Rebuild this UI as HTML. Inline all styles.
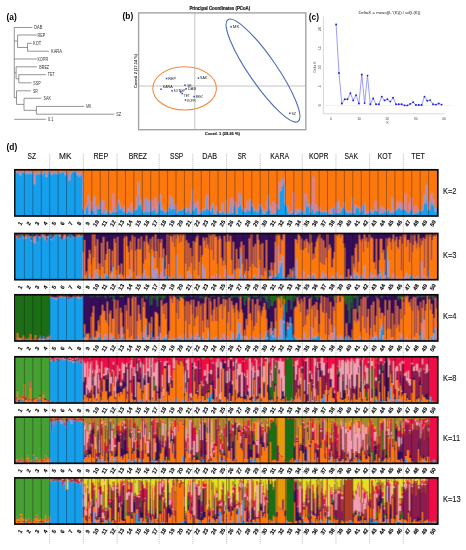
<!DOCTYPE html>
<html><head><meta charset="utf-8"><style>
html,body{margin:0;padding:0;background:#fff;}
body{width:466px;height:550px;overflow:hidden;}
svg{display:block;font-family:"Liberation Sans", sans-serif;will-change:transform;}
</style></head><body>
<svg width="466" height="550" viewBox="0 0 466 550">
<path d="M14.3 27.5V97.6M14.3 27.5H32.3M17.6 35V47.5M14.3 41H17.6M17.6 35H36.8M17.6 47.5H27.5M27.5 43.3V51.2M27.5 43.3H31.8M27.5 51.2H48.8M14.3 59H36.8M16.1 66.8V78.8M14.3 72.8H16.1M16.1 66.8H36.8M16.1 78.8H18.8M18.8 74.7V82.8M18.8 74.7H45.8M18.8 82.8H31.5M16.5 90.8V104.4M14.3 97.6H16.5M16.5 90.8H30.8M16.5 104.4H24M24 98.3V110.3M24 98.3H41.3M24 110.3H36.4M36.4 106.4V114.2M36.4 106.4H84.4M36.4 114.2H114.3M14.3 119.3H45.8" stroke="#7a7a7a" stroke-width="0.8" fill="none"/>
<text transform="translate(34.20 29.20) scale(0.831 1)" font-size="4.8" fill="#333" font-weight="normal" text-anchor="start" >DAB</text>
<text transform="translate(37.60 36.70) scale(0.770 1)" font-size="4.8" fill="#333" font-weight="normal" text-anchor="start" >REP</text>
<text transform="translate(33.00 45.00) scale(0.831 1)" font-size="4.8" fill="#333" font-weight="normal" text-anchor="start" >KOT</text>
<text transform="translate(51.00 52.90) scale(0.842 1)" font-size="4.8" fill="#333" font-weight="normal" text-anchor="start" >KARA</text>
<text transform="translate(37.60 60.70) scale(0.772 1)" font-size="4.8" fill="#333" font-weight="normal" text-anchor="start" >KOPR</text>
<text transform="translate(39.30 68.50) scale(0.766 1)" font-size="4.8" fill="#333" font-weight="normal" text-anchor="start" >BREZ</text>
<text transform="translate(47.80 76.40) scale(0.750 1)" font-size="4.8" fill="#333" font-weight="normal" text-anchor="start" >TET</text>
<text transform="translate(33.30 84.50) scale(0.760 1)" font-size="4.8" fill="#333" font-weight="normal" text-anchor="start" >SSP</text>
<text transform="translate(33.00 92.50) scale(0.720 1)" font-size="4.8" fill="#333" font-weight="normal" text-anchor="start" >SR</text>
<text transform="translate(43.60 100.00) scale(0.781 1)" font-size="4.8" fill="#333" font-weight="normal" text-anchor="start" >SAK</text>
<text transform="translate(86.30 108.10) scale(0.694 1)" font-size="4.8" fill="#333" font-weight="normal" text-anchor="start" >MK</text>
<text transform="translate(116.30 115.90) scale(0.799 1)" font-size="4.8" fill="#333" font-weight="normal" text-anchor="start" >SZ</text>
<text transform="translate(48.00 121.00) scale(0.794 1)" font-size="4.8" fill="#333" font-weight="normal" text-anchor="start" >0.1</text>
<text x="6.5" y="19.6" font-size="8.4" fill="#000" font-weight="bold" text-anchor="start" >(a)</text>
<text x="122.5" y="19.4" font-size="8.4" fill="#000" font-weight="bold" text-anchor="start" >(b)</text>
<text transform="translate(219.80 9.60) scale(0.871 1)" font-size="5.0" fill="#111" font-weight="bold" text-anchor="middle" stroke="#111" stroke-width="0.18" >Principal Coordinates (PCoA)</text>
<path d="M194.8 13V129.6M138.6 86H305.6" stroke="#b4b4b4" stroke-width="0.8"/>
<rect x="138.6" y="12.9" width="167.2" height="116.8" fill="none" stroke="#a4a4a4" stroke-width="1.4"/>
<ellipse cx="184.6" cy="88.4" rx="31.8" ry="21.6" fill="none" stroke="#f08a40" stroke-width="1.1"/>
<ellipse cx="263" cy="70.6" rx="61.8" ry="13.8" transform="rotate(55.4 263 70.6)" fill="none" stroke="#4a70b4" stroke-width="1.1"/>
<rect x="230.35" y="26.05" width="1.5" height="1.5" fill="#2a40d0"/>
<rect x="289.05" y="112.55" width="1.5" height="1.5" fill="#2a40d0"/>
<rect x="165.85" y="77.75" width="1.5" height="1.5" fill="#2a40d0"/>
<rect x="197.65" y="77.25" width="1.5" height="1.5" fill="#2a40d0"/>
<rect x="184.25" y="84.45" width="1.5" height="1.5" fill="#2a40d0"/>
<rect x="185.25" y="88.05" width="1.5" height="1.5" fill="#2a40d0"/>
<rect x="160.25" y="88.45" width="1.5" height="1.5" fill="#2a40d0"/>
<rect x="171.35" y="90.15" width="1.5" height="1.5" fill="#2a40d0"/>
<rect x="180.05" y="91.25" width="1.5" height="1.5" fill="#2a40d0"/>
<rect x="181.55" y="92.85" width="1.5" height="1.5" fill="#2a40d0"/>
<rect x="193.35" y="95.85" width="1.5" height="1.5" fill="#2a40d0"/>
<rect x="184.75" y="99.25" width="1.5" height="1.5" fill="#2a40d0"/>
<text transform="translate(232.80 28.30) scale(1.083 1)" font-size="4.0" fill="#222" font-weight="normal" text-anchor="start" >MK</text>
<text transform="translate(291.40 114.80) scale(0.900 1)" font-size="4.0" fill="#222" font-weight="normal" text-anchor="start" >SZ</text>
<text transform="translate(168.30 79.80) scale(0.936 1)" font-size="4.0" fill="#222" font-weight="normal" text-anchor="start" >REP</text>
<text transform="translate(200.00 79.30) scale(0.924 1)" font-size="4.0" fill="#222" font-weight="normal" text-anchor="start" >SAK</text>
<text transform="translate(187.20 86.50) scale(0.792 1)" font-size="4.0" fill="#222" font-weight="normal" text-anchor="start" >SR</text>
<text transform="translate(188.00 90.10) scale(0.973 1)" font-size="4.0" fill="#222" font-weight="normal" text-anchor="start" >DAB</text>
<text transform="translate(162.70 88.40) scale(0.918 1)" font-size="4.0" fill="#222" font-weight="normal" text-anchor="start" >KARA</text>
<text transform="translate(173.80 92.30) scale(0.754 1)" font-size="4.0" fill="#222" font-weight="normal" text-anchor="start" >KOT</text>
<text transform="translate(179.20 92.30) scale(0.775 1)" font-size="4.0" fill="#222" font-weight="normal" text-anchor="start" >SSP</text>
<text transform="translate(183.80 96.50) scale(0.794 1)" font-size="4.0" fill="#222" font-weight="normal" text-anchor="start" >TET</text>
<text transform="translate(195.80 97.90) scale(0.656 1)" font-size="4.0" fill="#222" font-weight="normal" text-anchor="start" >BREZ</text>
<text transform="translate(187.20 101.60) scale(0.759 1)" font-size="4.0" fill="#222" font-weight="normal" text-anchor="start" >KOPR</text>
<text x="136.6" y="71" font-size="3.9" fill="#222" font-weight="bold" text-anchor="middle" textLength="34" lengthAdjust="spacingAndGlyphs" transform="rotate(-90 136.6 71)">Coord. 2 (17.14 %)</text>
<text transform="translate(222.40 134.60) scale(1.009 1)" font-size="4.0" fill="#111" font-weight="bold" text-anchor="middle" stroke="#111" stroke-width="0.12" >Coord. 1 (29.26 %)</text>
<text x="308.8" y="19.5" font-size="8.4" fill="#000" font-weight="bold" text-anchor="start" >(c)</text>
<text x="389.5" y="13.9" font-size="4.2" fill="#222" font-weight="normal" text-anchor="middle" textLength="62" lengthAdjust="spacingAndGlyphs" >DeltaK = mean(|L''(K)|) / sd(L(K))</text>
<path d="M323.4 16.5V113.8H444.5" stroke="#b0b0b0" stroke-width="0.5" fill="none"/>
<path d="M325 105.4H451" stroke="#ece6c8" stroke-width="0.6"/>
<text x="321.3" y="29.1" font-size="3.3" fill="#444" font-weight="normal" text-anchor="middle" transform="rotate(-90 321.3 29.1)">20</text>
<text x="321.3" y="48.18" font-size="3.3" fill="#444" font-weight="normal" text-anchor="middle" transform="rotate(-90 321.3 48.2)">15</text>
<text x="321.3" y="67.25999999999999" font-size="3.3" fill="#444" font-weight="normal" text-anchor="middle" transform="rotate(-90 321.3 67.3)">10</text>
<text x="321.3" y="86.34" font-size="3.3" fill="#444" font-weight="normal" text-anchor="middle" transform="rotate(-90 321.3 86.3)">5</text>
<text x="321.3" y="105.41999999999999" font-size="3.3" fill="#444" font-weight="normal" text-anchor="middle" transform="rotate(-90 321.3 105.4)">0</text>
<text x="316.4" y="67" font-size="3.3" fill="#444" font-weight="normal" text-anchor="middle" transform="rotate(-90 316.4 67)">Delta K</text>
<text x="330.8" y="120" font-size="3.3" fill="#444" font-weight="normal" text-anchor="middle" >0</text>
<text x="359.08000000000004" y="120" font-size="3.3" fill="#444" font-weight="normal" text-anchor="middle" >10</text>
<text x="387.36" y="120" font-size="3.3" fill="#444" font-weight="normal" text-anchor="middle" >20</text>
<text x="415.64" y="120" font-size="3.3" fill="#444" font-weight="normal" text-anchor="middle" >30</text>
<text x="443.92" y="120" font-size="3.3" fill="#444" font-weight="normal" text-anchor="middle" >40</text>
<text x="387.7" y="123.6" font-size="3.3" fill="#444" font-weight="normal" text-anchor="middle" >K</text>
<path d="M336.1 24.5 L339.0 73.0 L341.8 103.5 L344.7 99.3 L347.5 99.3 L350.4 93.2 L353.2 100.4 L356.1 95.1 L358.9 103.5 L361.8 74.5 L364.6 103.1 L367.5 75.6 L370.3 104.3 L373.2 98.5 L376.0 104.3 L378.9 104.3 L381.7 96.6 L384.6 100.4 L387.4 99.3 L390.3 101.6 L393.1 97.8 L396.0 104.3 L398.8 104.3 L401.7 104.3 L404.5 105.4 L407.4 105.4 L410.2 103.9 L413.1 102.3 L415.9 105.0 L418.8 105.0 L421.6 105.0 L424.5 96.6 L427.3 100.8 L430.2 100.1 L433.0 104.3 L435.9 104.6 L438.7 103.5 L441.6 104.6" stroke="#7a7aff" stroke-width="0.75" fill="none"/>
<g fill="#1e1ee6"><circle cx="336.1" cy="24.5" r="0.95"/><circle cx="339.0" cy="73.0" r="0.95"/><circle cx="341.8" cy="103.5" r="0.95"/><circle cx="344.7" cy="99.3" r="0.95"/><circle cx="347.5" cy="99.3" r="0.95"/><circle cx="350.4" cy="93.2" r="0.95"/><circle cx="353.2" cy="100.4" r="0.95"/><circle cx="356.1" cy="95.1" r="0.95"/><circle cx="358.9" cy="103.5" r="0.95"/><circle cx="361.8" cy="74.5" r="0.95"/><circle cx="364.6" cy="103.1" r="0.95"/><circle cx="367.5" cy="75.6" r="0.95"/><circle cx="370.3" cy="104.3" r="0.95"/><circle cx="373.2" cy="98.5" r="0.95"/><circle cx="376.0" cy="104.3" r="0.95"/><circle cx="378.9" cy="104.3" r="0.95"/><circle cx="381.7" cy="96.6" r="0.95"/><circle cx="384.6" cy="100.4" r="0.95"/><circle cx="387.4" cy="99.3" r="0.95"/><circle cx="390.3" cy="101.6" r="0.95"/><circle cx="393.1" cy="97.8" r="0.95"/><circle cx="396.0" cy="104.3" r="0.95"/><circle cx="398.8" cy="104.3" r="0.95"/><circle cx="401.7" cy="104.3" r="0.95"/><circle cx="404.5" cy="105.4" r="0.95"/><circle cx="407.4" cy="105.4" r="0.95"/><circle cx="410.2" cy="103.9" r="0.95"/><circle cx="413.1" cy="102.3" r="0.95"/><circle cx="415.9" cy="105.0" r="0.95"/><circle cx="418.8" cy="105.0" r="0.95"/><circle cx="421.6" cy="105.0" r="0.95"/><circle cx="424.5" cy="96.6" r="0.95"/><circle cx="427.3" cy="100.8" r="0.95"/><circle cx="430.2" cy="100.1" r="0.95"/><circle cx="433.0" cy="104.3" r="0.95"/><circle cx="435.9" cy="104.6" r="0.95"/><circle cx="438.7" cy="103.5" r="0.95"/><circle cx="441.6" cy="104.6" r="0.95"/></g>
<text x="6.5" y="149.8" font-size="8.4" fill="#000" font-weight="bold" text-anchor="start" >(d)</text>
<text transform="translate(31.75 159.00) scale(0.792 1)" font-size="8.4" fill="#111" font-weight="normal" text-anchor="middle" stroke="#111" stroke-width="0.12" >SZ</text>
<text transform="translate(65.20 159.00) scale(0.984 1)" font-size="8.4" fill="#111" font-weight="normal" text-anchor="middle" stroke="#111" stroke-width="0.12" >MK</text>
<text transform="translate(100.80 159.00) scale(0.857 1)" font-size="8.4" fill="#111" font-weight="normal" text-anchor="middle" stroke="#111" stroke-width="0.12" >REP</text>
<text transform="translate(137.90 159.00) scale(0.812 1)" font-size="8.4" fill="#111" font-weight="normal" text-anchor="middle" stroke="#111" stroke-width="0.12" >BREZ</text>
<text transform="translate(176.60 159.00) scale(0.791 1)" font-size="8.4" fill="#111" font-weight="normal" text-anchor="middle" stroke="#111" stroke-width="0.12" >SSP</text>
<text transform="translate(209.60 159.00) scale(0.857 1)" font-size="8.4" fill="#111" font-weight="normal" text-anchor="middle" stroke="#111" stroke-width="0.12" >DAB</text>
<text transform="translate(241.90 159.00) scale(0.728 1)" font-size="8.4" fill="#111" font-weight="normal" text-anchor="middle" stroke="#111" stroke-width="0.12" >SR</text>
<text transform="translate(279.60 159.00) scale(0.822 1)" font-size="8.4" fill="#111" font-weight="normal" text-anchor="middle" stroke="#111" stroke-width="0.12" >KARA</text>
<text transform="translate(318.70 159.00) scale(0.823 1)" font-size="8.4" fill="#111" font-weight="normal" text-anchor="middle" stroke="#111" stroke-width="0.12" >KOPR</text>
<text transform="translate(351.20 159.00) scale(0.803 1)" font-size="8.4" fill="#111" font-weight="normal" text-anchor="middle" stroke="#111" stroke-width="0.12" >SAK</text>
<text transform="translate(384.80 159.00) scale(0.822 1)" font-size="8.4" fill="#111" font-weight="normal" text-anchor="middle" stroke="#111" stroke-width="0.12" >KOT</text>
<text transform="translate(418.00 159.00) scale(0.851 1)" font-size="8.4" fill="#111" font-weight="normal" text-anchor="middle" stroke="#111" stroke-width="0.12" >TET</text>
<path d="M49.68 154V544M83.36 154V544M117.04 154V544M159.14 154V544M192.82 154V544M226.50 154V544M260.18 154V544M302.28 154V544M335.96 154V544M369.64 154V544M403.32 154V544" stroke="#8c8c8c" stroke-width="0.6" stroke-dasharray="0.9 0.9"/>
<filter id="bl0" filterUnits="userSpaceOnUse" x="16.0" y="170.6" width="421.0" height="44.60000000000002"><feConvolveMatrix order="3" edgeMode="duplicate" kernelMatrix="0.02 0.04 0.02 0.18 0.48 0.18 0.02 0.04 0.02"/></filter>
<g filter="url(#bl0)">
<rect x="16.0" y="170.6" width="421.0" height="44.60000000000002" fill="#fc780a"/>
<g transform="translate(16.0,0) scale(1,0.1)">
<path d="M0 2152V1720h1v13h1v-17h1v12h1v29h1v-37h1v-4h1v5h1v11h1v9h1v-20h1v-2h1v22h1v-23h1v-4h1v25h1v-21h1v7h1v119h1v-117h1v17h1v-20h1v20h1v-23h1v-1h1v13h1v15h1v-22h1v-8h1v1h1v50h1v-35h1v-21h1v-5h1v15h1v28h1v-20h1v6h1v-17h1v-5h1v27h1v-2h1v-17h1h1v8h1v-10h1v2h1v-1h1v-3h1v35h1v-24h1v5h1v-2h1v74h1v-61h1v-30h1v2h1v1h1v5h1v-8h1v-5h1v40h1v-29h1v46h1v-18h1v-29h1v16h1v354h1v48h1v-55h1v-16h1v-26h1v-95h1v194h1v-40h1v-91h1v77h1v29h1v-154h1v184h1v-84h1h1v28h1h1v-83h1v8h1v119h1v-135h1v93h1v49h1v-16h1v-33h1v14h1v30h1v2h1v-28h1v16h1v-194h1v150h1v44h1v-2h1v-69h1v-58h1v35h1v64h1v-23h1v5h1v39h1v-59h1v73h1v1h1v-17h1v-40h1v48h1v-16h1v-77h1v104h1v-30h1v-18h1v17h1v-12h1v-124h1v-152h1v240h1v-62h1v60h1v41h1v30h1v-1h1v-138h1v-7h1v148h1v-116h1v111h1v-115h1v-6h1v116h1v-47h1v26h1v-122h1v161h1v-12h1v-82h1v-29h1v-72h1v163h1v-38h1v47h1v-6h1v22h1v-13h1v10h1v-43h1v-25h1v-95h1v136h1v-114h1v70h1v36h1v-52h1v99h1v-32h1v-11h1v14h1v-3h1v1h1v-16h1v-2h1v-5h1v-6h1v49h1v-42h1v-7h1v35h1v23h1v-123h1v-119h1v215h1v-71h1v46h1v-11h1v-66h1v140h1v-48h1v15h1v18h1v-31h1v-15h1v24h1v-19h1v-116h1v-30h1v148h1v10h1v20h1v-61h1v-28h1v54h1v52h1v6h1v-82h1v55h1v7h1v5h1v-20h1v23h1v-105h1v97h1v-11h1v26h1v-144h1v143h1v-12h1v11h1v-78h1v-82h1v154h1v-136h1v70h1v-45h1v124h1v-89h1v16h1v-149h1v25h1v107h1v42h1v13h1v-32h1v44h1v-16h1v-103h1v87h1v21h1v-123h1v39h1v42h1v-8h1v53h1v-5h1v-12h1v28h1v-22h1v-62h1v-6h1v35h1v22h1v48h1v4h1v-49h1v22h1v-118h1v-54h1v155h1v-50h1v90h1v-1h1v-121h1v126h1v-12h1v-94h1v51h1v5h1v-278h1v97h1v-36h1v-98h1v6h1v63h1v199h1v17h1v-8h1v68h1v19h1v-11h1v-28h1v33h1v-213h1v182h1v44h1v-57h1v38h1v-43h1v41h1v-33h1v8h1v19h1v3h1v13h1v-211h1v63h1v77h1v-2h1v-24h1v86h1v-86h1v57h1v-332h1v367h1v-96h1v72h1v-18h1v23h1v-50h1v46h1v15h1v-9h1v8h1v-16h1v11h1v-19h1v42h1v-15h1v-35h1v42h1v10h1v-64h1v-4h1v9h1v44h1v-108h1v110h1v-120h1v121h1v-15h1v-26h1v-23h1v8h1v-58h1v80h1v22h1v-18h1v30h1v-21h1v4h1v17h1v-150h1v74h1v76h1v-86h1v35h1v2h1v-1h1v-14h1v57h1v-9h1v-64h1v-7h1v-10h1v111h1v-13h1v-26h1v30h1v-14h1v-39h1v36h1v15h1v-26h1v-12h1v-91h1v105h1v-38h1v47h1v20h1v-43h1v-34h1v67h1v-51h1v18h1v25h1v5h1v-36h1v6h1v9h1v27h1v-8h1v-152h1v158h1v-18h1v-22h1v11h1v-89h1v70h1v1h1v-67h1v84h1v-7h1v-65h1v72h1v-165h1v168h1v17h1v10h1v-90h1v66h1v-134h1v117h1v51h1v-5h1v-84h1v73h1v9h1v-39h1v20h1v-12h1v10h1v-13h1v-60h1v-97h1v93h1v-191h1v158h1v98h1v-7h1v-83h1v-84h1v118h1v-59h1v79h1v56h1v-40h1V2152Z" fill="#16a0ec"/>
</g></g>
<path d="M24.42 170.6V215.20000000000002M32.84 170.6V215.20000000000002M41.26 170.6V215.20000000000002M49.68 170.6V215.20000000000002M58.10 170.6V215.20000000000002M66.52 170.6V215.20000000000002M74.94 170.6V215.20000000000002M83.36 170.6V215.20000000000002M91.78 170.6V215.20000000000002M100.20 170.6V215.20000000000002M108.62 170.6V215.20000000000002M117.04 170.6V215.20000000000002M125.46 170.6V215.20000000000002M133.88 170.6V215.20000000000002M142.30 170.6V215.20000000000002M150.72 170.6V215.20000000000002M159.14 170.6V215.20000000000002M167.56 170.6V215.20000000000002M175.98 170.6V215.20000000000002M184.40 170.6V215.20000000000002M192.82 170.6V215.20000000000002M201.24 170.6V215.20000000000002M209.66 170.6V215.20000000000002M218.08 170.6V215.20000000000002M226.50 170.6V215.20000000000002M234.92 170.6V215.20000000000002M243.34 170.6V215.20000000000002M251.76 170.6V215.20000000000002M260.18 170.6V215.20000000000002M268.60 170.6V215.20000000000002M277.02 170.6V215.20000000000002M285.44 170.6V215.20000000000002M293.86 170.6V215.20000000000002M302.28 170.6V215.20000000000002M310.70 170.6V215.20000000000002M319.12 170.6V215.20000000000002M327.54 170.6V215.20000000000002M335.96 170.6V215.20000000000002M344.38 170.6V215.20000000000002M352.80 170.6V215.20000000000002M361.22 170.6V215.20000000000002M369.64 170.6V215.20000000000002M378.06 170.6V215.20000000000002M386.48 170.6V215.20000000000002M394.90 170.6V215.20000000000002M403.32 170.6V215.20000000000002M411.74 170.6V215.20000000000002M420.16 170.6V215.20000000000002M428.58 170.6V215.20000000000002" stroke="#101018" stroke-width="0.6" opacity="0.6"/>
<rect x="14.9" y="169.8" width="422.90000000000003" height="46.199999999999996" fill="none" stroke="#0a0a0a" stroke-width="1.7"/>
<text x="20.21" y="225.3" font-size="5.5" fill="#000" font-weight="bold" text-anchor="middle" stroke="#000" stroke-width="0.12" transform="rotate(-60 20.21 223.40)">1</text>
<text x="28.63" y="225.3" font-size="5.5" fill="#000" font-weight="bold" text-anchor="middle" stroke="#000" stroke-width="0.12" transform="rotate(-60 28.63 223.40)">2</text>
<text x="37.05" y="225.3" font-size="5.5" fill="#000" font-weight="bold" text-anchor="middle" stroke="#000" stroke-width="0.12" transform="rotate(-60 37.05 223.40)">3</text>
<text x="45.47" y="225.3" font-size="5.5" fill="#000" font-weight="bold" text-anchor="middle" stroke="#000" stroke-width="0.12" transform="rotate(-60 45.47 223.40)">4</text>
<text x="53.89" y="225.3" font-size="5.5" fill="#000" font-weight="bold" text-anchor="middle" stroke="#000" stroke-width="0.12" transform="rotate(-60 53.89 223.40)">5</text>
<text x="62.31" y="225.3" font-size="5.5" fill="#000" font-weight="bold" text-anchor="middle" stroke="#000" stroke-width="0.12" transform="rotate(-60 62.31 223.40)">6</text>
<text x="70.72999999999999" y="225.3" font-size="5.5" fill="#000" font-weight="bold" text-anchor="middle" stroke="#000" stroke-width="0.12" transform="rotate(-60 70.73 223.40)">7</text>
<text x="79.15" y="225.3" font-size="5.5" fill="#000" font-weight="bold" text-anchor="middle" stroke="#000" stroke-width="0.12" transform="rotate(-60 79.15 223.40)">8</text>
<text x="87.57" y="225.3" font-size="5.5" fill="#000" font-weight="bold" text-anchor="middle" stroke="#000" stroke-width="0.12" transform="rotate(-60 87.57 223.40)">9</text>
<text x="95.99" y="225.3" font-size="5.5" fill="#000" font-weight="bold" text-anchor="middle" stroke="#000" stroke-width="0.12" transform="rotate(-60 95.99 223.40)">10</text>
<text x="104.41" y="225.3" font-size="5.5" fill="#000" font-weight="bold" text-anchor="middle" stroke="#000" stroke-width="0.12" transform="rotate(-60 104.41 223.40)">11</text>
<text x="112.83" y="225.3" font-size="5.5" fill="#000" font-weight="bold" text-anchor="middle" stroke="#000" stroke-width="0.12" transform="rotate(-60 112.83 223.40)">12</text>
<text x="121.25" y="225.3" font-size="5.5" fill="#000" font-weight="bold" text-anchor="middle" stroke="#000" stroke-width="0.12" transform="rotate(-60 121.25 223.40)">13</text>
<text x="129.67000000000002" y="225.3" font-size="5.5" fill="#000" font-weight="bold" text-anchor="middle" stroke="#000" stroke-width="0.12" transform="rotate(-60 129.67 223.40)">14</text>
<text x="138.09" y="225.3" font-size="5.5" fill="#000" font-weight="bold" text-anchor="middle" stroke="#000" stroke-width="0.12" transform="rotate(-60 138.09 223.40)">15</text>
<text x="146.51" y="225.3" font-size="5.5" fill="#000" font-weight="bold" text-anchor="middle" stroke="#000" stroke-width="0.12" transform="rotate(-60 146.51 223.40)">16</text>
<text x="154.93" y="225.3" font-size="5.5" fill="#000" font-weight="bold" text-anchor="middle" stroke="#000" stroke-width="0.12" transform="rotate(-60 154.93 223.40)">17</text>
<text x="163.35" y="225.3" font-size="5.5" fill="#000" font-weight="bold" text-anchor="middle" stroke="#000" stroke-width="0.12" transform="rotate(-60 163.35 223.40)">18</text>
<text x="171.77" y="225.3" font-size="5.5" fill="#000" font-weight="bold" text-anchor="middle" stroke="#000" stroke-width="0.12" transform="rotate(-60 171.77 223.40)">19</text>
<text x="180.19" y="225.3" font-size="5.5" fill="#000" font-weight="bold" text-anchor="middle" stroke="#000" stroke-width="0.12" transform="rotate(-60 180.19 223.40)">20</text>
<text x="188.60999999999999" y="225.3" font-size="5.5" fill="#000" font-weight="bold" text-anchor="middle" stroke="#000" stroke-width="0.12" transform="rotate(-60 188.61 223.40)">21</text>
<text x="197.03" y="225.3" font-size="5.5" fill="#000" font-weight="bold" text-anchor="middle" stroke="#000" stroke-width="0.12" transform="rotate(-60 197.03 223.40)">22</text>
<text x="205.45" y="225.3" font-size="5.5" fill="#000" font-weight="bold" text-anchor="middle" stroke="#000" stroke-width="0.12" transform="rotate(-60 205.45 223.40)">23</text>
<text x="213.87" y="225.3" font-size="5.5" fill="#000" font-weight="bold" text-anchor="middle" stroke="#000" stroke-width="0.12" transform="rotate(-60 213.87 223.40)">24</text>
<text x="222.29" y="225.3" font-size="5.5" fill="#000" font-weight="bold" text-anchor="middle" stroke="#000" stroke-width="0.12" transform="rotate(-60 222.29 223.40)">25</text>
<text x="230.71" y="225.3" font-size="5.5" fill="#000" font-weight="bold" text-anchor="middle" stroke="#000" stroke-width="0.12" transform="rotate(-60 230.71 223.40)">26</text>
<text x="239.13" y="225.3" font-size="5.5" fill="#000" font-weight="bold" text-anchor="middle" stroke="#000" stroke-width="0.12" transform="rotate(-60 239.13 223.40)">27</text>
<text x="247.55" y="225.3" font-size="5.5" fill="#000" font-weight="bold" text-anchor="middle" stroke="#000" stroke-width="0.12" transform="rotate(-60 247.55 223.40)">28</text>
<text x="255.97" y="225.3" font-size="5.5" fill="#000" font-weight="bold" text-anchor="middle" stroke="#000" stroke-width="0.12" transform="rotate(-60 255.97 223.40)">29</text>
<text x="264.39" y="225.3" font-size="5.5" fill="#000" font-weight="bold" text-anchor="middle" stroke="#000" stroke-width="0.12" transform="rotate(-60 264.39 223.40)">30</text>
<text x="272.81" y="225.3" font-size="5.5" fill="#000" font-weight="bold" text-anchor="middle" stroke="#000" stroke-width="0.12" transform="rotate(-60 272.81 223.40)">31</text>
<text x="281.23" y="225.3" font-size="5.5" fill="#000" font-weight="bold" text-anchor="middle" stroke="#000" stroke-width="0.12" transform="rotate(-60 281.23 223.40)">32</text>
<text x="289.65" y="225.3" font-size="5.5" fill="#000" font-weight="bold" text-anchor="middle" stroke="#000" stroke-width="0.12" transform="rotate(-60 289.65 223.40)">33</text>
<text x="298.07" y="225.3" font-size="5.5" fill="#000" font-weight="bold" text-anchor="middle" stroke="#000" stroke-width="0.12" transform="rotate(-60 298.07 223.40)">34</text>
<text x="306.49" y="225.3" font-size="5.5" fill="#000" font-weight="bold" text-anchor="middle" stroke="#000" stroke-width="0.12" transform="rotate(-60 306.49 223.40)">35</text>
<text x="314.91" y="225.3" font-size="5.5" fill="#000" font-weight="bold" text-anchor="middle" stroke="#000" stroke-width="0.12" transform="rotate(-60 314.91 223.40)">36</text>
<text x="323.33" y="225.3" font-size="5.5" fill="#000" font-weight="bold" text-anchor="middle" stroke="#000" stroke-width="0.12" transform="rotate(-60 323.33 223.40)">37</text>
<text x="331.75" y="225.3" font-size="5.5" fill="#000" font-weight="bold" text-anchor="middle" stroke="#000" stroke-width="0.12" transform="rotate(-60 331.75 223.40)">38</text>
<text x="340.17" y="225.3" font-size="5.5" fill="#000" font-weight="bold" text-anchor="middle" stroke="#000" stroke-width="0.12" transform="rotate(-60 340.17 223.40)">39</text>
<text x="348.59" y="225.3" font-size="5.5" fill="#000" font-weight="bold" text-anchor="middle" stroke="#000" stroke-width="0.12" transform="rotate(-60 348.59 223.40)">40</text>
<text x="357.01" y="225.3" font-size="5.5" fill="#000" font-weight="bold" text-anchor="middle" stroke="#000" stroke-width="0.12" transform="rotate(-60 357.01 223.40)">41</text>
<text x="365.43" y="225.3" font-size="5.5" fill="#000" font-weight="bold" text-anchor="middle" stroke="#000" stroke-width="0.12" transform="rotate(-60 365.43 223.40)">42</text>
<text x="373.85" y="225.3" font-size="5.5" fill="#000" font-weight="bold" text-anchor="middle" stroke="#000" stroke-width="0.12" transform="rotate(-60 373.85 223.40)">43</text>
<text x="382.27" y="225.3" font-size="5.5" fill="#000" font-weight="bold" text-anchor="middle" stroke="#000" stroke-width="0.12" transform="rotate(-60 382.27 223.40)">44</text>
<text x="390.69" y="225.3" font-size="5.5" fill="#000" font-weight="bold" text-anchor="middle" stroke="#000" stroke-width="0.12" transform="rotate(-60 390.69 223.40)">45</text>
<text x="399.11" y="225.3" font-size="5.5" fill="#000" font-weight="bold" text-anchor="middle" stroke="#000" stroke-width="0.12" transform="rotate(-60 399.11 223.40)">46</text>
<text x="407.53" y="225.3" font-size="5.5" fill="#000" font-weight="bold" text-anchor="middle" stroke="#000" stroke-width="0.12" transform="rotate(-60 407.53 223.40)">47</text>
<text x="415.95" y="225.3" font-size="5.5" fill="#000" font-weight="bold" text-anchor="middle" stroke="#000" stroke-width="0.12" transform="rotate(-60 415.95 223.40)">48</text>
<text x="424.37" y="225.3" font-size="5.5" fill="#000" font-weight="bold" text-anchor="middle" stroke="#000" stroke-width="0.12" transform="rotate(-60 424.37 223.40)">49</text>
<text x="432.79" y="225.3" font-size="5.5" fill="#000" font-weight="bold" text-anchor="middle" stroke="#000" stroke-width="0.12" transform="rotate(-60 432.79 223.40)">50</text>
<text transform="translate(442.90 193.80) scale(0.920 1)" font-size="8.2" fill="#111" font-weight="normal" text-anchor="start" stroke="#111" stroke-width="0.1" >K=2</text>
<filter id="bl1" filterUnits="userSpaceOnUse" x="16.0" y="234.29999999999998" width="421.0" height="44.599999999999994"><feConvolveMatrix order="3" edgeMode="duplicate" kernelMatrix="0.02 0.04 0.02 0.18 0.48 0.18 0.02 0.04 0.02"/></filter>
<g filter="url(#bl1)">
<rect x="16.0" y="234.29999999999998" width="421.0" height="44.599999999999994" fill="#34085a"/>
<g transform="translate(16.0,0) scale(1,0.1)">
<path d="M0 2789V2362h1v-9h1v33h1v-34h1v25h1v-23h1v-5h1v15h1v7h1v-18h1v-4h1v20h1v-21h1v17h1v-4h1v39h1v-47h1v16h1v-8h1v1h1v-13h1v68h1v-59h1h1v11h1v-22h1v1h1v2h1v5h1h1v50h1v-48h1v2h1v-9h1v-2h1v41h1v-34h1v21h1v-30h1v6h1v-3h1v7h1v-10h1v4h1v1h1v42h1h1v-39h1v-4h1v-2h1v25h1v-18h1v13h1v-20h1v32h1v-33h1v16h1v-6h1v15h1v1h1v-23h1v13h1v-13h1v-1h1v9h1v-4h1v-9h1v172h1v-117h1v349h1v-37h1v71h1v-199h1v-85h1v37h1v107h1v-295h1v228h1v-226h1v106h1v235h1v-298h1v239h1v61h1v-58h1v-206h1v240h1v-299h1v370h1v-141h1v-59h1v-126h1v79h1v-4h1v247h1v-24h1v-208h1v167h1v-285h1v42h1v272h1v-332h1v285h1v97h1v-18h1v-96h1v112h1v17h1v-385h1v-22h1v8h1v97h1v58h1v168h1v-277h1v86h1v-142h1v359h1v-348h1v139h1v253h1v-270h1v-103h1v113h1v-8h1v-127h1v363h1v-91h1v-223h1v179h1v-236h1v67h1v24h1v77h1v-133h1v97h1v-120h1v140h1v67h1v-227h1v161h1v171h1v-290h1v182h1v-145h1v-37h1v188h1v-93h1v278h1v-74h1v-137h1v-204h1v291h1v131h1v-415h1v11h1v50h1v-63h1v116h1v-123h1v37h1v-39h1v10h1v77h1v-86h1v71h1v-60h1v-12h1v9h1v281h1v-231h1v303h1v-277h1v241h1v-190h1v151h1v-74h1v-148h1v287h1v-277h1v-44h1v-19h1v395h1v-133h1v-163h1v112h1v-16h1v-176h1v30h1v73h1v-104h1v69h1v41h1v-138h1v13h1v140h1v-151h1v247h1v-248h1v22h1v-4h1v272h1v-240h1v-37h1v26h1v189h1v80h1v-50h1v-244h1v288h1v-232h1v-68h1v64h1v2h1v-58h1v240h1v141h1v-321h1v270h1v12h1v-211h1v193h1v-92h1v97h1v-213h1v-57h1v219h1v-184h1v287h1v-34h1v-114h1v191h1v-71h1v-327h1v287h1v-322h1v287h1v-171h1v203h1v-226h1v238h1v-333h1v48h1v198h1v-149h1v308h1v-319h1v334h1v-87h1v30h1v-308h1v380h1v-11h1v-70h1v58h1v-132h1v77h1v76h1v-155h1v-207h1v-61h1v-6h1v4h1v-1h1v182h1v-143h1v14h1v-60h1v2h1v430h1v-2h1v-2h1v-29h1v41h1v-98h1v96h1v-77h1v-33h1v104h1v-388h1v11h1v31h1v-83h1v12h1v135h1v-112h1v114h1v1h1v-94h1v74h1v-91h1v33h1v110h1v-94h1v-92h1v78h1v173h1v-60h1v46h1v-115h1v-53h1v-26h1v-24h1v-15h1v274h1v-241h1v253h1v-233h1v248h1v-174h1v99h1v-230h1v150h1v-49h1v29h1v198h1v-1h1v-88h1v-65h1v-168h1v1h1v5h1v-7h1v-5h1v29h1v-28h1v6h1v80h1v43h1v308h1v-12h1v15h1v-97h1v96h1v-31h1v1h1v-199h1v79h1v38h1v-196h1v-38h1v282h1v-104h1v-265h1v42h1v22h1v-25h1v127h1v-168h1v57h1v-33h1v104h1v-59h1v-71h1v39h1v-14h1v11h1v242h1v-6h1v71h1v-304h1v368h1v-18h1v-138h1v-212h1v1h1v138h1v-26h1v95h1v156h1v-369h1v79h1v-73h1v-13h1v46h1v76h1v-109h1v-38h1v71h1v-20h1v-34h1v103h1v15h1v-91h1v-31h1v339h1v-266h1v-91h1v26h1v-26h1v121h1v-67h1v-2h1v219h1v-185h1v-79h1v167h1v-68h1v-99h1v57h1v74h1v-49h1v-84h1v123h1v-91h1v65h1v-42h1v-27h1v300h1v-291h1v-35h1v411h1v-416h1v19h1v-22h1v251h1v-197h1v-44h1v2h1v10h1v-15h1V2789Z" fill="#fc780a"/>
<path d="M0 2789V2371h1v3h1v14h1v-30h1v25h1v-28h1v-1h1v13h1v20h1v-1h1v-17h1v6h1v-23h1v15h1v10h1v30h1v-53h1v31h1v48h1v-60h1v-22h1v71h1v-54h1v-3h1v13h1v-9h1v-17h1v13h1v-7h1v41h1v11h1v-27h1v-23h1v-8h1v-1h1v50h1v-36h1v21h1v-31h1v2h1v-7h1v12h1v-13h1v12h1v1h1v34h1v-1h1v-4h1v-14h1v-24h1v27h1v-20h1v13h1v-24h1v35h1v-35h1v16h1v-2h1v12h1h1v-15h1v12h1v-5h1v-2h1h1h1v-13h1v432h1v3h1v-11h1v9h1v-1h1v-46h1v43h1v-13h1v19h1v-1h1v-16h1v14h1v-88h1v31h1v55h1v-16h1v-1h1v-10h1v32h1h1v-10h1v1h1v-38h1v-1h1v15h1v5h1v5h1v21h1v-8h1v-118h1v120h1v8h1v-6h1v-22h1v22h1v-47h1v37h1v6h1v10h1v1h1v1h1v-13h1v7h1v-4h1v-28h1v32h1v3h1v-90h1v80h1v11h1v-3h1v-3h1v4h1v3h1v-46h1v47h1v-2h1v-30h1v26h1v-15h1v18h1v-87h1v61h1v26h1v-8h1v-7h1v14h1v-1h1v-9h1v-215h1v225h1v-94h1v97h1v-95h1v63h1v32h1v-44h1v38h1v-63h1v70h1v-217h1v216h1v-38h1v8h1v-4h1v22h1v8h1h1h1v-19h1v8h1v3h1v13h1v-243h1v240h1v-12h1v8h1v-30h1v16h1v12h1v8h1v-5h1v-6h1v2h1v8h1v-81h1v65h1v11h1v-45h1v42h1v5h1v-4h1v5h1v4h1v-3h1v-18h1v10h1v9h1v-9h1v-136h1v146h1v-105h1v98h1v8h1v-8h1v-7h1v14h1h1v-20h1v17h1v-27h1v25h1v4h1v-1h1v-52h1v48h1v-19h1v25h1v-1h1v-5h1v4h1v-5h1v-94h1v101h1v-1h1v-33h1v3h1v27h1v-23h1v19h1v3h1v-72h1v70h1v6h1v-10h1v4h1v-8h1v-235h1v209h1v38h1v3h1v-44h1v24h1v16h1v-1h1v2h1v-2h1v1h1v-3h1v2h1v-7h1v-29h1v18h1v10h1v9h1v2h1v-111h1v94h1v12h1v6h1v-1h1v-2h1v-2h1v-2h1v2h1v5h1v-67h1v67h1v-30h1v14h1v12h1v-14h1v-37h1v27h1v-305h1v279h1v-62h1v-67h1v28h1v-78h1v221h1v-12h1v19h1v-6h1v10h1v-20h1v22h1v-16h1v13h1v-16h1v-83h1v100h1v-20h1v-181h1v197h1v5h1h1v-4h1v-19h1v22h1v-82h1v76h1v3h1v-1h1v-8h1v-23h1v29h1v8h1v-11h1v-24h1v-25h1v32h1v19h1v8h1v-1h1v-11h1v13h1v-12h1v12h1v-65h1v61h1v-11h1v-37h1v25h1v27h1h1v-6h1v7h1v-20h1v-15h1v33h1v-5h1v-10h1v-51h1v66h1h1v1h1v-36h1v36h1v-2h1v-4h1v-39h1v43h1v1h1v2h1v-8h1v8h1v-30h1v26h1v-14h1v-67h1v83h1v-53h1v15h1v2h1v35h1v-2h1v-29h1v-11h1v30h1v8h1v-128h1v131h1v-1h1v-5h1v-8h1v13h1v-62h1v65h1h1v-41h1v23h1v-20h1v28h1v-18h1v20h1v-80h1v27h1v42h1v12h1h1v-70h1v72h1v-288h1v276h1v-174h1v179h1v2h1v7h1v-7h1v-46h1v54h1v-9h1v9h1v-14h1v8h1v8h1v-2h1v2h1v-18h1v19h1v-17h1v17h1v-64h1v54h1v5h1v-34h1v13h1v-5h1h1v29h1v-11h1v9h1v-14h1v-12h1v29h1v-3h1v4h1v-170h1v160h1v-31h1v39h1h1v-1h1v-3h1v-88h1v85h1v6h1v-13h1v8h1v9h1v-3h1v-8h1h1V2789Z" fill="#16a0ec"/>
</g></g>
<path d="M24.42 234.29999999999998V278.9M32.84 234.29999999999998V278.9M41.26 234.29999999999998V278.9M49.68 234.29999999999998V278.9M58.10 234.29999999999998V278.9M66.52 234.29999999999998V278.9M74.94 234.29999999999998V278.9M83.36 234.29999999999998V278.9M91.78 234.29999999999998V278.9M100.20 234.29999999999998V278.9M108.62 234.29999999999998V278.9M117.04 234.29999999999998V278.9M125.46 234.29999999999998V278.9M133.88 234.29999999999998V278.9M142.30 234.29999999999998V278.9M150.72 234.29999999999998V278.9M159.14 234.29999999999998V278.9M167.56 234.29999999999998V278.9M175.98 234.29999999999998V278.9M184.40 234.29999999999998V278.9M192.82 234.29999999999998V278.9M201.24 234.29999999999998V278.9M209.66 234.29999999999998V278.9M218.08 234.29999999999998V278.9M226.50 234.29999999999998V278.9M234.92 234.29999999999998V278.9M243.34 234.29999999999998V278.9M251.76 234.29999999999998V278.9M260.18 234.29999999999998V278.9M268.60 234.29999999999998V278.9M277.02 234.29999999999998V278.9M285.44 234.29999999999998V278.9M293.86 234.29999999999998V278.9M302.28 234.29999999999998V278.9M310.70 234.29999999999998V278.9M319.12 234.29999999999998V278.9M327.54 234.29999999999998V278.9M335.96 234.29999999999998V278.9M344.38 234.29999999999998V278.9M352.80 234.29999999999998V278.9M361.22 234.29999999999998V278.9M369.64 234.29999999999998V278.9M378.06 234.29999999999998V278.9M386.48 234.29999999999998V278.9M394.90 234.29999999999998V278.9M403.32 234.29999999999998V278.9M411.74 234.29999999999998V278.9M420.16 234.29999999999998V278.9M428.58 234.29999999999998V278.9" stroke="#101018" stroke-width="0.6" opacity="0.6"/>
<rect x="14.9" y="233.5" width="422.90000000000003" height="46.199999999999996" fill="none" stroke="#0a0a0a" stroke-width="1.7"/>
<text x="20.21" y="289.0" font-size="5.5" fill="#000" font-weight="bold" text-anchor="middle" stroke="#000" stroke-width="0.12" transform="rotate(-60 20.21 287.10)">1</text>
<text x="28.63" y="289.0" font-size="5.5" fill="#000" font-weight="bold" text-anchor="middle" stroke="#000" stroke-width="0.12" transform="rotate(-60 28.63 287.10)">2</text>
<text x="37.05" y="289.0" font-size="5.5" fill="#000" font-weight="bold" text-anchor="middle" stroke="#000" stroke-width="0.12" transform="rotate(-60 37.05 287.10)">3</text>
<text x="45.47" y="289.0" font-size="5.5" fill="#000" font-weight="bold" text-anchor="middle" stroke="#000" stroke-width="0.12" transform="rotate(-60 45.47 287.10)">4</text>
<text x="53.89" y="289.0" font-size="5.5" fill="#000" font-weight="bold" text-anchor="middle" stroke="#000" stroke-width="0.12" transform="rotate(-60 53.89 287.10)">5</text>
<text x="62.31" y="289.0" font-size="5.5" fill="#000" font-weight="bold" text-anchor="middle" stroke="#000" stroke-width="0.12" transform="rotate(-60 62.31 287.10)">6</text>
<text x="70.72999999999999" y="289.0" font-size="5.5" fill="#000" font-weight="bold" text-anchor="middle" stroke="#000" stroke-width="0.12" transform="rotate(-60 70.73 287.10)">7</text>
<text x="79.15" y="289.0" font-size="5.5" fill="#000" font-weight="bold" text-anchor="middle" stroke="#000" stroke-width="0.12" transform="rotate(-60 79.15 287.10)">8</text>
<text x="87.57" y="289.0" font-size="5.5" fill="#000" font-weight="bold" text-anchor="middle" stroke="#000" stroke-width="0.12" transform="rotate(-60 87.57 287.10)">9</text>
<text x="95.99" y="289.0" font-size="5.5" fill="#000" font-weight="bold" text-anchor="middle" stroke="#000" stroke-width="0.12" transform="rotate(-60 95.99 287.10)">10</text>
<text x="104.41" y="289.0" font-size="5.5" fill="#000" font-weight="bold" text-anchor="middle" stroke="#000" stroke-width="0.12" transform="rotate(-60 104.41 287.10)">11</text>
<text x="112.83" y="289.0" font-size="5.5" fill="#000" font-weight="bold" text-anchor="middle" stroke="#000" stroke-width="0.12" transform="rotate(-60 112.83 287.10)">12</text>
<text x="121.25" y="289.0" font-size="5.5" fill="#000" font-weight="bold" text-anchor="middle" stroke="#000" stroke-width="0.12" transform="rotate(-60 121.25 287.10)">13</text>
<text x="129.67000000000002" y="289.0" font-size="5.5" fill="#000" font-weight="bold" text-anchor="middle" stroke="#000" stroke-width="0.12" transform="rotate(-60 129.67 287.10)">14</text>
<text x="138.09" y="289.0" font-size="5.5" fill="#000" font-weight="bold" text-anchor="middle" stroke="#000" stroke-width="0.12" transform="rotate(-60 138.09 287.10)">15</text>
<text x="146.51" y="289.0" font-size="5.5" fill="#000" font-weight="bold" text-anchor="middle" stroke="#000" stroke-width="0.12" transform="rotate(-60 146.51 287.10)">16</text>
<text x="154.93" y="289.0" font-size="5.5" fill="#000" font-weight="bold" text-anchor="middle" stroke="#000" stroke-width="0.12" transform="rotate(-60 154.93 287.10)">17</text>
<text x="163.35" y="289.0" font-size="5.5" fill="#000" font-weight="bold" text-anchor="middle" stroke="#000" stroke-width="0.12" transform="rotate(-60 163.35 287.10)">18</text>
<text x="171.77" y="289.0" font-size="5.5" fill="#000" font-weight="bold" text-anchor="middle" stroke="#000" stroke-width="0.12" transform="rotate(-60 171.77 287.10)">19</text>
<text x="180.19" y="289.0" font-size="5.5" fill="#000" font-weight="bold" text-anchor="middle" stroke="#000" stroke-width="0.12" transform="rotate(-60 180.19 287.10)">20</text>
<text x="188.60999999999999" y="289.0" font-size="5.5" fill="#000" font-weight="bold" text-anchor="middle" stroke="#000" stroke-width="0.12" transform="rotate(-60 188.61 287.10)">21</text>
<text x="197.03" y="289.0" font-size="5.5" fill="#000" font-weight="bold" text-anchor="middle" stroke="#000" stroke-width="0.12" transform="rotate(-60 197.03 287.10)">22</text>
<text x="205.45" y="289.0" font-size="5.5" fill="#000" font-weight="bold" text-anchor="middle" stroke="#000" stroke-width="0.12" transform="rotate(-60 205.45 287.10)">23</text>
<text x="213.87" y="289.0" font-size="5.5" fill="#000" font-weight="bold" text-anchor="middle" stroke="#000" stroke-width="0.12" transform="rotate(-60 213.87 287.10)">24</text>
<text x="222.29" y="289.0" font-size="5.5" fill="#000" font-weight="bold" text-anchor="middle" stroke="#000" stroke-width="0.12" transform="rotate(-60 222.29 287.10)">25</text>
<text x="230.71" y="289.0" font-size="5.5" fill="#000" font-weight="bold" text-anchor="middle" stroke="#000" stroke-width="0.12" transform="rotate(-60 230.71 287.10)">26</text>
<text x="239.13" y="289.0" font-size="5.5" fill="#000" font-weight="bold" text-anchor="middle" stroke="#000" stroke-width="0.12" transform="rotate(-60 239.13 287.10)">27</text>
<text x="247.55" y="289.0" font-size="5.5" fill="#000" font-weight="bold" text-anchor="middle" stroke="#000" stroke-width="0.12" transform="rotate(-60 247.55 287.10)">28</text>
<text x="255.97" y="289.0" font-size="5.5" fill="#000" font-weight="bold" text-anchor="middle" stroke="#000" stroke-width="0.12" transform="rotate(-60 255.97 287.10)">29</text>
<text x="264.39" y="289.0" font-size="5.5" fill="#000" font-weight="bold" text-anchor="middle" stroke="#000" stroke-width="0.12" transform="rotate(-60 264.39 287.10)">30</text>
<text x="272.81" y="289.0" font-size="5.5" fill="#000" font-weight="bold" text-anchor="middle" stroke="#000" stroke-width="0.12" transform="rotate(-60 272.81 287.10)">31</text>
<text x="281.23" y="289.0" font-size="5.5" fill="#000" font-weight="bold" text-anchor="middle" stroke="#000" stroke-width="0.12" transform="rotate(-60 281.23 287.10)">32</text>
<text x="289.65" y="289.0" font-size="5.5" fill="#000" font-weight="bold" text-anchor="middle" stroke="#000" stroke-width="0.12" transform="rotate(-60 289.65 287.10)">33</text>
<text x="298.07" y="289.0" font-size="5.5" fill="#000" font-weight="bold" text-anchor="middle" stroke="#000" stroke-width="0.12" transform="rotate(-60 298.07 287.10)">34</text>
<text x="306.49" y="289.0" font-size="5.5" fill="#000" font-weight="bold" text-anchor="middle" stroke="#000" stroke-width="0.12" transform="rotate(-60 306.49 287.10)">35</text>
<text x="314.91" y="289.0" font-size="5.5" fill="#000" font-weight="bold" text-anchor="middle" stroke="#000" stroke-width="0.12" transform="rotate(-60 314.91 287.10)">36</text>
<text x="323.33" y="289.0" font-size="5.5" fill="#000" font-weight="bold" text-anchor="middle" stroke="#000" stroke-width="0.12" transform="rotate(-60 323.33 287.10)">37</text>
<text x="331.75" y="289.0" font-size="5.5" fill="#000" font-weight="bold" text-anchor="middle" stroke="#000" stroke-width="0.12" transform="rotate(-60 331.75 287.10)">38</text>
<text x="340.17" y="289.0" font-size="5.5" fill="#000" font-weight="bold" text-anchor="middle" stroke="#000" stroke-width="0.12" transform="rotate(-60 340.17 287.10)">39</text>
<text x="348.59" y="289.0" font-size="5.5" fill="#000" font-weight="bold" text-anchor="middle" stroke="#000" stroke-width="0.12" transform="rotate(-60 348.59 287.10)">40</text>
<text x="357.01" y="289.0" font-size="5.5" fill="#000" font-weight="bold" text-anchor="middle" stroke="#000" stroke-width="0.12" transform="rotate(-60 357.01 287.10)">41</text>
<text x="365.43" y="289.0" font-size="5.5" fill="#000" font-weight="bold" text-anchor="middle" stroke="#000" stroke-width="0.12" transform="rotate(-60 365.43 287.10)">42</text>
<text x="373.85" y="289.0" font-size="5.5" fill="#000" font-weight="bold" text-anchor="middle" stroke="#000" stroke-width="0.12" transform="rotate(-60 373.85 287.10)">43</text>
<text x="382.27" y="289.0" font-size="5.5" fill="#000" font-weight="bold" text-anchor="middle" stroke="#000" stroke-width="0.12" transform="rotate(-60 382.27 287.10)">44</text>
<text x="390.69" y="289.0" font-size="5.5" fill="#000" font-weight="bold" text-anchor="middle" stroke="#000" stroke-width="0.12" transform="rotate(-60 390.69 287.10)">45</text>
<text x="399.11" y="289.0" font-size="5.5" fill="#000" font-weight="bold" text-anchor="middle" stroke="#000" stroke-width="0.12" transform="rotate(-60 399.11 287.10)">46</text>
<text x="407.53" y="289.0" font-size="5.5" fill="#000" font-weight="bold" text-anchor="middle" stroke="#000" stroke-width="0.12" transform="rotate(-60 407.53 287.10)">47</text>
<text x="415.95" y="289.0" font-size="5.5" fill="#000" font-weight="bold" text-anchor="middle" stroke="#000" stroke-width="0.12" transform="rotate(-60 415.95 287.10)">48</text>
<text x="424.37" y="289.0" font-size="5.5" fill="#000" font-weight="bold" text-anchor="middle" stroke="#000" stroke-width="0.12" transform="rotate(-60 424.37 287.10)">49</text>
<text x="432.79" y="289.0" font-size="5.5" fill="#000" font-weight="bold" text-anchor="middle" stroke="#000" stroke-width="0.12" transform="rotate(-60 432.79 287.10)">50</text>
<text transform="translate(442.90 257.50) scale(0.920 1)" font-size="8.2" fill="#111" font-weight="normal" text-anchor="start" stroke="#111" stroke-width="0.1" >K=3</text>
<filter id="bl2" filterUnits="userSpaceOnUse" x="16.0" y="295.6" width="421.0" height="44.599999999999966"><feConvolveMatrix order="3" edgeMode="duplicate" kernelMatrix="0.02 0.04 0.02 0.18 0.48 0.18 0.02 0.04 0.02"/></filter>
<g filter="url(#bl2)">
<rect x="16.0" y="295.6" width="421.0" height="44.599999999999966" fill="#1f6e18"/>
<g transform="translate(16.0,0) scale(1,0.1)">
<path d="M0 3402V3389h1v-60h1v37h1v12h1v-3h1v-4h1v26h1v-44h1v21h1v16h1v-1h1v-1h1v-13h1v13h1v-50h1v46h1v10h1v-1h1v-5h1v-44h1v39h1v16h1v-12h1v-12h1v-23h1v32h1v-5h1v-21h1v23h1v11h1v-15h1v-15h1v6h1v-15h1v-395h1v1h1h1v-2h1v3h1h1v-1h1v-1h1v1h1v-1h1h1h1v1h1v-2h1v1h1v-1h1h1v4h1v-3h1v3h1v-3h1h1v3h1h1v-3h1v1h1h1v1h1v-1h1v-2h1v1h1v-1h1v1h1v8h1v-5h1v-3h1h1h1v5h1v-6h1v1h1v19h1v-11h1v-6h1v6h1v-7h1v2h1v10h1v-9h1v1h1v5h1v-3h1v-7h1h1v2h1v20h1v-20h1v-2h1v1h1v15h1v-16h1v1h1v13h1v38h1v-50h1v1h1v1h1v-5h1v-1h1v3h1v13h1v-1h1v2h1v-9h1v-7h1v4h1v1h1v1h1v-3h1v-2h1v5h1h1v-6h1h1v1h1h1v3h1v7h1v-4h1v-7h1v4h1v-5h1v1h1v13h1v-5h1v-7h1v35h1v-37h1v3h1v5h1v91h1v-8h1v-87h1v24h1v-22h1v3h1v32h1v69h1v-100h1v12h1v-11h1v-1h1v40h1v-27h1v3h1v-17h1v-6h1v-2h1v7h1v-6h1v-1h1v1h1v1h1v-2h1h1v2h1v7h1v-5h1v11h1v1h1v-13h1v1h1v14h1v-8h1v2h1v-6h1h1v-6h1v6h1v-2h1v-2h1v11h1v-9h1v-4h1v6h1v4h1v-10h1v9h1v-5h1v-2h1v28h1v-27h1v22h1v-25h1v3h1v-2h1v32h1v-32h1v3h1v-1h1v2h1v9h1v-13h1v1h1v9h1v-9h1v4h1v-2h1v-3h1v1h1h1v4h1v9h1v3h1v-16h1h1v11h1v-4h1v-9h1v1h1v2h1v26h1v-15h1v-7h1v5h1h1v-11h1v1h1v21h1v-23h1h1v15h1v-5h1v2h1v87h1v-48h1v-38h1v10h1v-13h1v43h1v-51h1v4h1v-3h1v7h1v4h1v-15h1v20h1v-18h1v4h1v-6h1v58h1v-54h1h1v12h1v-12h1v30h1v30h1v-53h1v121h1v-131h1v37h1v66h1h1v-48h1v-3h1v-17h1v14h1v-32h1v-8h1v9h1v70h1v-82h1v72h1v75h1v-122h1v45h1v93h1v-128h1v-24h1v26h1v1h1v95h1v-125h1v45h1v-26h1v-15h1v-18h1h1v1h1v18h1v-15h1h1v-4h1v9h1v-7h1v-1h1v1h1v10h1v-8h1v-2h1v-2h1v33h1v-32h1v2h1v-2h1v15h1v-8h1v38h1v-28h1v1h1v-19h1h1v4h1v1h1v-6h1v1h1h1h1v6h1v3h1v-9h1v7h1v-2h1h1v46h1v-50h1v10h1v-11h1h1v8h1v12h1v-17h1v13h1v-12h1v66h1v-11h1v28h1v-70h1v132h1v125h1v-259h1v55h1v56h1v-110h1v8h1v1h1v-22h1v164h1v-168h1v1h1v11h1v-9h1h1v3h1v-4h1h1h1v23h1v-25h1v10h1v-7h1v-1h1v2h1v-1h1v2h1v-3h1v20h1v-21h1v2h1v-2h1v4h1v21h1v-16h1v-2h1v-7h1v2h1v1h1v8h1v-9h1h1v3h1v-2h1v3h1v-4h1v-2h1h1v3h1v-3h1v41h1v-33h1v27h1v-2h1v-32h1v43h1v-40h1v-5h1v2h1v-2h1h1v4h1v6h1v-9h1v1h1v1h1v2h1v-4h1v7h1v15h1v-20h1v1h1v18h1v-5h1v-17h1v14h1v-4h1v-1h1v-8h1v-1h1v3h1v16h1v-11h1v-2h1v10h1v27h1v-40h1v1h1v5h1V3402Z" fill="#34085a"/>
<path d="M0 3402V3393h1v-63h1v39h1v11h1v-1h1h1v20h1v-46h1v24h1v18h1v-4h1v2h1v-18h1v19h1v-54h1v47h1v9h1v-1h1v-4h1v-42h1v46h1v5h1v-11h1v-8h1v-25h1v32h1v-5h1v-22h1v23h1v11h1v-16h1v-15h1v6h1v-15h1v-392h1v11h1v-7h1v5h1v2h1v-2h1v8h1v-14h1v-2h1v2h1v-4h1v-1h1v9h1v-6h1v-2h1v11h1v-7h1v-3h1v31h1v-26h1v23h1v-20h1v1h1v-9h1v2h1h1v3h1v-4h1v-3h1v9h1v1h1v-6h1v-5h1v421h1v-139h1v127h1v-33h1v4h1v-7h1v66h1v-18h1v-216h1v-39h1v-67h1v317h1v-10h1v-61h1v16h1v-119h1v50h1v-97h1v-11h1v-97h1v60h1v2h1v92h1v22h1v-208h1v240h1v-120h1v-29h1v219h1v-139h1v5h1v-195h1v395h1v-307h1v-82h1v337h1v51h1v-312h1v46h1v142h1v68h1v54h1v-338h1v55h1v183h1v-307h1v398h1v-218h1v200h1v-381h1v-17h1v421h1v-414h1v423h1v-184h1v-159h1v87h1v57h1v120h1v-334h1v90h1v-49h1v160h1v6h1v180h1v-16h1v-127h1v13h1v-67h1v223h1v-24h1v25h1v-274h1v5h1v15h1v223h1v-100h1v65h1v-325h1v53h1v82h1v-100h1v153h1v-160h1v310h1v42h1v-75h1v-346h1v25h1v44h1v-72h1v8h1v3h1v161h1v-141h1v199h1v-178h1v-42h1v7h1v1h1v11h1v66h1v153h1v-194h1v371h1v-369h1v228h1v-197h1v-47h1v138h1v-142h1v265h1v-85h1v-111h1v91h1v-142h1v355h1v-314h1v-18h1v169h1v113h1v-286h1v-60h1v302h1v-80h1v86h1v-303h1v35h1v136h1v65h1v-117h1v-106h1v220h1v-142h1v141h1v-242h1v101h1v-24h1v-3h1v151h1v-205h1v75h1v-70h1v3h1v236h1v-114h1v-139h1v328h1v-298h1v43h1v35h1v39h1v-77h1v-19h1v74h1v88h1v-69h1v-158h1v130h1v31h1v227h1v-57h1v59h1v-164h1v61h1v-276h1v164h1v-9h1v72h1v-212h1v315h1v-44h1v-218h1v184h1v-240h1v124h1v-55h1v68h1v39h1v-60h1v-39h1v-34h1v68h1v88h1v183h1v-72h1v101h1v-121h1v-62h1v93h1v43h1v-68h1v-202h1v128h1v-228h1v-12h1v19h1v87h1v-112h1v79h1v164h1v-216h1v367h1v22h1v-160h1v45h1v-33h1v-58h1v63h1v141h1v-33h1v-260h1v-18h1v3h1v-96h1v31h1v30h1v87h1v-136h1v30h1v256h1v-301h1v275h1v-88h1v-64h1v50h1v-155h1v-10h1v110h1v-31h1v218h1v-231h1v126h1v-150h1v79h1v224h1v-84h1v-206h1v-75h1v158h1v13h1v-161h1v374h1v-213h1v-154h1v376h1v-165h1v-166h1v225h1v76h1v-257h1v47h1v-148h1v66h1v-70h1v-1h1v59h1v-3h1v-54h1v14h1v-12h1v424h1v-21h1v-133h1v161h1v-37h1v15h1v27h1v-15h1v-88h1v-204h1v115h1v-115h1v137h1v-36h1v16h1v-150h1v260h1v-328h1v170h1v-193h1v309h1v-304h1v358h1v-162h1v-79h1v261h1v-73h1v-227h1v319h1v-355h1v234h1v67h1v-158h1v-177h1v16h1v78h1v110h1v-55h1v2h1v219h1v-193h1v-157h1v294h1v-194h1v183h1v-280h1v284h1v80h1v-235h1v235h1v-121h1v-247h1v275h1v-213h1v185h1v69h1v-226h1v99h1v-218h1v51h1v129h1v-187h1v9h1v-16h1v72h1v-13h1v51h1v-77h1v122h1v-144h1v396h1v-390h1v354h1v-272h1v48h1v250h1v-336h1v212h1v-149h1v-80h1v195h1v-90h1v-65h1v-83h1v39h1v-10h1v115h1v-63h1v103h1v190h1v-150h1v-205h1v108h1V3402Z" fill="#fc780a"/>
<path d="M0 3402V3396h1v-3h1v3h1v-9h1v11h1v-9h1v11h1v-2h1v-3h1v2h1v-2h1v3h1v-14h1v17h1v-3h1h1v2h1v-3h1h1h1v4h1v-1h1v-8h1v8h1v-39h1v39h1v-10h1v-27h1v38h1v-5h1v-12h1v-4h1v4h1v6h1v-412h1h1v1h1v-4h1v13h1v-13h1v22h1v-26h1v1h1v3h1v-3h1v-3h1v7h1v-7h1v-4h1v15h1v-7h1v-6h1v36h1v-25h1v18h1v-23h1v1h1v-2h1v-5h1v3h1v3h1v-4h1v16h1v-10h1v2h1v-6h1v-8h1v427h1v-49h1v58h1v1h1v-10h1v6h1v5h1v-4h1v-35h1v14h1v18h1v-7h1v4h1v2h1v-20h1v-1h1v-46h1v57h1v2h1v14h1h1v-36h1v-23h1v50h1h1h1v-53h1v60h1h1v-38h1v19h1v8h1v14h1v-4h1v5h1v-16h1v14h1v-2h1v-119h1v105h1v-7h1v19h1v2h1v3h1v-17h1v12h1v5h1v-3h1v-8h1v8h1v5h1v-9h1v4h1v1h1v-48h1v51h1v-17h1v14h1v-2h1v-23h1v-51h1v49h1v24h1v-143h1v149h1v-12h1v-3h1v-16h1v-46h1v74h1v1h1v-1h1v-20h1v20h1v-40h1v38h1v-80h1v85h1v-7h1v-3h1v-27h1v9h1v7h1v-37h1v52h1v4h1v-7h1v9h1v-5h1v-13h1v17h1v-1h1v-19h1v12h1v-13h1v1h1v13h1v-40h1v34h1v12h1h1v-65h1v59h1v-15h1v18h1v-8h1v-2h1v3h1v-46h1v14h1v40h1v1h1v-34h1v30h1v-61h1v29h1v38h1v-12h1v-9h1v-28h1v41h1v4h1v4h1v-15h1v15h1v-92h1v75h1v7h1v-2h1v3h1v5h1v-15h1v14h1v-25h1v-6h1v33h1v2h1h1v-10h1v-17h1v-36h1v53h1v8h1v2h1v-41h1v38h1v4h1v1h1v-22h1v-55h1v73h1v-13h1v5h1v-19h1v-29h1v-123h1v10h1v101h1v66h1v-37h1v31h1v7h1v2h1v-38h1v40h1h1v-6h1v-10h1v-23h1v32h1v-4h1v-6h1v15h1v-18h1v14h1v-7h1v12h1v-57h1v46h1v11h1v-24h1v18h1v-26h1v-59h1v77h1v-54h1v70h1v-52h1v-81h1v61h1v46h1v-19h1v-79h1v102h1v8h1v8h1v-42h1v-163h1v202h1v-209h1v52h1v-193h1v321h1v22h1v-96h1v-24h1v-9h1v-82h1v65h1v140h1v-22h1v14h1v12h1v2h1v16h1v-3h1v-21h1v17h1v-4h1v10h1v-5h1v-71h1v72h1v3h1v-17h1v14h1v-26h1v30h1v-134h1v117h1v-1h1v-13h1v12h1v-28h1v7h1v2h1h1v38h1v1h1v-11h1v6h1v6h1v-3h1v1h1v-5h1v-20h1v15h1v11h1v-73h1v73h1v-4h1v-133h1v131h1v-40h1v35h1v11h1v-9h1v-39h1v48h1v-26h1v20h1v1h1v-19h1v-20h1v38h1v-8h1v-14h1v25h1v-13h1v10h1v-2h1v4h1v2h1v-12h1v7h1v7h1v-5h1v-37h1v34h1v3h1h1v-7h1v10h1v-4h1v-8h1v6h1v7h1v-10h1v-7h1v-1h1v18h1v-48h1v28h1v-24h1v43h1v-6h1v-15h1v-94h1v13h1v-59h1v155h1v5h1v3h1v-12h1v8h1v-11h1v11h1v-8h1v11h1v-5h1v1h1v-3h1v9h1v-6h1v3h1v-8h1v-7h1v3h1v-53h1v49h1v9h1v1h1v-1h1v-23h1v32h1v-3h1v-3h1v-4h1v9h1v-6h1v-17h1v15h1h1v5h1v-5h1v-4h1v7h1v-76h1v14h1v64h1v-222h1v213h1v3h1v10h1h1v-4h1h1v-13h1v-16h1v-9h1v34h1v-91h1v-28h1v119h1V3402Z" fill="#16a0ec"/>
</g></g>
<path d="M24.42 295.6V340.2M32.84 295.6V340.2M41.26 295.6V340.2M49.68 295.6V340.2M58.10 295.6V340.2M66.52 295.6V340.2M74.94 295.6V340.2M83.36 295.6V340.2M91.78 295.6V340.2M100.20 295.6V340.2M108.62 295.6V340.2M117.04 295.6V340.2M125.46 295.6V340.2M133.88 295.6V340.2M142.30 295.6V340.2M150.72 295.6V340.2M159.14 295.6V340.2M167.56 295.6V340.2M175.98 295.6V340.2M184.40 295.6V340.2M192.82 295.6V340.2M201.24 295.6V340.2M209.66 295.6V340.2M218.08 295.6V340.2M226.50 295.6V340.2M234.92 295.6V340.2M243.34 295.6V340.2M251.76 295.6V340.2M260.18 295.6V340.2M268.60 295.6V340.2M277.02 295.6V340.2M285.44 295.6V340.2M293.86 295.6V340.2M302.28 295.6V340.2M310.70 295.6V340.2M319.12 295.6V340.2M327.54 295.6V340.2M335.96 295.6V340.2M344.38 295.6V340.2M352.80 295.6V340.2M361.22 295.6V340.2M369.64 295.6V340.2M378.06 295.6V340.2M386.48 295.6V340.2M394.90 295.6V340.2M403.32 295.6V340.2M411.74 295.6V340.2M420.16 295.6V340.2M428.58 295.6V340.2" stroke="#101018" stroke-width="0.6" opacity="0.6"/>
<rect x="14.9" y="294.8" width="422.90000000000003" height="46.199999999999996" fill="none" stroke="#0a0a0a" stroke-width="1.7"/>
<text x="20.21" y="350.3" font-size="5.5" fill="#000" font-weight="bold" text-anchor="middle" stroke="#000" stroke-width="0.12" transform="rotate(-60 20.21 348.40)">1</text>
<text x="28.63" y="350.3" font-size="5.5" fill="#000" font-weight="bold" text-anchor="middle" stroke="#000" stroke-width="0.12" transform="rotate(-60 28.63 348.40)">2</text>
<text x="37.05" y="350.3" font-size="5.5" fill="#000" font-weight="bold" text-anchor="middle" stroke="#000" stroke-width="0.12" transform="rotate(-60 37.05 348.40)">3</text>
<text x="45.47" y="350.3" font-size="5.5" fill="#000" font-weight="bold" text-anchor="middle" stroke="#000" stroke-width="0.12" transform="rotate(-60 45.47 348.40)">4</text>
<text x="53.89" y="350.3" font-size="5.5" fill="#000" font-weight="bold" text-anchor="middle" stroke="#000" stroke-width="0.12" transform="rotate(-60 53.89 348.40)">5</text>
<text x="62.31" y="350.3" font-size="5.5" fill="#000" font-weight="bold" text-anchor="middle" stroke="#000" stroke-width="0.12" transform="rotate(-60 62.31 348.40)">6</text>
<text x="70.72999999999999" y="350.3" font-size="5.5" fill="#000" font-weight="bold" text-anchor="middle" stroke="#000" stroke-width="0.12" transform="rotate(-60 70.73 348.40)">7</text>
<text x="79.15" y="350.3" font-size="5.5" fill="#000" font-weight="bold" text-anchor="middle" stroke="#000" stroke-width="0.12" transform="rotate(-60 79.15 348.40)">8</text>
<text x="87.57" y="350.3" font-size="5.5" fill="#000" font-weight="bold" text-anchor="middle" stroke="#000" stroke-width="0.12" transform="rotate(-60 87.57 348.40)">9</text>
<text x="95.99" y="350.3" font-size="5.5" fill="#000" font-weight="bold" text-anchor="middle" stroke="#000" stroke-width="0.12" transform="rotate(-60 95.99 348.40)">10</text>
<text x="104.41" y="350.3" font-size="5.5" fill="#000" font-weight="bold" text-anchor="middle" stroke="#000" stroke-width="0.12" transform="rotate(-60 104.41 348.40)">11</text>
<text x="112.83" y="350.3" font-size="5.5" fill="#000" font-weight="bold" text-anchor="middle" stroke="#000" stroke-width="0.12" transform="rotate(-60 112.83 348.40)">12</text>
<text x="121.25" y="350.3" font-size="5.5" fill="#000" font-weight="bold" text-anchor="middle" stroke="#000" stroke-width="0.12" transform="rotate(-60 121.25 348.40)">13</text>
<text x="129.67000000000002" y="350.3" font-size="5.5" fill="#000" font-weight="bold" text-anchor="middle" stroke="#000" stroke-width="0.12" transform="rotate(-60 129.67 348.40)">14</text>
<text x="138.09" y="350.3" font-size="5.5" fill="#000" font-weight="bold" text-anchor="middle" stroke="#000" stroke-width="0.12" transform="rotate(-60 138.09 348.40)">15</text>
<text x="146.51" y="350.3" font-size="5.5" fill="#000" font-weight="bold" text-anchor="middle" stroke="#000" stroke-width="0.12" transform="rotate(-60 146.51 348.40)">16</text>
<text x="154.93" y="350.3" font-size="5.5" fill="#000" font-weight="bold" text-anchor="middle" stroke="#000" stroke-width="0.12" transform="rotate(-60 154.93 348.40)">17</text>
<text x="163.35" y="350.3" font-size="5.5" fill="#000" font-weight="bold" text-anchor="middle" stroke="#000" stroke-width="0.12" transform="rotate(-60 163.35 348.40)">18</text>
<text x="171.77" y="350.3" font-size="5.5" fill="#000" font-weight="bold" text-anchor="middle" stroke="#000" stroke-width="0.12" transform="rotate(-60 171.77 348.40)">19</text>
<text x="180.19" y="350.3" font-size="5.5" fill="#000" font-weight="bold" text-anchor="middle" stroke="#000" stroke-width="0.12" transform="rotate(-60 180.19 348.40)">20</text>
<text x="188.60999999999999" y="350.3" font-size="5.5" fill="#000" font-weight="bold" text-anchor="middle" stroke="#000" stroke-width="0.12" transform="rotate(-60 188.61 348.40)">21</text>
<text x="197.03" y="350.3" font-size="5.5" fill="#000" font-weight="bold" text-anchor="middle" stroke="#000" stroke-width="0.12" transform="rotate(-60 197.03 348.40)">22</text>
<text x="205.45" y="350.3" font-size="5.5" fill="#000" font-weight="bold" text-anchor="middle" stroke="#000" stroke-width="0.12" transform="rotate(-60 205.45 348.40)">23</text>
<text x="213.87" y="350.3" font-size="5.5" fill="#000" font-weight="bold" text-anchor="middle" stroke="#000" stroke-width="0.12" transform="rotate(-60 213.87 348.40)">24</text>
<text x="222.29" y="350.3" font-size="5.5" fill="#000" font-weight="bold" text-anchor="middle" stroke="#000" stroke-width="0.12" transform="rotate(-60 222.29 348.40)">25</text>
<text x="230.71" y="350.3" font-size="5.5" fill="#000" font-weight="bold" text-anchor="middle" stroke="#000" stroke-width="0.12" transform="rotate(-60 230.71 348.40)">26</text>
<text x="239.13" y="350.3" font-size="5.5" fill="#000" font-weight="bold" text-anchor="middle" stroke="#000" stroke-width="0.12" transform="rotate(-60 239.13 348.40)">27</text>
<text x="247.55" y="350.3" font-size="5.5" fill="#000" font-weight="bold" text-anchor="middle" stroke="#000" stroke-width="0.12" transform="rotate(-60 247.55 348.40)">28</text>
<text x="255.97" y="350.3" font-size="5.5" fill="#000" font-weight="bold" text-anchor="middle" stroke="#000" stroke-width="0.12" transform="rotate(-60 255.97 348.40)">29</text>
<text x="264.39" y="350.3" font-size="5.5" fill="#000" font-weight="bold" text-anchor="middle" stroke="#000" stroke-width="0.12" transform="rotate(-60 264.39 348.40)">30</text>
<text x="272.81" y="350.3" font-size="5.5" fill="#000" font-weight="bold" text-anchor="middle" stroke="#000" stroke-width="0.12" transform="rotate(-60 272.81 348.40)">31</text>
<text x="281.23" y="350.3" font-size="5.5" fill="#000" font-weight="bold" text-anchor="middle" stroke="#000" stroke-width="0.12" transform="rotate(-60 281.23 348.40)">32</text>
<text x="289.65" y="350.3" font-size="5.5" fill="#000" font-weight="bold" text-anchor="middle" stroke="#000" stroke-width="0.12" transform="rotate(-60 289.65 348.40)">33</text>
<text x="298.07" y="350.3" font-size="5.5" fill="#000" font-weight="bold" text-anchor="middle" stroke="#000" stroke-width="0.12" transform="rotate(-60 298.07 348.40)">34</text>
<text x="306.49" y="350.3" font-size="5.5" fill="#000" font-weight="bold" text-anchor="middle" stroke="#000" stroke-width="0.12" transform="rotate(-60 306.49 348.40)">35</text>
<text x="314.91" y="350.3" font-size="5.5" fill="#000" font-weight="bold" text-anchor="middle" stroke="#000" stroke-width="0.12" transform="rotate(-60 314.91 348.40)">36</text>
<text x="323.33" y="350.3" font-size="5.5" fill="#000" font-weight="bold" text-anchor="middle" stroke="#000" stroke-width="0.12" transform="rotate(-60 323.33 348.40)">37</text>
<text x="331.75" y="350.3" font-size="5.5" fill="#000" font-weight="bold" text-anchor="middle" stroke="#000" stroke-width="0.12" transform="rotate(-60 331.75 348.40)">38</text>
<text x="340.17" y="350.3" font-size="5.5" fill="#000" font-weight="bold" text-anchor="middle" stroke="#000" stroke-width="0.12" transform="rotate(-60 340.17 348.40)">39</text>
<text x="348.59" y="350.3" font-size="5.5" fill="#000" font-weight="bold" text-anchor="middle" stroke="#000" stroke-width="0.12" transform="rotate(-60 348.59 348.40)">40</text>
<text x="357.01" y="350.3" font-size="5.5" fill="#000" font-weight="bold" text-anchor="middle" stroke="#000" stroke-width="0.12" transform="rotate(-60 357.01 348.40)">41</text>
<text x="365.43" y="350.3" font-size="5.5" fill="#000" font-weight="bold" text-anchor="middle" stroke="#000" stroke-width="0.12" transform="rotate(-60 365.43 348.40)">42</text>
<text x="373.85" y="350.3" font-size="5.5" fill="#000" font-weight="bold" text-anchor="middle" stroke="#000" stroke-width="0.12" transform="rotate(-60 373.85 348.40)">43</text>
<text x="382.27" y="350.3" font-size="5.5" fill="#000" font-weight="bold" text-anchor="middle" stroke="#000" stroke-width="0.12" transform="rotate(-60 382.27 348.40)">44</text>
<text x="390.69" y="350.3" font-size="5.5" fill="#000" font-weight="bold" text-anchor="middle" stroke="#000" stroke-width="0.12" transform="rotate(-60 390.69 348.40)">45</text>
<text x="399.11" y="350.3" font-size="5.5" fill="#000" font-weight="bold" text-anchor="middle" stroke="#000" stroke-width="0.12" transform="rotate(-60 399.11 348.40)">46</text>
<text x="407.53" y="350.3" font-size="5.5" fill="#000" font-weight="bold" text-anchor="middle" stroke="#000" stroke-width="0.12" transform="rotate(-60 407.53 348.40)">47</text>
<text x="415.95" y="350.3" font-size="5.5" fill="#000" font-weight="bold" text-anchor="middle" stroke="#000" stroke-width="0.12" transform="rotate(-60 415.95 348.40)">48</text>
<text x="424.37" y="350.3" font-size="5.5" fill="#000" font-weight="bold" text-anchor="middle" stroke="#000" stroke-width="0.12" transform="rotate(-60 424.37 348.40)">49</text>
<text x="432.79" y="350.3" font-size="5.5" fill="#000" font-weight="bold" text-anchor="middle" stroke="#000" stroke-width="0.12" transform="rotate(-60 432.79 348.40)">50</text>
<text transform="translate(442.90 318.80) scale(0.920 1)" font-size="8.2" fill="#111" font-weight="normal" text-anchor="start" stroke="#111" stroke-width="0.1" >K=4</text>
<filter id="bl3" filterUnits="userSpaceOnUse" x="16.0" y="357.6" width="421.0" height="44.599999999999966"><feConvolveMatrix order="3" edgeMode="duplicate" kernelMatrix="0.01 0.03 0.01 0.14 0.62 0.14 0.01 0.03 0.01"/></filter>
<g filter="url(#bl3)">
<rect x="16.0" y="357.6" width="421.0" height="44.599999999999966" fill="#46a030"/>
<g transform="translate(16.0,0) scale(1,0.1)">
<path d="M0 4022V3973h1v-77h1v103h2v-33h1v28h1v-35h2v-129h1v119h1v37h1v-30h1v34h1v-1h1v-169h1v170h1v3h1v-7h2v-4h2v19h1v-1h1v-51h2v55h1v-20h1v-63h1v64h2v12h2v7h1v-4h1v-424h1h2h1h1h1h1h1h2h1h2h1h1h2h1h1h2h1h1h1h1h1h1h1h1h1h2h1v5h1v-3h2v-1h1h1h1h1v11h1v-9h1v-1h1h1h1h1v-1h1v1h1v1h1h1v-2h1v1h1v-1h1h2v2h2v-1h1v-1h1h1v2h2v-2h1h1v4h1v-3h1v2h1h1v-3h1v5h1v-3h2v-2h1v1h2v-1h1v2h1v-1h1v-2h2v1h1h1v13h1v-12h2v4h1v-6h1v3h1h2v-2h1v4h1v-4h1v2h1v-1h2v-2h1v2h2v-1h2v-1h1h1v2h2v6h2v-3h1v-4h2v-1h1v5h1v-3h1v-2h1v1h2v1h2h2h1v8h2v-9h2v-1h2h1h1h1h1h1h1h1v8h1v-4h1v-3h1v1h1v-2h1v2h1v3h2v-4h1h1v-1h1v4h2v-3h1h1v4h2v-3h1v16h2v-15h2v-3h1v2h1v-1h2v18h2v-16h2v-2h1v1h1v-1h1v7h2v-8h1h1v5h1v-4h2h2h2h1v9h1v-10h2v2h1v-1h1v1h1v6h1v-8h1v4h1v-3h2v3h1v-3h2v2h1h1v9h1v6h1v-9h1v-8h1h2v4h1v-5h1v4h1v3h1v-5h1v-1h1v5h2v-3h2v-2h1v1h1v-1h2v-1h2v1h1v-1h1v1h1h1h1v1h1v-1h1h1v1h1v3h1v-3h1v-1h2v-1h1v1h1h2v-1h1h1h1h1h1h1h1h1h1v1h2v3h1v-1h1v-1h1v9h1v-7h1v-2h1v-2h2h1v2h1v-2h2v1h1h1h2v7h1v-1h1v-6h1v-1h1v2h1v-2h1v1h1h1v5h2v-5h2v2h2v-2h1v1h1v1h1v-2h1v1h1v-1h2v6h2v-4h1v-2h2h2v2h1v1h1v-1h1v-1h2h2h1v1h1h1v-1h1v1h1v-2h2v1h1v2h1v-2h1v-1h2h1h1v2h1v-2h1v1h1v24h1v-21h1v-5h1v4h2v6h1v-10h1h1v2h2v-2h1v3h1v6h2v-7h1v1h1v1h1v-4h2v2h1v1h1v-1h1v-1h2v2h1v3h1v-5h1v1h1v-1h2v2h1v-2h1h1v5h2v-5h1v5h1v-3h1v-2h1h2v-1h2h1h1h1h2h2h2h1h2h1h1h1h1h1h2h1h2h1h1h1h1h2h2h1V4022Z" fill="#ee0c4a"/>
<path d="M0 4022V4002h1v-99h1v100h2v-25h1v24h1v-32h2v-138h1v151h1v5h1v-19h1v29h1v-1h1v-117h1v119h1v1h1v-1h2v-16h2v26h1v-5h1v-48h2v52h1v-22h1v-52h1v54h2v11h2v11h1v-1h1v-429h1h2v11h1v20h1v-35h1v3h1v-1h1v6h2v-1h1v-3h2h1v-3h1v6h2v-5h1v9h1v-5h2v-4h1v10h1v1h1v8h1v-15h1v-2h1h1v1h1v-2h1v33h2v-31h1v28h1v24h2v211h1v-229h1v155h1v-85h1v-51h1v-24h1v91h1v-9h1v74h1v-65h1v-96h1v42h1v99h1v-59h1v219h1v-291h1v181h1v-57h2v-63h2v4h1v2h1v44h1v42h2v-74h1v-77h1v248h1v-100h1v-1h1v-112h1v87h1v-55h1v140h2v-198h1v14h2v12h1v-24h1v65h1v-65h2v17h1v-45h1v355h1v-285h2v62h1v-148h1v51h1v-40h2v21h1v111h1v-93h1v14h1v89h2v-158h1v104h2v-101h2v70h1v-73h1v144h2v-90h2v-17h1v-24h2v20h1v269h1v-133h1v129h1v-263h2v-3h2v40h2v105h1v31h2v-205h2v7h2v43h1v1h1v-42h1v2h1v-3h1v25h1v-9h1v126h1v-26h1v-107h1v-6h1v-9h1v370h1v-21h2v-351h1v72h1v-28h1v40h2v241h1v-313h1v90h2v124h1v37h2v-143h2v76h1v-139h1v83h2v-21h2v-77h2v273h1v-248h1v-29h1v-32h2v348h1v-320h1v8h1v-35h2v25h2v95h2v-115h1v92h1v-107h2v228h1v-188h1v-22h1v8h1v-18h1v100h1v-50h2v-2h1v87h2v-116h1v129h1v207h1v-181h1v-64h1v185h1v-296h2v41h1v50h1v-18h1v50h1v-122h1v12h1v102h2v-53h2v-68h1v46h1v37h2v-82h2v7h1v-9h1v19h1v153h1v-50h1v-118h1v13h1v7h1v53h1v-52h1v79h1v-76h2v-21h1v27h1v1h2v141h1v-170h1v-3h1v8h1v-7h1v-4h1v-1h1v4h1v2h1v71h2v-44h1v-1h1v-10h1v206h1v-123h1v92h1v-111h2v-65h1v200h1v-203h2v-15h1v244h1v-117h2v33h1v40h1v58h1v-256h1v5h1v-6h1v39h1v74h1v-73h2v-43h2v49h2v3h1v-19h1v289h1v-214h1v20h1v-24h2v-41h2v262h1v86h2v-328h2v-63h1v73h1v-66h1v-6h2v15h2v14h1v-35h1v13h1v131h1v-122h1v-28h2v22h1v25h1v-5h1v-44h2h1v73h1v-71h1v29h1v-17h1v37h1v168h1v-150h1v22h2v-68h1v371h1v-402h1v31h2v-32h1v97h1v99h2v-149h1v12h1v58h1v-109h2v62h1v-8h1v-25h1v-34h2v8h1v-3h1v19h1v17h1v88h2v-100h1v353h1v-288h1v-12h2v217h1v-238h1v-15h1v277h1v-292h2v121h2v-18h1v67h1v-75h1v84h2v-162h2v38h2v-3h1v-26h2v74h1v-14h1v-19h1v152h1v-242h1v100h2v31h1v-76h2v50h1v306h1v-36h1v47h1v-3h2v12h2v-2h1V4022Z" fill="#f0a0b0"/>
<path d="M0 4022V4002h1v-99h1v100h2v-25h1v24h1v-32h2v-138h1v151h1v5h1v-19h1v29h1v-1h1v-117h1v119h1v1h1v-1h2v-16h2v26h1v-5h1v-48h2v52h1v-22h1v-52h1v54h2v11h2v11h1v-1h1v-414h1v-14h2v11h1v20h1v-34h1v5h1v6h1v5h2v-10h1h2v11h1v-16h1v6h2v-7h1v15h1v-4h2v-9h1v24h1v-12h1v8h1v1h1v-18h1v5h1v-5h1h1v30h2v-30h1v234h1v-46h2v177h1v-68h1v19h1v28h1v-19h1v-16h1v-157h1v-39h1v159h1v2h1v128h1v-250h1v153h1v-162h1v188h1v-135h1v22h1v-43h2v-9h2v-50h1v33h1v186h1v-83h2v-121h1v-66h1v263h1v58h1v-152h1v-28h1v-47h1v-31h1v147h2v-64h1v-65h2v-61h1v5h1v241h1v-284h2v169h1v-121h1v282h1v-201h2v210h1v-385h1v125h1v-106h2v72h1v53h1v182h1v-125h1v-37h2v258h1v-294h2v56h2v-98h1v306h1v-212h2v93h2v55h1v-318h2v26h1v266h1v-10h1v87h1v-303h2v-32h2v202h2v-55h1v20h2v-109h2v-97h2v43h1v1h1v-42h1v2h1v-3h1v25h1v-9h1v329h1v-109h1v-195h1v70h1v83h1v175h1v16h2v-344h1v40h1v19h1v-4h2v234h1v-317h1v84h2v165h1v6h2v-101h2v52h1v28h1v-106h2v11h2v-106h2v265h1v-249h1v316h1v-293h2v314h1v9h1v-309h1v-98h2v36h2v204h2v-161h1v146h1v-223h2v251h1v-181h1v-66h1v303h1v-267h1v301h1v-182h2v-9h1v224h2v-347h1v138h1v184h1v-166h1v75h1v64h1v60h2v-271h1v259h1v-185h1v-56h1v-119h1v363h1v-201h2v-111h2v327h1v-355h1v193h2v-229h2v257h1v-211h1v-30h1v267h1v-137h1v74h1v-212h1v8h1v75h1v-57h1v343h1v-273h2v303h1v-216h1v133h2v47h1v-376h1v-3h1v8h1v-7h1v-4h1v-1h1v4h1v2h1v75h2v141h1v-54h1v-96h1v203h1v-41h1v31h1v-158h2v-85h1v312h1v-301h2v333h1v-104h1v-105h2v55h1v-2h1v64h1v113h1v-302h1v-81h1v97h1v133h1v-182h2v75h2v51h2v-123h1v-16h1v327h1v-215h1v-17h1v79h2v87h2v54h1v59h2v-323h2v49h1v200h1v66h1v-237h2v154h2v-50h1v-107h1v219h1v-173h1v97h1v-139h2v113h1v27h1v-21h1v-122h2v-74h1v207h1v-283h1v23h1v370h1v-349h1v213h1v-132h1v118h2v-207h1v351h1v30h1v-352h2v-82h1v105h1v125h2v-182h1v17h1v101h1v-130h2v37h1v-3h1v-20h1v-46h2v9h1v181h1v-118h1v-31h1v88h2v141h1v116h1v-78h1v-176h2v198h1v-256h1v54h1v212h1v-284h2v121h2v47h1v5h1v23h1v22h2v-211h2v66h2v-37h1v35h2v14h1v46h1v-56h1v120h1v-188h1v51h2v41h1v-11h2v-23h1v297h1v-36h1v47h1v-3h2v12h2v-2h1V4022Z" fill="#8c1f4e"/>
<path d="M0 4022V4002h1v-99h1v100h2v-25h1v24h1v-32h2v-138h1v151h1v5h1v-19h1v29h1v-1h1v-117h1v119h1v1h1v-1h2v-16h2v26h1v-5h1v-48h2v52h1v-22h1v-52h1v54h2v11h2v11h1v-1h1v-411h1v-8h2v25h1v3h1v-39h1v16h1v3h1v9h2v-14h1v-4h2v16h1v-16h1v-2h2v4h1v7h1v2h2v-7h1v14h1v1h1v-3h1v8h1v-1h1v-16h1v20h1v-23h1v38h2v-45h1v382h1v-191h2v184h1v-14h1v48h1v-47h1v10h1v11h1v-189h1v129h1v-47h1v100h1v36h1v-233h1v148h1v-169h1v204h1v-18h1v-80h1v-88h2v29h2v-10h1v-28h1v197h1v-37h2v-175h1v-56h1v280h1v23h1v-143h1v18h1v-67h1v-61h1v150h2v-84h1v18h2v28h1v-147h1v231h1v76h2v-184h1h1v143h1v-180h2v215h1v-412h1v136h1v73h2v-45h1v226h1v-65h1v-95h1v-31h2v225h1v-250h2v214h2v-224h1v238h1v-191h2v199h2v-71h1v-56h2v115h1v-78h1v-27h1v85h1v-302h2v41h2v157h2v-36h1v-15h2v-115h2v-92h2v39h1v3h1v10h1v-50h1v8h1v13h1v37h1v276h1v-80h1v-170h1v82h1v16h1v173h1v41h2v-356h1v33h1v80h1v141h2v82h1v-373h1v217h2v33h1v85h2v39h2v-47h1v39h1v-82h2v-66h2v-17h2v178h1v-231h1v241h1v-248h2v271h1v-12h1v-293h1v-117h2v39h2v356h2v-44h1v-73h1v-274h2v246h1v-151h1v-84h1v377h1v-219h1v202h1v-56h2v20h1v37h2v-62h1v-147h1v185h1v-7h1v-59h1v39h1v65h2v-33h1v16h1v-72h1v-129h1v233h1v-9h1v-61h2v-53h2v125h1v-235h1v54h2v-212h2v266h1v-207h1v-1h1v209h1v-22h1v-35h1v79h1v-277h1v89h1v-79h1v342h1v-250h2v273h1v-65h1v-15h2v83h1v-416h1v-3h1v8h1v-7h1v-4h1v-1h1v4h1v2h1v398h2v-36h1v-52h1v-18h1v6h1v80h1v34h1v-291h2v-98h1v326h1v-317h2v389h1v-86h1v-107h2v8h1v98h1v-46h1v147h1v-325h1v309h1v-96h1v-12h1v-226h2v285h2v-13h2v-289h1v174h1v161h1v-64h1v-38h1v-90h2v97h2v44h1v60h2v-307h2v44h1v228h1v23h1v-187h2v122h2v-44h1v-105h1v223h1v-144h1v131h1v13h2v-101h1v42h1v52h1v-235h2v-78h1v247h1v-124h1v-35h1v243h1v-258h1v119h1v-91h1v146h2v-234h1v302h1v24h1v-325h2v-109h1v289h1v13h2v23h1v-117h1v10h1v-158h2v13h1v54h1v151h1v-274h2v19h1v184h1v125h1v-188h1v79h2v53h1v125h1v-77h1v-129h2v210h1v-155h1v-92h1v206h1v-164h2v142h2v31h1v3h1v31h1v5h2v-75h2v-142h2v227h1v-24h2v-15h1v-142h1v-20h1v195h1v-53h1v19h2v-17h1v-4h2v39h1v21h1v-36h1v47h1v-3h2v12h2v-2h1V4022Z" fill="#1f6e18"/>
<path d="M0 4022V4002h1v-99h1v100h2v-25h1v24h1v-32h2v-138h1v151h1v5h1v-19h1v29h1v-1h1v-117h1v119h1v1h1v-1h2v-16h2v26h1v-5h1v-48h2v52h1v-22h1v-52h1v54h2v11h2v11h1v-1h1v-411h1v-8h2v25h1v3h1v-39h1v16h1v3h1v9h2v-14h1v-4h2v16h1v-16h1v-2h2v4h1v7h1v2h2v-7h1v14h1v1h1v-3h1v8h1v-1h1v-16h1v20h1v-23h1v38h2v-45h1v385h1v-190h2v195h1v-28h1v48h1v-42h1v8h1v9h1v-170h1v114h1v-50h1v101h1v33h1v-233h1v154h1v-174h1v206h1v-21h1v-76h1v-91h2v28h2v-3h1v-30h1v194h1v-39h2v-172h1v-58h1v287h1v14h1v-137h1v18h1v-60h1v-66h1v143h2v-70h1v4h2v28h1v-143h1v228h1v75h2v-183h1v-2h1v160h1v-191h2v210h1v-413h1v140h1v70h2v-45h1v229h1v-67h1v-93h1v-19h2v209h1v-245h2v209h2v-223h1v238h1v-92h2v102h2v-73h1v-53h2v111h1v-67h1v-37h1v85h1v-302h2v41h2v160h2v-36h1v-17h2v-116h2v-93h2v39h1v3h1v10h1v-50h1v8h1v13h1v37h1v283h1v-86h1v-171h1v123h1v-25h1v189h1v26h2v-356h1v38h1v83h1v136h2v79h1v-372h1v220h2v62h1v53h2v47h2v-57h1v56h1v-86h2v-72h2v-24h2v180h1v-223h1v238h1v-253h2v269h1v-12h1v-289h1v-121h2v39h2v357h2v-42h1v-68h1v-279h2v248h1v-155h1v-84h1v378h1v-220h1v202h1v-54h2v43h1v11h2v-55h1v-151h1v195h1v1h1v-69h1v28h1v67h2v-23h1v8h1v-73h1v-123h1v225h1v-10h1v-34h2v-79h2v125h1v-235h1v69h2v-228h2v266h1v-203h1v233h1v80h1v-21h1v18h1v-2h1v-152h1v9h1v172h1v-36h1v-249h2v272h1v-28h1v-52h2v84h1v-35h1v38h1v2h1v6h1v-8h1v-3h1v-27h1v43h1v-33h2v-36h1v-50h1v37h1v-53h1v79h1v34h1v-271h2v-116h1v330h1v-322h2v389h1v-69h1v-123h2v12h1v97h1v-50h1v146h1v-301h1v285h1v-59h1v-45h1v-222h2v282h2v-17h2v-289h1v186h1v160h1v-68h1v-38h1v-97h2v109h2v32h1v61h2v-253h2v-11h1v231h1v20h1v-174h2v116h2v-47h1v-97h1v211h1v-143h1v133h1v10h2v-101h1v44h1v55h1v-239h2v-79h1v253h1v-109h1v178h1v20h1v-201h1v57h1v-28h1v143h2v-139h1v145h1v22h1v-125h2v-307h1v427h1v-129h2v23h1v-114h1v44h1v-195h2v77h1v-11h1v156h1v-278h2v35h1v168h1v132h1v-187h1v81h2v43h1v125h1v-77h1v-129h2v211h1v-70h1v-171h1v198h1v-163h2v141h2v31h1v3h1v31h1v5h2v-75h2v-142h2v227h1v-24h2v-15h1v-142h1v-20h1v195h1v-53h1v19h2v-17h1v-4h2v39h1v21h1v-36h1v47h1v-3h2v12h2v-2h1V4022Z" fill="#34085a"/>
<path d="M0 4022V4002h1v-94h1v108h2v-35h1v23h1v-30h2v-140h1v164h1v-4h1v-15h1v25h1v-6h1v-117h1v122h1v2h1v-4h2v-16h2v27h1v-4h1v-45h2v48h1v-23h1v-51h1v63h2v3h2v12h1v-5h1v-412h1v-8h2v25h1v3h1v-39h1v16h1v3h1v9h2v-14h1v-4h2v16h1v-16h1v-2h2v4h1v7h1v2h2v-7h1v14h1v1h1v-3h1v8h1v-1h1v-16h1v20h1v-23h1v38h2v-45h1v409h1v-46h2v29h1v-5h1v34h1v-24h1v-6h1v3h1v-129h1v93h1v40h1v-12h1v33h1v-71h1h1v-140h1v173h1v34h1v-85h1v-121h2v117h2v85h1v-12h1v-18h1v-10h2v-127h1v-124h1v276h1v12h1v-59h1v5h1v-11h1v34h1v-42h2v21h1v-56h2v-20h1v121h1v-51h1v83h2v-193h1v98h1v66h1v10h2v1h1v18h1v-202h1v6h2v59h1v105h1v-68h1v17h1v-87h2v172h1v-192h2v166h2v-237h1v235h1v-91h2v104h2v-77h1v55h2v1h1v-66h1v-28h1v79h1v-288h2v234h2v37h2v-121h1v47h2v-184h2v-93h2v39h1v3h1v10h1v-50h1v8h1v13h1v37h1v296h1v-82h1v46h1v-104h1v192h1v-34h1v26h2v-42h1v-271h1v124h1v124h2v50h1v-32h1v-113h2v118h1v-1h2v40h2v-65h1v57h1v-69h2v-74h2v144h2v13h1v-118h1v119h1v-223h2v237h1v-6h1v-94h1v-234h2v282h2v25h2v19h1v-82h1v78h2v-54h1v-247h1v-7h1v303h1v-210h1v189h1v-10h2v11h1v-6h2v9h1v11h1v-6h1v15h1v-55h1v13h1v35h2v5h1v-16h1v-42h1v-150h1v215h1v-16h1v-10h2v-49h2v73h1v-238h1v201h2v-360h2v310h1v73h1v4h1v8h1v-12h1v-3h1v24h1v-99h1v-61h1v158h1v-25h1v-254h2v264h1v9h1v-17h2v16h1v-40h1v38h1v2h1v6h1v-8h1v-3h1v-27h1v43h1v-25h2v-36h1v-33h1v62h1v-99h1v76h1v33h1v-265h2v283h1v-74h1v80h2v-12h1v2h1v-192h2v94h1v87h1v-125h1v146h1v-136h1v122h1v-58h1v7h1v-186h2v214h2v-40h2v-44h1v-55h1v163h1v-56h1v-54h1v-25h2v107h2v13h1v27h2v-105h2v-147h1v221h1v8h1v5h2v-16h2v-102h1v59h1v59h1v-109h1v116h1v-13h2v-64h1v11h1v54h1v-1h2v-267h1v248h1v-57h1v78h1v20h1v-174h1v42h1v86h1v33h2v-119h1v111h1v20h1v-38h2v-395h1v436h1v-54h2v28h1v-183h1v110h1v95h2v-285h1v278h1v-145h1v148h2v-40h1v-58h1v72h1v-249h1v92h2v112h1v53h1v-4h1v-192h2v193h1v-38h1v-98h1v111h1v-21h2v-14h2v74h1v-24h1v17h1v3h2v-76h2v-126h2v214h1v-20h2v-17h1v16h1v-142h1v155h1v-60h1v26h2v16h1v9h2v-1h1v5h1v-36h1v47h1v-3h2v12h2v-2h1V4022Z" fill="#fc780a"/>
<path d="M0 4022V4007h1v13h1h2v-31h1v22h1v-5h2v7h1v7h1v-10h1v9h1v-3h1v1h1v-5h1v-4h1v7h1v3h2v2h2v-6h1v1h1v-19h2v20h1v1h1h1v1h2v-1h2v2h1v2h1v-407h1v-20h2v23h1v6h1v-43h1v19h1v4h1v5h2v-14h1v-4h2v21h1v-12h1v-11h2v4h1v8h1v9h2v-15h1v16h1v23h1v-26h1v10h1v-3h1v-15h1v23h1v-26h1v37h2v-35h1v414h1v4h2v3h1h1v-4h1h1v3h1v-3h1v3h1v-1h1v4h1v-13h1v12h1h1h1v-4h1v-22h1v26h1v-9h1v6h2v-8h2v9h1v-8h1v8h1v-3h2v4h1v2h1v-6h1v7h1v-5h1v1h1v-6h1v-12h1v21h2h1v-1h2v-1h1v1h1v-10h1v11h2v-1h1v-8h1v3h1v-3h2v2h1v7h1v-18h1v15h2v-21h1v1h1v24h1v-29h1v27h2v2h1h2v-18h2v15h1v3h1v-17h2v12h2v-1h1v-3h2v9h1v-80h1v66h1v13h1v-2h2v-9h2v-5h2v16h1v-5h2v4h2v-37h2v36h1v-2h1v2h1v1h1h1v-25h1v24h1v-34h1v36h1v-9h1v3h1v7h1v-2h1v-1h2v-21h1v16h1v4h1v3h2v-9h1v4h1v-5h2v-24h1v33h2h2v2h1v-6h1v-40h2v-37h2v78h2v3h1v-8h1v6h1h2v4h1v-1h1v-23h1v24h2v-1h2h2v1h1v-19h1v16h2v-1h1v4h1v-3h1v-5h1v-5h1v7h1v3h2v-3h1v4h2v1h1v-4h1v4h1v-5h1v2h1v-1h1v-8h2v8h1v4h1v-3h1v-35h1v38h1v-17h1v15h2v-14h2v11h1v-1h1v6h2v1h2v-1h1v-1h1v-1h1v1h1v-19h1v19h1v-2h1h1v-5h1v7h1v-5h1v6h2h1v1h1v-8h2v2h1v-1h1v2h1v-5h1v8h1v-8h1v1h1v-27h1v35h1v-2h2v-10h1v9h1v2h1h1v-39h1v36h1v5h2v-2h1v-8h1v9h2v-1h1v-3h1v2h2v-39h1v41h1v-25h1v25h1v-14h1v14h1v-15h1v14h1v1h2v-26h2v-32h2v58h1v-7h1v7h1v-10h1v-21h1v31h2v-1h2v-7h1v8h2v-7h2v6h1v-3h1v4h1v-3h2v1h2v-1h1v2h1v-5h1h1h1v3h2v-6h1v2h1v-4h1v2h2v9h1v-13h1v8h1v4h1v1h1h1h1v-3h1v4h2v-2h1v1h1h1v-3h2v3h1h1v-30h2v27h1v-5h1v-2h1v11h2v-25h1v18h1v-10h1v16h2v-2h1v1h1v1h1v-142h1v136h2v-38h1v34h1v8h1v-27h2v23h1v-31h1v26h1v-10h1v21h2v-4h2v-5h1v3h1v6h1v-3h2h2v2h2h1v-6h2v3h1v-6h1v-22h1v32h1h1h2v-1h1v-2h2v-2h1v-1h1v-47h1v44h1v3h2v5h2v-1h1V4022Z" fill="#16a0ec"/>
</g></g>
<path d="M24.42 357.6V402.2M32.84 357.6V402.2M41.26 357.6V402.2M49.68 357.6V402.2M58.10 357.6V402.2M66.52 357.6V402.2M74.94 357.6V402.2M83.36 357.6V402.2M91.78 357.6V402.2M100.20 357.6V402.2M108.62 357.6V402.2M117.04 357.6V402.2M125.46 357.6V402.2M133.88 357.6V402.2M142.30 357.6V402.2M150.72 357.6V402.2M159.14 357.6V402.2M167.56 357.6V402.2M175.98 357.6V402.2M184.40 357.6V402.2M192.82 357.6V402.2M201.24 357.6V402.2M209.66 357.6V402.2M218.08 357.6V402.2M226.50 357.6V402.2M234.92 357.6V402.2M243.34 357.6V402.2M251.76 357.6V402.2M260.18 357.6V402.2M268.60 357.6V402.2M277.02 357.6V402.2M285.44 357.6V402.2M293.86 357.6V402.2M302.28 357.6V402.2M310.70 357.6V402.2M319.12 357.6V402.2M327.54 357.6V402.2M335.96 357.6V402.2M344.38 357.6V402.2M352.80 357.6V402.2M361.22 357.6V402.2M369.64 357.6V402.2M378.06 357.6V402.2M386.48 357.6V402.2M394.90 357.6V402.2M403.32 357.6V402.2M411.74 357.6V402.2M420.16 357.6V402.2M428.58 357.6V402.2" stroke="#101018" stroke-width="0.6" opacity="0.6"/>
<rect x="14.9" y="356.8" width="422.90000000000003" height="46.199999999999996" fill="none" stroke="#0a0a0a" stroke-width="1.7"/>
<text x="20.21" y="412.3" font-size="5.5" fill="#000" font-weight="bold" text-anchor="middle" stroke="#000" stroke-width="0.12" transform="rotate(-60 20.21 410.40)">1</text>
<text x="28.63" y="412.3" font-size="5.5" fill="#000" font-weight="bold" text-anchor="middle" stroke="#000" stroke-width="0.12" transform="rotate(-60 28.63 410.40)">2</text>
<text x="37.05" y="412.3" font-size="5.5" fill="#000" font-weight="bold" text-anchor="middle" stroke="#000" stroke-width="0.12" transform="rotate(-60 37.05 410.40)">3</text>
<text x="45.47" y="412.3" font-size="5.5" fill="#000" font-weight="bold" text-anchor="middle" stroke="#000" stroke-width="0.12" transform="rotate(-60 45.47 410.40)">4</text>
<text x="53.89" y="412.3" font-size="5.5" fill="#000" font-weight="bold" text-anchor="middle" stroke="#000" stroke-width="0.12" transform="rotate(-60 53.89 410.40)">5</text>
<text x="62.31" y="412.3" font-size="5.5" fill="#000" font-weight="bold" text-anchor="middle" stroke="#000" stroke-width="0.12" transform="rotate(-60 62.31 410.40)">6</text>
<text x="70.72999999999999" y="412.3" font-size="5.5" fill="#000" font-weight="bold" text-anchor="middle" stroke="#000" stroke-width="0.12" transform="rotate(-60 70.73 410.40)">7</text>
<text x="79.15" y="412.3" font-size="5.5" fill="#000" font-weight="bold" text-anchor="middle" stroke="#000" stroke-width="0.12" transform="rotate(-60 79.15 410.40)">8</text>
<text x="87.57" y="412.3" font-size="5.5" fill="#000" font-weight="bold" text-anchor="middle" stroke="#000" stroke-width="0.12" transform="rotate(-60 87.57 410.40)">9</text>
<text x="95.99" y="412.3" font-size="5.5" fill="#000" font-weight="bold" text-anchor="middle" stroke="#000" stroke-width="0.12" transform="rotate(-60 95.99 410.40)">10</text>
<text x="104.41" y="412.3" font-size="5.5" fill="#000" font-weight="bold" text-anchor="middle" stroke="#000" stroke-width="0.12" transform="rotate(-60 104.41 410.40)">11</text>
<text x="112.83" y="412.3" font-size="5.5" fill="#000" font-weight="bold" text-anchor="middle" stroke="#000" stroke-width="0.12" transform="rotate(-60 112.83 410.40)">12</text>
<text x="121.25" y="412.3" font-size="5.5" fill="#000" font-weight="bold" text-anchor="middle" stroke="#000" stroke-width="0.12" transform="rotate(-60 121.25 410.40)">13</text>
<text x="129.67000000000002" y="412.3" font-size="5.5" fill="#000" font-weight="bold" text-anchor="middle" stroke="#000" stroke-width="0.12" transform="rotate(-60 129.67 410.40)">14</text>
<text x="138.09" y="412.3" font-size="5.5" fill="#000" font-weight="bold" text-anchor="middle" stroke="#000" stroke-width="0.12" transform="rotate(-60 138.09 410.40)">15</text>
<text x="146.51" y="412.3" font-size="5.5" fill="#000" font-weight="bold" text-anchor="middle" stroke="#000" stroke-width="0.12" transform="rotate(-60 146.51 410.40)">16</text>
<text x="154.93" y="412.3" font-size="5.5" fill="#000" font-weight="bold" text-anchor="middle" stroke="#000" stroke-width="0.12" transform="rotate(-60 154.93 410.40)">17</text>
<text x="163.35" y="412.3" font-size="5.5" fill="#000" font-weight="bold" text-anchor="middle" stroke="#000" stroke-width="0.12" transform="rotate(-60 163.35 410.40)">18</text>
<text x="171.77" y="412.3" font-size="5.5" fill="#000" font-weight="bold" text-anchor="middle" stroke="#000" stroke-width="0.12" transform="rotate(-60 171.77 410.40)">19</text>
<text x="180.19" y="412.3" font-size="5.5" fill="#000" font-weight="bold" text-anchor="middle" stroke="#000" stroke-width="0.12" transform="rotate(-60 180.19 410.40)">20</text>
<text x="188.60999999999999" y="412.3" font-size="5.5" fill="#000" font-weight="bold" text-anchor="middle" stroke="#000" stroke-width="0.12" transform="rotate(-60 188.61 410.40)">21</text>
<text x="197.03" y="412.3" font-size="5.5" fill="#000" font-weight="bold" text-anchor="middle" stroke="#000" stroke-width="0.12" transform="rotate(-60 197.03 410.40)">22</text>
<text x="205.45" y="412.3" font-size="5.5" fill="#000" font-weight="bold" text-anchor="middle" stroke="#000" stroke-width="0.12" transform="rotate(-60 205.45 410.40)">23</text>
<text x="213.87" y="412.3" font-size="5.5" fill="#000" font-weight="bold" text-anchor="middle" stroke="#000" stroke-width="0.12" transform="rotate(-60 213.87 410.40)">24</text>
<text x="222.29" y="412.3" font-size="5.5" fill="#000" font-weight="bold" text-anchor="middle" stroke="#000" stroke-width="0.12" transform="rotate(-60 222.29 410.40)">25</text>
<text x="230.71" y="412.3" font-size="5.5" fill="#000" font-weight="bold" text-anchor="middle" stroke="#000" stroke-width="0.12" transform="rotate(-60 230.71 410.40)">26</text>
<text x="239.13" y="412.3" font-size="5.5" fill="#000" font-weight="bold" text-anchor="middle" stroke="#000" stroke-width="0.12" transform="rotate(-60 239.13 410.40)">27</text>
<text x="247.55" y="412.3" font-size="5.5" fill="#000" font-weight="bold" text-anchor="middle" stroke="#000" stroke-width="0.12" transform="rotate(-60 247.55 410.40)">28</text>
<text x="255.97" y="412.3" font-size="5.5" fill="#000" font-weight="bold" text-anchor="middle" stroke="#000" stroke-width="0.12" transform="rotate(-60 255.97 410.40)">29</text>
<text x="264.39" y="412.3" font-size="5.5" fill="#000" font-weight="bold" text-anchor="middle" stroke="#000" stroke-width="0.12" transform="rotate(-60 264.39 410.40)">30</text>
<text x="272.81" y="412.3" font-size="5.5" fill="#000" font-weight="bold" text-anchor="middle" stroke="#000" stroke-width="0.12" transform="rotate(-60 272.81 410.40)">31</text>
<text x="281.23" y="412.3" font-size="5.5" fill="#000" font-weight="bold" text-anchor="middle" stroke="#000" stroke-width="0.12" transform="rotate(-60 281.23 410.40)">32</text>
<text x="289.65" y="412.3" font-size="5.5" fill="#000" font-weight="bold" text-anchor="middle" stroke="#000" stroke-width="0.12" transform="rotate(-60 289.65 410.40)">33</text>
<text x="298.07" y="412.3" font-size="5.5" fill="#000" font-weight="bold" text-anchor="middle" stroke="#000" stroke-width="0.12" transform="rotate(-60 298.07 410.40)">34</text>
<text x="306.49" y="412.3" font-size="5.5" fill="#000" font-weight="bold" text-anchor="middle" stroke="#000" stroke-width="0.12" transform="rotate(-60 306.49 410.40)">35</text>
<text x="314.91" y="412.3" font-size="5.5" fill="#000" font-weight="bold" text-anchor="middle" stroke="#000" stroke-width="0.12" transform="rotate(-60 314.91 410.40)">36</text>
<text x="323.33" y="412.3" font-size="5.5" fill="#000" font-weight="bold" text-anchor="middle" stroke="#000" stroke-width="0.12" transform="rotate(-60 323.33 410.40)">37</text>
<text x="331.75" y="412.3" font-size="5.5" fill="#000" font-weight="bold" text-anchor="middle" stroke="#000" stroke-width="0.12" transform="rotate(-60 331.75 410.40)">38</text>
<text x="340.17" y="412.3" font-size="5.5" fill="#000" font-weight="bold" text-anchor="middle" stroke="#000" stroke-width="0.12" transform="rotate(-60 340.17 410.40)">39</text>
<text x="348.59" y="412.3" font-size="5.5" fill="#000" font-weight="bold" text-anchor="middle" stroke="#000" stroke-width="0.12" transform="rotate(-60 348.59 410.40)">40</text>
<text x="357.01" y="412.3" font-size="5.5" fill="#000" font-weight="bold" text-anchor="middle" stroke="#000" stroke-width="0.12" transform="rotate(-60 357.01 410.40)">41</text>
<text x="365.43" y="412.3" font-size="5.5" fill="#000" font-weight="bold" text-anchor="middle" stroke="#000" stroke-width="0.12" transform="rotate(-60 365.43 410.40)">42</text>
<text x="373.85" y="412.3" font-size="5.5" fill="#000" font-weight="bold" text-anchor="middle" stroke="#000" stroke-width="0.12" transform="rotate(-60 373.85 410.40)">43</text>
<text x="382.27" y="412.3" font-size="5.5" fill="#000" font-weight="bold" text-anchor="middle" stroke="#000" stroke-width="0.12" transform="rotate(-60 382.27 410.40)">44</text>
<text x="390.69" y="412.3" font-size="5.5" fill="#000" font-weight="bold" text-anchor="middle" stroke="#000" stroke-width="0.12" transform="rotate(-60 390.69 410.40)">45</text>
<text x="399.11" y="412.3" font-size="5.5" fill="#000" font-weight="bold" text-anchor="middle" stroke="#000" stroke-width="0.12" transform="rotate(-60 399.11 410.40)">46</text>
<text x="407.53" y="412.3" font-size="5.5" fill="#000" font-weight="bold" text-anchor="middle" stroke="#000" stroke-width="0.12" transform="rotate(-60 407.53 410.40)">47</text>
<text x="415.95" y="412.3" font-size="5.5" fill="#000" font-weight="bold" text-anchor="middle" stroke="#000" stroke-width="0.12" transform="rotate(-60 415.95 410.40)">48</text>
<text x="424.37" y="412.3" font-size="5.5" fill="#000" font-weight="bold" text-anchor="middle" stroke="#000" stroke-width="0.12" transform="rotate(-60 424.37 410.40)">49</text>
<text x="432.79" y="412.3" font-size="5.5" fill="#000" font-weight="bold" text-anchor="middle" stroke="#000" stroke-width="0.12" transform="rotate(-60 432.79 410.40)">50</text>
<text transform="translate(442.90 380.80) scale(0.920 1)" font-size="8.2" fill="#111" font-weight="normal" text-anchor="start" stroke="#111" stroke-width="0.1" >K=8</text>
<filter id="bl4" filterUnits="userSpaceOnUse" x="16.0" y="417.90000000000003" width="421.0" height="44.599999999999966"><feConvolveMatrix order="3" edgeMode="duplicate" kernelMatrix="0.01 0.03 0.01 0.14 0.62 0.14 0.01 0.03 0.01"/></filter>
<g filter="url(#bl4)">
<rect x="16.0" y="417.90000000000003" width="421.0" height="44.599999999999966" fill="#46a030"/>
<g transform="translate(16.0,0) scale(1,0.1)">
<path d="M0 4625V4589h1v22h1v-19h1v5h1h1v-11h1v18h1v-11h1v19h1v-22h1v11h1v-47h1v22h1v33h2v-8h1v-7h1v-61h1v77h2v-38h1v15h1v21h1v-16h1v-16h1v27h1v-10h1v1h2v-41h1v23h2v10h2v-407h1h1h1h1h1h1h1h1h1h1h1h1h2h1h1h1h1h1h2h1h2h1h1h2h1h1h1h1h2v1h1v-1h1v1h1h1v-1h1v1h1h1v-1h1v2h1v-1h1v-1h1h1h1v1h1h1v-1h1v1h1h1v-1h1h1v1h1v-1h1h1v2h1v-1h1h1h1h2v1h1h2v-1h2v1h2v-2h1v1h1h1h1v2h2v-2h2h1v7h1v-7h1h1v1h1v-1h2v3h1v-3h1v-1h1h2v2h1v6h1v-7h1v1h1v-2h1v3h1v-1h1h2v-2h1v3h1v-3h1h1h2v2h1v-1h2v-1h1v1h1v-1h1h1v1h2v2h1v-2h1h1v-1h2h1v2h1v-1h1h1h1h2v-1h1h1h1h1h2h2v1h1h1v-1h1v1h1h1v-1h1h1h1v4h1v-3h2v-1h1v1h2v-1h1h1v2h1v-2h1v1h1h1v-1h2v1h1h1v-1h1h1h1h1h1v2h2v-2h2v2h1v-1h1h1v-1h1v2h1v-2h1v2h1v-1h1h1v-1h1v1h1v-1h2h1v2h1v-1h2v-1h1v1h1v-1h1v1h1v-1h2v1h1h1h1v-1h1h1v1h2v1h1v-2h2v1h2v-1h1v24h2v-23h1h2v-1h1h1v1h1h1v4h2v-4h1h1h1h1v-1h2h1h1h1h1h2h1h2h1h1h2h2h1h2h1h1h1h1h1h1v2h1v-2h1h2v1h1v-1h1v3h2v-2h2h1v-1h2v3h1v-3h1v1h2v-1h1v2h2h1v-2h1v2h1v-2h1h1h1h2h2h1h1v2h2v-1h1v2h1v-2h1h1v1h1v-2h1v1h1h1v2h1v-2h1h1h1v-1h1h1v1h2v-1h1h2v1h1v-1h1v2h2v-1h1h1v1h1v-1h1h2h1h2v-1h1v1h1v-1h2v1h1v-1h2h1v1h1h1v-1h1h1h2v1h2v1h1v-1h1v-1h2h2v1h2v-1h1h2v3h1v-3h1h1h1h1h2h1h2v1h1v-1h2v1h1v-1h1v1h1v-1h1h1h2h2h2h1h1h2h1h2h1h1h1h1h1h1h1h2h1h1h1h1h2h2h1h1V4625Z" fill="#a08a30"/>
<path d="M0 4625V4589h1v22h1v-19h1v5h1h1v-11h1v18h1v-11h1v19h1v-22h1v11h1v-47h1v22h1v33h2v-8h1v-7h1v-61h1v77h2v-38h1v15h1v21h1v-16h1v-16h1v27h1v-10h1v1h2v-41h1v23h2v10h2v-403h1v-1h1v7h1v18h1v-17h1v-4h1v-1h1v-4h1v3h1v5h1v-7h1v-2h1v15h2v28h1v-32h1v-7h1v-3h1v16h1v-13h2v12h1v-11h2h1v-2h1v14h2v-3h1v-10h1v-3h1h1v12h2v19h1v-11h1v89h1v16h1v18h1v-118h1v7h1v-26h1v6h1v14h1v-23h1v154h1v107h1v-218h1v49h1v86h1v-162h1v-17h1v7h1v-10h1v212h1v-190h1v182h1v-135h1v170h1v-58h1v-178h1v111h2v-95h1v144h2v-102h2v-8h2v-25h1v9h1v-2h1v-13h1v7h2v-27h2v284h1v-271h1v-12h1v110h1v52h1v-130h2v-26h1v192h1v-192h1v100h2v-36h1v-47h1v-26h1v8h1v-4h1v54h1v-45h1v184h2v-85h1v50h1v-155h1v3h1v-9h2v139h1v-120h2v-14h1v84h1v-86h1v227h1v-210h2v185h1v-169h1v76h1v28h2v-140h1v62h1v-35h1v11h1v31h1v-65h2v9h1v25h1v27h1v-38h1v-8h2v39h2v-57h1v81h1v-79h1v2h1v187h1v-193h1v9h1v8h1v-9h1v77h2v-82h1v115h2v195h1v-307h1v33h1v-13h1v-20h1v-5h1v11h2v125h1v-131h1v-6h1v3h1v248h1v-243h1v-4h1v224h2v-221h2v95h1v-101h1v50h1v140h1v-92h1v132h1v-227h1v90h1v-44h1v-17h1v203h1v-235h2v112h1v-90h1v26h2v-49h1v1h1v392h1v-386h1v16h2v89h1v-99h1v41h1v-52h1v24h1v51h2v-70h1v11h2v72h2v-42h1v-7h2h1v-4h2v-20h1v34h1v-37h1v-1h1v45h2v53h1v-103h1v48h1v-53h1v-4h2h1h1h1h1h2h1h2h1h1h2h2h1h2h1h1h1h1h1h1v247h1v-236h1v165h2v-154h1v53h1v-2h2v-55h2v26h1v230h2v-261h1v-9h1v26h2v11h1v-37h2v54h1v-35h1v23h1v175h1v-203h1v-2h1v79h2v-91h2v10h1v153h1v-129h2v-35h1v109h1v-65h1v-37h1v161h1v-158h1v15h1v15h1v-38h1v39h1v58h1v258h1v-346h1v2h1v61h2v-70h1v41h2v54h1v-75h1v6h2v-25h1v72h1v-56h1v25h1v-30h2v2h1v2h2v1h1v12h1v14h2v53h1v-21h2v180h1v-216h1v-30h1v-6h1v-3h1v50h2v21h2v59h1v58h1v-20h2v-154h2v-8h2v-9h1v4h2v13h1v-14h1v24h1v-26h1v-1h1v185h2v47h1v-191h2v-14h1v58h2v-85h1v48h1v18h1v-59h1v5h1v-12h2v4h2v4h2v1h1v-1h1v-11h2h1v33h2v-2h1v-28h1v9h1v47h1v-50h1v-2h1v3h1v-7h2v4h1v58h1v-66h1h1h2h2h1h1V4625Z" fill="#e89a10"/>
<path d="M0 4625V4597h1v16h1v-18h1v6h1v1h1v-14h1v16h1v-7h1v21h1v-27h1v14h1v-44h1v35h1v15h2v-4h1v-12h1v-60h1v77h2v-6h1v-16h1v20h1v-18h1v-15h1v29h1v-12h1v6h2v-39h1v18h2v8h2v-404h1v-1h1v7h1v18h1v-17h1v-4h1v-1h1v-4h1v3h1v5h1v-7h1v-2h1v15h2v28h1v-32h1v-7h1v-3h1v16h1v-13h2v12h1v-11h2h1v-2h1v14h2v-3h1v-10h1v-3h1h1v12h2v37h1v-20h1v90h1v18h1v50h1v-155h1v19h1v64h1v-96h1v21h1v-35h1v158h1v188h1v-294h1v46h1v102h1v-184h1v-2h1v45h1v-61h1v238h1v-199h1v237h1v-200h1v169h1v-57h1v-188h1v112h2v-92h1v177h2v-138h2v11h2v51h1v-77h1v-9h1v-15h1v42h2v-61h2v289h1v-274h1v-16h1v110h1v65h1v-131h2v-16h1v197h1v-157h1v41h2v15h1v7h1v-133h1v16h1v-12h1v59h1v-17h1v168h2v-93h1v112h1v-227h1v13h1v-19h2v157h1v-138h2v12h1v189h1v-204h1v217h1v-192h2v205h1v-200h1v66h1v64h2v-163h1v81h1v-66h1v94h1v-44h1v-57h2v-9h1v25h1v27h1v-38h1v-8h2v39h2v-40h1v198h1v-113h1v59h1v38h1v-198h1v8h1v36h1v-19h1v66h2v-18h1v79h2v163h1v-225h1v-48h1v-18h1v-11h1v-15h1v42h2v167h1v-204h1v-6h1v6h1v336h1v-302h1v188h1v26h2v-245h2v104h1v-109h1v67h1v142h1v-109h1v153h1v-245h1v88h1v-45h1v6h1v175h1v-216h2v96h1v-65h1v14h2v-62h1v26h1v373h1v-351h1v-8h2v77h1v-38h1v26h1v-36h1v-42h1v50h2v-57h1h2v89h2v4h1v-67h2v191h1v-21h2v-180h1v25h1v-45h1v12h1v64h2v23h1v-96h1v108h1v-89h1v52h2v-77h1v2h1v-2h1v15h1v-31h2v58h1v219h2v76h1v23h1v6h2v46h2v-429h1h2h1h1h1h1h1h1v256h1v-242h1v185h2v-123h1v193h1v-13h2v-231h2v31h1v225h2v-242h1v-26h1v224h2v-188h1v-42h2v103h1v141h1v-201h1v210h1v17h1v-226h1v53h2v-99h2v10h1v152h1v-29h2v160h1v-151h1v15h1v-124h1v207h1v-210h1v7h1v9h1v29h1v-18h1v98h1v215h1v-305h1v-43h1v52h2v-48h1v67h2v30h1v-2h1v-40h2v-38h1v42h1v-49h1v16h1v91h2v-114h1h2v97h1v-81h1v7h2v85h1v-56h2v180h1v-179h1v192h1v-263h1v11h1v39h2v51h2v49h1v101h1v-84h2v-130h2v-25h2v-22h1v127h2v-43h1v-73h1v193h1v-202h1v-1h1v183h2v85h1v-224h2v14h1v64h2v-105h1v50h1v85h1v-148h1v5h1v-12h2v4h2v4h2v1h1v-1h1v-11h2h1v33h2v-2h1v-28h1v9h1v47h1v-50h1v-2h1v3h1v-7h2v4h1v58h1v-66h1h1h2h2h1h1V4625Z" fill="#ee0c4a"/>
<path d="M0 4625V4601h1v18h1v-6h1v-3h1v-2h1v-15h1v20h1v-8h1v15h1v-2h1v-5h1v-33h1v17h1v16h2v1h1v-14h1v-63h1v77h2v-6h1v3h1v1h1v-16h1v-12h1v26h1v4h1v-11h2v6h1v-27h2v7h2v-395h1v-6h1v17h1v48h1v-52h1v-13h1v4h1v25h1v-23h1v-2h1v-6h1v2h1v9h2v35h1v-36h1v-3h1v-2h1v10h1v-13h2v10h1v-4h2v-5h1v4h1v6h2v13h1v-19h1v1h1v1h1v10h2v49h1v-26h1v77h1v15h1v49h1v-125h1v-5h1v195h1v-213h1v23h1v-47h1v167h1v202h1v-312h1v31h1v107h1v-51h1v-130h1v43h1v-70h1v243h1v-198h1v289h1v-237h1v211h1v-118h1v-184h1v116h2v-64h1v208h2v-196h2v36h2v48h1v-102h1v5h1v-31h1v49h2v-58h2v293h1v-235h1v18h1v27h1v64h1v-89h2v-51h1v258h1v-234h1v59h2v2h1v3h1v287h1v-398h1v-9h1v84h1v-23h1v151h2v-87h1v103h1v-236h1v17h1v129h2v93h1v-217h2v7h1v187h1v-194h1v226h1v-207h2v201h1v-190h1v62h1v59h2v-163h1v82h1v-60h1v111h1v-31h1v-30h2v-72h1v46h1v69h1v-100h1v-4h2v41h2v-49h1v283h1v-199h1v75h1v93h1v-259h1h1v34h1v246h1v-64h2v-152h1v82h2v158h1v-219h1v-44h1v-27h1v-11h1v-13h1v39h2v176h1v-138h1v-81h1v40h1v313h1v-312h1v193h1v92h2v-314h2v313h1v-220h1v56h1v96h1v-140h1v191h1v-148h1v37h1v-139h1v18h1v161h1v-215h2v121h1v-46h1v5h2v-65h1v-7h1v373h1v-345h1v-13h2v135h1v20h1v-84h1v-43h1v15h1v28h2v-85h1v52h2v33h2v12h1v-14h2v143h1v-28h2v-184h1v22h1v-44h1v39h1v51h2v19h1v-85h1v85h1v-72h1v59h2v-87h1v19h1v-21h1v12h1v-40h2v81h1v194h2v76h1v23h1v6h2v46h2v-425h1v-2h2v15h1v-16h1v2h1v-2h1v15h1v-13h1v254h1v-239h1v206h2v-147h1v211h1v-28h2v-224h2v49h1v204h2v-217h1v-40h1v213h2v-55h1v-88h2v140h1v49h1v9h1v2h1v-4h1v-240h1v60h2v-83h2v-18h1v322h1v-172h2v227h1v-125h1v-102h1v-116h1v229h1v-153h1v-73h1v145h1v79h1v-72h1v186h1v7h1v-324h1v-47h1v57h2v-51h1v72h2v37h1v-4h1v-17h2v104h1v-133h1v-45h1v15h1v90h2v-113h1v61h2v56h1v-103h1v10h2v81h1v-53h2v174h1v-125h1v139h1v-188h1v-42h1v270h2v-179h2v29h1v146h1v-84h2v-100h2v-102h2v-23h1v159h2v-63h1v8h1v130h1v-194h1v92h1v55h2v86h1v-227h2v13h1v128h2v-165h1v170h1v-18h1v-149h1v83h1v-103h2v13h2v96h2v-62h1v-1h1v-49h2v3h1v30h2v7h1v4h1v-21h1v106h1v-31h1v-18h1v-20h1v-39h2v-10h1v78h1v331h1v9h1v-1h2v-22h2v28h1v-8h1V4625Z" fill="#f0a0b0"/>
<path d="M0 4625V4601h1v18h1v-6h1v-3h1v-2h1v-15h1v20h1v-8h1v15h1v-2h1v-5h1v-33h1v17h1v16h2v1h1v-14h1v-63h1v77h2v-6h1v3h1v1h1v-16h1v-12h1v26h1v4h1v-11h2v6h1v-27h2v7h2v-395h1v-6h1v17h1v48h1v-52h1v-13h1v4h1v25h1v-23h1v-2h1v-6h1v2h1v9h2v35h1v-36h1v-3h1v-2h1v10h1v-13h2v10h1v-4h2v-5h1v4h1v6h2v13h1v-19h1v1h1v1h1v10h2v247h1v-156h1v204h1v-76h1v-41h1v-41h1v-38h1v162h1v-242h1v21h1v-44h1v291h1v93h1v-277h1v-16h1v237h1v-183h1v-106h1v26h1v-81h1v243h1v-171h1v267h1v-238h1v218h1v-118h1v-170h1v294h2v-225h1v186h2v-212h2v31h2v60h1v-113h1v24h1v-26h1v56h2v-90h2v294h1v-235h1v25h1v46h1v146h1v-54h2v-191h1v255h1v-233h1v74h2v-13h1v193h1v101h1v-238h1v-174h1v230h1v-162h1v264h2v-132h1v32h1v-213h1v-8h1v129h2v184h1v-300h2v4h1v180h1v-195h1v230h1v-86h2v113h1v-63h1v-101h1v60h2v120h1v-199h1v-54h1v161h1v-79h1v45h2v-159h1v46h1v69h1v-100h1v-4h2v41h2v-47h1v286h1v-74h1v-47h1v85h1v128h1v-79h1v-274h1v265h1v60h2v-290h1v256h2v-14h1v-212h1v108h1v-187h1v188h1v-212h1v38h2v187h1v-153h1v333h1v-375h1v337h1v23h1v-99h1v44h2v-332h2v318h1v-226h1v66h1v144h1v-159h1v186h1v-177h1v32h1v-139h1v20h1v205h1v-261h2v122h1v-47h1v31h2v-91h1v7h1v363h1v-313h1v-24h2v180h1v-48h1v-63h1v-60h1v31h1v16h2v-94h1v60h2v36h2v2h1v-6h2v134h1v13h2v83h1v-282h1v-19h1v33h1v34h2v128h1v-196h1v92h1v-63h1v38h2v-87h1v19h1v-21h1v12h1v-40h2v81h1v194h2v76h1v23h1v6h2v46h2v-425h1v-2h2v15h1v-16h1v2h1v-2h1v15h1v-13h1v274h1v-258h1v210h2v-144h1v205h1v-29h2v-208h2v47h1v191h2v-197h1v-58h1v229h2v-73h1v-56h2v108h1v48h1v9h1v7h1v7h1v-257h1v81h2v-101h2v186h1v123h1v-179h2v230h1v-88h1v-110h1v-145h1v228h1v-147h1v-80h1v145h1v80h1v-62h1v178h1v7h1v-327h1v31h1v210h2v26h1v-190h2v204h1v-20h1v70h2v-97h1v1h1v39h1v47h1v-61h2v-138h1v155h2v-47h1v-22h1v-67h2v110h1v-168h2v159h1v-175h1v137h1v-189h1v-38h1v267h2v-92h2v-43h1v133h1v-86h2v-101h2v-99h2v277h1v-138h2v-44h1v45h1v70h1v-196h1v125h1v33h2v79h1v-229h2v25h1v205h2v-254h1v228h1v-77h1v-78h1v27h1v-94h2v9h2v82h2v-64h1v54h1v-106h2v25h1v38h2v-18h1v23h1v124h1v-59h1v-31h1v-16h1v-20h1v-34h2v-9h1v100h1v294h1v9h1v-1h2v-22h2v28h1v-8h1V4625Z" fill="#b03a28"/>
<path d="M0 4625V4601h1v18h1v-6h1v-3h1v-2h1v-15h1v20h1v-8h1v15h1v-2h1v-5h1v-33h1v17h1v16h2v1h1v-14h1v-63h1v77h2v-6h1v3h1v1h1v-16h1v-12h1v26h1v4h1v-11h2v6h1v-27h2v7h2v-395h1v-6h1v17h1v48h1v-52h1v-13h1v4h1v25h1v-23h1v-2h1v-6h1v2h1v9h2v35h1v-36h1v-3h1v-2h1v10h1v-13h2v10h1v-4h2v-5h1v4h1v6h2v13h1v-19h1v1h1v1h1v10h2v321h1v22h1v7h1v-120h1v25h1v16h1v-162h1v194h1v-269h1v36h1v41h1v177h1v99h1v-242h1v-54h1v240h1v-105h1v-144h1v193h1v-293h1v335h1v-265h1v268h1v-137h1v121h1v-112h1v-175h1v310h2v-218h1v197h2v-208h2v10h2v78h1v-72h1v-4h1v-53h1v49h2v-31h2v258h1v-246h1v33h1v73h1v95h1v-65h2v-159h1v220h1v-225h1v185h2v-113h1v253h1v21h1v-190h1v-194h1v272h1v-148h1v190h2v-142h1v150h1v-320h1v7h1v120h2v174h1v-246h2v92h1v54h1v-193h1v249h1v-89h2v88h1v-56h1v-117h1v84h2v92h1v-131h1v-88h1v128h1v-56h1v43h2v-185h1v46h1v69h1v-100h1v-4h2v41h2v119h1v137h1v-73h1v-45h1v72h1v140h1v-82h1v-238h1v285h1v-5h2v-277h1v255h2v-31h1v87h1v-118h1v-255h1v182h1v-212h1v40h2v273h1v-232h1v324h1v-375h1v378h1v-16h1v-99h1v71h2v-361h2v383h1v-284h1v149h1v67h1v-18h1v89h1v-99h1v13h1v40h1v-193h1v171h1v-296h2v134h1v-29h1v86h2v-189h1v10h1v367h1v-319h1v-12h2v172h1v-35h1v-64h1v-57h1v51h1v-7h2v128h1v-105h2v101h2v-128h1v34h2v88h1v14h2v91h1v-67h1v-215h1v93h1v-15h2v117h1v-203h1v86h1v-6h1v-38h2v-87h1v19h1v-21h1v12h1v-40h2v81h1v194h2v76h1v23h1v6h2v46h2v-425h1v-2h2v15h1v-16h1v2h1v-2h1v15h1v-13h1v286h1v-270h1v211h2v-3h1v74h1v-29h2v-72h2v-88h1v181h2v-189h1v7h1v158h2v-68h1v-59h2v118h1v54h1v-3h1v2h1v11h1v-251h1v171h2v-205h2v351h1v-33h1v-115h2v160h1v-68h1v-53h1v-179h1v236h1v38h1v-317h1v179h1v72h1v-5h1v101h1v1h1v-318h1v25h1v223h2v92h1v-24h2v-37h1v-6h1v58h2v-41h1v12h1v-33h1v44h1v-34h2v-21h1v52h2v-34h1v-37h1v-25h2v41h1v19h2v31h1v-241h1v145h1v-203h1v105h1v132h2v-97h2v31h1v107h1v-110h2v130h2v-342h2v350h1v-82h2v-105h1v-38h1v74h1v-199h1v126h1v108h2v8h1v-191h2v-1h1v219h2v-273h1v223h1v-71h1v-33h1v1h1v-101h2v1h2v94h2v-58h1v35h1v-25h2v-46h1v53h2v-55h1v36h1v114h1v-46h1v-47h1v19h1v79h1v-148h2v47h1v74h1v236h1v9h1v-1h2v-22h2v28h1v-8h1V4625Z" fill="#8c1f4e"/>
<path d="M0 4625V4601h1v18h1v-6h1v-3h1v-2h1v-15h1v20h1v-8h1v15h1v-2h1v-5h1v-33h1v17h1v16h2v1h1v-14h1v-63h1v77h2v-6h1v3h1v1h1v-16h1v-12h1v26h1v4h1v-11h2v6h1v-27h2v7h2v-384h1v104h1v-98h1v47h1v-54h1v-2h1v-1h1v24h1v-23h1v-5h1v-9h1v12h1h2v51h1v-50h1v68h1v-55h1v-13h1v-11h2v11h1v-5h2v1h1v2h1v6h2v9h1v-16h1v4h1v2h1v4h2v326h1v25h1v7h1v-43h1v-35h1v9h1v-176h1v199h1v-238h1v3h1v33h1v283h1v2h1v4h1v-272h1v237h1v-59h1v-211h1v225h1v-331h1v412h1v-27h1v-55h1v3h1v-13h1v-113h1v-168h1v302h2v-218h1v222h2v-205h2v20h2v66h1v47h1v-148h1v175h1v-121h2v133h2v37h1v-205h1v6h1v111h1v49h1v-7h2v-158h1v231h1v-248h1v143h2v-131h1v257h1v19h1v-190h1v-192h1v279h1v-98h1v137h2v-143h1v144h1v-302h1v33h1v98h2v189h1v-215h2v26h1v148h1v-287h1v255h1v-37h2v54h1v-67h1v24h1v113h2v-89h1v-115h1v-39h1v73h1v-50h1v149h2v-312h1v46h1v69h1v-100h1v-4h2v41h2v289h1v38h1v-81h1v-83h1v59h1v128h1v-65h1v61h1v-22h1v-13h2v-276h1v276h2v-52h1v88h1v-3h1v-102h1v108h1v-56h1v-304h2v300h1v-265h1v348h1v-302h1v284h1v1h1v-86h1v37h2v-107h2v132h1v-289h1v205h1v39h1v-31h1v76h1v-90h1v10h1v33h1v-169h1v208h1v-356h2v371h1v-223h1v55h2v130h1v-321h1v378h1v-213h1v-102h2v163h1v20h1v-44h1v-96h1v27h1v7h2v213h1v-153h2v27h2v-133h1v42h2v215h1v-44h2v35h1v12h1v-196h1v-23h1v44h2v89h1v-224h1v124h1v33h1v-132h2v-87h1v19h1v-21h1v12h1v-40h2v81h1v347h2v-69h1v18h1v6h2v46h2v-428h1v-2h2v15h1v-16h1v2h1v-2h1v15h1v-13h1v295h1v-35h1v-25h2v181h1v-46h1v-68h2v-54h2v98h1v-38h2v-196h1v51h1v115h2v-34h1v-34h2v186h1v-57h1v-28h1v13h1v90h1v-342h1v192h2v-52h2v176h1v2h1v-114h2v129h1v-22h1v-31h1v-125h1v135h1v17h1v20h1v24h1v-37h1v-78h1v109h1v-10h1v3h1v-149h1v130h2v36h1v-23h2v-27h1v-10h1v58h2v-45h1v26h1v-34h1v35h1v-33h2v-27h1v54h2v-39h1v37h1v-92h2v40h1v31h2v17h1v-243h1v178h1v-100h1v110h1v-4h2v-79h2v19h1v108h1v9h2v22h2v-298h2v286h1v-86h2v37h1v-175h1v72h1v148h1v-225h1v112h2v10h1v-194h2v76h1v154h2v-280h1v286h1v-141h1v221h1v-29h1v-22h2v-54h2v55h2v50h1v-9h1v26h2v-13h1v12h2v-200h1v146h1v1h1v6h1v1h1v-28h1v28h1v20h2v-41h1v5h1v54h1v9h1v-1h2v-22h2v28h1v-8h1V4625Z" fill="#1f6e18"/>
<path d="M0 4625V4601h1v18h1v-6h1v-3h1v-2h1v-15h1v20h1v-8h1v15h1v-2h1v-5h1v-33h1v17h1v16h2v1h1v-14h1v-63h1v77h2v-6h1v3h1v1h1v-16h1v-12h1v26h1v4h1v-11h2v6h1v-27h2v7h2v-384h1v104h1v-98h1v47h1v-54h1v-2h1v-1h1v24h1v-23h1v-5h1v-9h1v12h1h2v51h1v-50h1v68h1v-55h1v-13h1v-11h2v11h1v-5h2v1h1v2h1v6h2v9h1v-16h1v4h1v2h1v4h2v328h1v26h1v5h1v-32h1v-44h1v10h1v-173h1v193h1v-233h1v-2h1v41h1v289h1v-10h1v3h1v-273h1v241h1v-50h1v-221h1v244h1v-354h1v415h1v-4h1v-78h1v42h1v-52h1v-116h1v-167h1v311h2v-184h1v179h2v-198h2v13h2v75h1v49h1v-153h1v168h1v-99h2v113h2v66h1v-235h1v20h1v150h1v-1h1v-11h2v-118h1v193h1v-243h1v175h2v-138h1v234h1v10h1v-115h1v-252h1v264h1v-97h1v137h2v-142h1v158h1v-317h1v32h1v99h2v197h1v-222h2v26h1v187h1v-215h1v170h1v-63h2v52h1v-63h1v21h1v126h2v-102h1v-105h1v-49h1v101h1v-74h1v147h2v-315h1v46h1v69h1v-100h1v-4h2v41h2v289h1v41h1v-83h1v-83h1v83h1v105h1v-67h1v66h1v-25h1v-14h2v-276h1v280h2v23h1v10h1v10h1v-115h1v112h1v-29h1v-330h2v293h1v-265h1v349h1v-296h1v279h1v3h1v-89h1v36h2v-106h2v143h1v-294h1v199h1v39h1v21h1v26h1v-45h1v-38h1v35h1v-171h1v208h1v-356h2v373h1v-123h1v-47h2v130h1v-321h1v379h1v-212h1v-99h2v159h1v19h1v-42h1v-96h1v27h1v6h2v213h1v-145h2v57h2v-171h1v82h2v205h1v-75h2v37h1v12h1v-198h1v-23h1v54h2v83h1v-221h1v123h1v27h1v187h2v-197h1v191h1v-10h1v-1h1v-4h2v7h1v6h2v-69h1v18h1v6h2v46h2v5h1v1h2v-1h1v2h1v-17h1v19h1v-40h1v24h1v-120h1v-21h1v-45h2v182h1v-22h1v-86h2v-36h2v85h1v-51h2v-188h1v43h1v116h2v-34h1v-33h2v187h1v-59h1v-27h1v12h1v93h1v-343h1v212h2v-75h2v176h1v2h1v-100h2v121h1v-26h1v-33h1v-118h1v130h1v16h1v20h1v24h1v-36h1v-58h1v89h1v-5h1h1v-150h1v133h2v31h1v-22h2v-26h1v-12h1v60h2v-42h1v21h1v-15h1v17h1v-35h2v-25h1v53h2v-24h1v32h1v-83h2v23h1v28h2v18h1v-215h1v182h1v-12h1v-11h1v83h2v-145h2v-1h1v113h1v6h2v38h2v-111h2v81h1v-30h2v-6h1v-187h1v76h1v151h1v-233h1v112h2v10h1v-191h2v124h1v106h2v-282h1v285h1v-142h1v221h1v-29h1v-22h2v-54h2v55h2v50h1v-9h1v26h2v-13h1v12h2v-200h1v146h1v1h1v6h1v1h1v-28h1v28h1v20h2v-41h1v5h1v54h1v9h1v-1h2v-22h2v28h1v-8h1V4625Z" fill="#34085a"/>
<path d="M0 4625V4601h1v18h1v-6h1v-3h1v-2h1v-15h1v20h1v-8h1v15h1v-2h1v-5h1v-33h1v17h1v16h2v1h1v-14h1v-63h1v77h2v-6h1v3h1v1h1v-16h1v-12h1v26h1v4h1v-11h2v6h1v-27h2v7h2v-384h1v104h1v-98h1v47h1v-54h1v-2h1v-1h1v24h1v-23h1v-5h1v-9h1v12h1h2v51h1v-50h1v68h1v-55h1v-13h1v-11h2v11h1v-5h2v1h1v2h1v6h2v9h1v-16h1v4h1v2h1v4h2v380h1v-18h1v1h1v-20h1v27h1v-36h1v1h1v30h1v-130h1v134h1v-242h1v284h1v-5h1v-3h1v-44h1v23h1v-47h1v-190h1v207h1v-361h1v414h1v-5h1v-77h1v73h1v16h1v-183h1v93h1v24h2v-173h1v189h2v-7h2v-142h2v152h1v-14h1v38h1v-21h1v-31h2v-9h2v52h1v-220h1v14h1v223h1v-71h1v-23h2v-110h1v174h1v47h1v-40h2v-190h1v213h1v10h1v-31h1v-236h1v186h1v-121h1v153h2v52h1v-6h1v-363h1v356h1v-222h2v228h1v-6h2v13h1v-30h1v-53h1v-11h1v-51h2v125h1v13h1v-46h1v32h2v14h1v-180h1v-20h1v122h1v-96h1v147h2v-386h1v46h1v69h1v-100h1v-4h2v41h2v366h1v-36h1v-72h1v-90h1v116h1v68h1v-64h1v77h1v-20h1v-28h2v48h1v-15h2v-6h1v7h1v13h1v-48h1v49h1v-31h1v37h2v-77h1v-211h1v291h1v-296h1v279h1v3h1v-87h1v46h2v-110h2v137h1v-292h1v215h1v26h1v69h1v-17h1v-44h1v2h1v57h1v-244h1v211h1v-72h2v84h1v-113h1v132h2v-19h1v-244h1v266h1v-214h1v-79h2v155h1v10h1v19h1v-164h1v251h1v-212h2v212h1v29h2v-47h2v8h1v-137h2v168h1v-31h2v-6h1v13h1v-151h1v119h1v-86h2v36h1v-183h1v156h1v-19h1v158h2v-197h1v191h1v-10h1v-1h1v-4h2v7h1v6h2v-69h1v18h1v6h2v46h2v5h1v1h2v-1h1v2h1v-17h1v19h1v-40h1v24h1v-8h1v7h1v-184h2v193h1v-31h1v-77h2v28h2v71h1v10h2v-294h1v77h1v74h2v-35h1v-36h2v196h1v-70h1v90h1v-39h1v38h1v7h1v-147h2v-79h2v178h1v18h1v-118h2v123h1v1h1v-27h1v-63h1v55h1v51h1v-26h1v25h1v-29h1v2h1v20h1v9h1v-5h1v-4h1v-17h2v24h1v-10h2v-38h1v21h1v31h2v-3h1v-6h1v-30h1v18h1v-23h2v41h1v-28h2v24h1v-10h1v-89h2v34h1v49h2v-11h1v-23h1v12h1v49h1v-98h1v94h2v-10h2v-66h1v73h1v-35h2v39h2v-5h2v-21h1v-13h2v16h1v-227h1v209h1v31h1v-246h1v109h2v32h1v-89h2v182h1v3h2v18h1v-31h1v23h1v10h1v-3h1v-55h2v-60h2v80h2v25h1v8h1v9h2v-8h1v3h2v-127h1v115h1v-42h1v29h1v-11h1v15h1v-22h1v30h2v-38h1v-3h1v45h1v9h1v-1h2v-22h2v28h1v-8h1V4625Z" fill="#fc780a"/>
<path d="M0 4625V4610h1v13h1v1h1h1v-12h1v-5h1v15h1v1h1v1h1v-1h1v-4h1h1v4h1v-8h2v1h1v-2h1v-55h1v59h2v3h1v-7h1v9h1v-11h1v10h1v-5h1v6h1h2v1h1v-9h2v9h2v-411h1v97h1v-91h1v44h1v-57h1v1h1v-5h1v30h1v-19h1v-1h1v-21h1v49h1v-36h2v48h1v-47h1v71h1v-60h1v-13h1v-2h2v40h1v-44h2v6h1v7h1v1h2v6h1v-17h1v13h1v-8h1v19h2v400h1v-7h1v5h1v-7h1v6h1v-8h1v9h1v-4h1v6h1v-8h1v7h1v-3h1v3h1v-1h1v-36h1v36h1v-23h1v20h1v-30h1v32h1v-6h1v6h1v1h1v2h1h1v-53h1v48h1h2v2h1v-44h2v36h2v2h2h1v5h1v-7h1v8h1h2v2h2v-20h1v6h1v-6h1v22h1v-2h1v-26h2v14h1v-1h1v14h1v-5h2v-35h1v25h1v15h1h1v-4h1v-6h1v4h1v3h2v-2h1v2h1v4h1v-18h1v-11h2v23h1v5h2v-1h1v-18h1v17h1v1h1v-20h2v3h1v15h1v-4h1v7h2v1h1v-12h1v1h1v5h1v2h1v1h2v-5h1v4h1v2h1v-4h1v1h2v-56h2v59h1v-5h1v2h1v-4h1v7h1v2h1v-1h1v-3h1h1v1h2v1h1v1h2v-1h1v-8h1v8h1v-33h1v33h1v-28h1v28h2v-1h1h1v2h1h1v-5h1v2h1v-12h1v2h2v12h2v-3h1v5h1v-2h1v-48h1v47h1v2h1v-8h1v-21h1v29h1h1v-5h1v-2h2v7h1v-2h1v-2h2v5h1v-8h1v5h1v-9h1v10h2v-1h1v1h1v-5h1v5h1h1v-5h2v4h1v1h2v-22h2v24h1v-40h2v33h1v6h2v-18h1v16h1h1v1h1v-5h2v4h1v1h1h1v1h1v-1h2h1h1v-4h1v5h1h2v-6h1v4h2h1v2h1v-4h2h2v3h1v2h2v-2h1v-3h1v5h1v-3h1v-1h1v-6h1v4h1h1v-19h2v23h1v-2h1v2h2v-19h2v17h1v2h2v-138h1v133h1v-5h2v12h1v-4h2v-3h1v-1h1v7h1v-7h1v4h1v2h1v-1h2v3h2v-2h1v1h1h2v-1h1v-10h1v-30h1v36h1v3h1v1h1v-5h1h1v-15h1v20h1v2h1v-3h1v2h1h1v-13h2v11h1v3h2v-22h1v16h1v2h2h1v-8h1v11h1v-10h1v7h2v2h1v-31h2v31h1v-3h1v3h2v1h1v1h2v-3h1v2h1v-17h1v15h1v-2h1v3h2v-8h2v5h1v5h1v-1h2v-2h2v2h2v-15h1v9h2v-3h1v9h1v-6h1v6h1h1v-9h2v10h1v-2h2v-7h1v6h2v2h1v-3h1v2h1v-2h1v3h1v-35h2v33h2v-5h2v-5h1v8h1v4h2v-3h1v2h2v-2h1v-9h1v9h1v-7h1v7h1h1v-21h1v21h2v-2h1v3h1v-2h1h1v4h2v-21h2v20h1v1h1V4625Z" fill="#16a0ec"/>
</g></g>
<path d="M24.42 417.90000000000003V462.5M32.84 417.90000000000003V462.5M41.26 417.90000000000003V462.5M49.68 417.90000000000003V462.5M58.10 417.90000000000003V462.5M66.52 417.90000000000003V462.5M74.94 417.90000000000003V462.5M83.36 417.90000000000003V462.5M91.78 417.90000000000003V462.5M100.20 417.90000000000003V462.5M108.62 417.90000000000003V462.5M117.04 417.90000000000003V462.5M125.46 417.90000000000003V462.5M133.88 417.90000000000003V462.5M142.30 417.90000000000003V462.5M150.72 417.90000000000003V462.5M159.14 417.90000000000003V462.5M167.56 417.90000000000003V462.5M175.98 417.90000000000003V462.5M184.40 417.90000000000003V462.5M192.82 417.90000000000003V462.5M201.24 417.90000000000003V462.5M209.66 417.90000000000003V462.5M218.08 417.90000000000003V462.5M226.50 417.90000000000003V462.5M234.92 417.90000000000003V462.5M243.34 417.90000000000003V462.5M251.76 417.90000000000003V462.5M260.18 417.90000000000003V462.5M268.60 417.90000000000003V462.5M277.02 417.90000000000003V462.5M285.44 417.90000000000003V462.5M293.86 417.90000000000003V462.5M302.28 417.90000000000003V462.5M310.70 417.90000000000003V462.5M319.12 417.90000000000003V462.5M327.54 417.90000000000003V462.5M335.96 417.90000000000003V462.5M344.38 417.90000000000003V462.5M352.80 417.90000000000003V462.5M361.22 417.90000000000003V462.5M369.64 417.90000000000003V462.5M378.06 417.90000000000003V462.5M386.48 417.90000000000003V462.5M394.90 417.90000000000003V462.5M403.32 417.90000000000003V462.5M411.74 417.90000000000003V462.5M420.16 417.90000000000003V462.5M428.58 417.90000000000003V462.5" stroke="#101018" stroke-width="0.6" opacity="0.6"/>
<rect x="14.9" y="417.1" width="422.90000000000003" height="46.199999999999996" fill="none" stroke="#0a0a0a" stroke-width="1.7"/>
<text x="20.21" y="472.6" font-size="5.5" fill="#000" font-weight="bold" text-anchor="middle" stroke="#000" stroke-width="0.12" transform="rotate(-60 20.21 470.70)">1</text>
<text x="28.63" y="472.6" font-size="5.5" fill="#000" font-weight="bold" text-anchor="middle" stroke="#000" stroke-width="0.12" transform="rotate(-60 28.63 470.70)">2</text>
<text x="37.05" y="472.6" font-size="5.5" fill="#000" font-weight="bold" text-anchor="middle" stroke="#000" stroke-width="0.12" transform="rotate(-60 37.05 470.70)">3</text>
<text x="45.47" y="472.6" font-size="5.5" fill="#000" font-weight="bold" text-anchor="middle" stroke="#000" stroke-width="0.12" transform="rotate(-60 45.47 470.70)">4</text>
<text x="53.89" y="472.6" font-size="5.5" fill="#000" font-weight="bold" text-anchor="middle" stroke="#000" stroke-width="0.12" transform="rotate(-60 53.89 470.70)">5</text>
<text x="62.31" y="472.6" font-size="5.5" fill="#000" font-weight="bold" text-anchor="middle" stroke="#000" stroke-width="0.12" transform="rotate(-60 62.31 470.70)">6</text>
<text x="70.72999999999999" y="472.6" font-size="5.5" fill="#000" font-weight="bold" text-anchor="middle" stroke="#000" stroke-width="0.12" transform="rotate(-60 70.73 470.70)">7</text>
<text x="79.15" y="472.6" font-size="5.5" fill="#000" font-weight="bold" text-anchor="middle" stroke="#000" stroke-width="0.12" transform="rotate(-60 79.15 470.70)">8</text>
<text x="87.57" y="472.6" font-size="5.5" fill="#000" font-weight="bold" text-anchor="middle" stroke="#000" stroke-width="0.12" transform="rotate(-60 87.57 470.70)">9</text>
<text x="95.99" y="472.6" font-size="5.5" fill="#000" font-weight="bold" text-anchor="middle" stroke="#000" stroke-width="0.12" transform="rotate(-60 95.99 470.70)">10</text>
<text x="104.41" y="472.6" font-size="5.5" fill="#000" font-weight="bold" text-anchor="middle" stroke="#000" stroke-width="0.12" transform="rotate(-60 104.41 470.70)">11</text>
<text x="112.83" y="472.6" font-size="5.5" fill="#000" font-weight="bold" text-anchor="middle" stroke="#000" stroke-width="0.12" transform="rotate(-60 112.83 470.70)">12</text>
<text x="121.25" y="472.6" font-size="5.5" fill="#000" font-weight="bold" text-anchor="middle" stroke="#000" stroke-width="0.12" transform="rotate(-60 121.25 470.70)">13</text>
<text x="129.67000000000002" y="472.6" font-size="5.5" fill="#000" font-weight="bold" text-anchor="middle" stroke="#000" stroke-width="0.12" transform="rotate(-60 129.67 470.70)">14</text>
<text x="138.09" y="472.6" font-size="5.5" fill="#000" font-weight="bold" text-anchor="middle" stroke="#000" stroke-width="0.12" transform="rotate(-60 138.09 470.70)">15</text>
<text x="146.51" y="472.6" font-size="5.5" fill="#000" font-weight="bold" text-anchor="middle" stroke="#000" stroke-width="0.12" transform="rotate(-60 146.51 470.70)">16</text>
<text x="154.93" y="472.6" font-size="5.5" fill="#000" font-weight="bold" text-anchor="middle" stroke="#000" stroke-width="0.12" transform="rotate(-60 154.93 470.70)">17</text>
<text x="163.35" y="472.6" font-size="5.5" fill="#000" font-weight="bold" text-anchor="middle" stroke="#000" stroke-width="0.12" transform="rotate(-60 163.35 470.70)">18</text>
<text x="171.77" y="472.6" font-size="5.5" fill="#000" font-weight="bold" text-anchor="middle" stroke="#000" stroke-width="0.12" transform="rotate(-60 171.77 470.70)">19</text>
<text x="180.19" y="472.6" font-size="5.5" fill="#000" font-weight="bold" text-anchor="middle" stroke="#000" stroke-width="0.12" transform="rotate(-60 180.19 470.70)">20</text>
<text x="188.60999999999999" y="472.6" font-size="5.5" fill="#000" font-weight="bold" text-anchor="middle" stroke="#000" stroke-width="0.12" transform="rotate(-60 188.61 470.70)">21</text>
<text x="197.03" y="472.6" font-size="5.5" fill="#000" font-weight="bold" text-anchor="middle" stroke="#000" stroke-width="0.12" transform="rotate(-60 197.03 470.70)">22</text>
<text x="205.45" y="472.6" font-size="5.5" fill="#000" font-weight="bold" text-anchor="middle" stroke="#000" stroke-width="0.12" transform="rotate(-60 205.45 470.70)">23</text>
<text x="213.87" y="472.6" font-size="5.5" fill="#000" font-weight="bold" text-anchor="middle" stroke="#000" stroke-width="0.12" transform="rotate(-60 213.87 470.70)">24</text>
<text x="222.29" y="472.6" font-size="5.5" fill="#000" font-weight="bold" text-anchor="middle" stroke="#000" stroke-width="0.12" transform="rotate(-60 222.29 470.70)">25</text>
<text x="230.71" y="472.6" font-size="5.5" fill="#000" font-weight="bold" text-anchor="middle" stroke="#000" stroke-width="0.12" transform="rotate(-60 230.71 470.70)">26</text>
<text x="239.13" y="472.6" font-size="5.5" fill="#000" font-weight="bold" text-anchor="middle" stroke="#000" stroke-width="0.12" transform="rotate(-60 239.13 470.70)">27</text>
<text x="247.55" y="472.6" font-size="5.5" fill="#000" font-weight="bold" text-anchor="middle" stroke="#000" stroke-width="0.12" transform="rotate(-60 247.55 470.70)">28</text>
<text x="255.97" y="472.6" font-size="5.5" fill="#000" font-weight="bold" text-anchor="middle" stroke="#000" stroke-width="0.12" transform="rotate(-60 255.97 470.70)">29</text>
<text x="264.39" y="472.6" font-size="5.5" fill="#000" font-weight="bold" text-anchor="middle" stroke="#000" stroke-width="0.12" transform="rotate(-60 264.39 470.70)">30</text>
<text x="272.81" y="472.6" font-size="5.5" fill="#000" font-weight="bold" text-anchor="middle" stroke="#000" stroke-width="0.12" transform="rotate(-60 272.81 470.70)">31</text>
<text x="281.23" y="472.6" font-size="5.5" fill="#000" font-weight="bold" text-anchor="middle" stroke="#000" stroke-width="0.12" transform="rotate(-60 281.23 470.70)">32</text>
<text x="289.65" y="472.6" font-size="5.5" fill="#000" font-weight="bold" text-anchor="middle" stroke="#000" stroke-width="0.12" transform="rotate(-60 289.65 470.70)">33</text>
<text x="298.07" y="472.6" font-size="5.5" fill="#000" font-weight="bold" text-anchor="middle" stroke="#000" stroke-width="0.12" transform="rotate(-60 298.07 470.70)">34</text>
<text x="306.49" y="472.6" font-size="5.5" fill="#000" font-weight="bold" text-anchor="middle" stroke="#000" stroke-width="0.12" transform="rotate(-60 306.49 470.70)">35</text>
<text x="314.91" y="472.6" font-size="5.5" fill="#000" font-weight="bold" text-anchor="middle" stroke="#000" stroke-width="0.12" transform="rotate(-60 314.91 470.70)">36</text>
<text x="323.33" y="472.6" font-size="5.5" fill="#000" font-weight="bold" text-anchor="middle" stroke="#000" stroke-width="0.12" transform="rotate(-60 323.33 470.70)">37</text>
<text x="331.75" y="472.6" font-size="5.5" fill="#000" font-weight="bold" text-anchor="middle" stroke="#000" stroke-width="0.12" transform="rotate(-60 331.75 470.70)">38</text>
<text x="340.17" y="472.6" font-size="5.5" fill="#000" font-weight="bold" text-anchor="middle" stroke="#000" stroke-width="0.12" transform="rotate(-60 340.17 470.70)">39</text>
<text x="348.59" y="472.6" font-size="5.5" fill="#000" font-weight="bold" text-anchor="middle" stroke="#000" stroke-width="0.12" transform="rotate(-60 348.59 470.70)">40</text>
<text x="357.01" y="472.6" font-size="5.5" fill="#000" font-weight="bold" text-anchor="middle" stroke="#000" stroke-width="0.12" transform="rotate(-60 357.01 470.70)">41</text>
<text x="365.43" y="472.6" font-size="5.5" fill="#000" font-weight="bold" text-anchor="middle" stroke="#000" stroke-width="0.12" transform="rotate(-60 365.43 470.70)">42</text>
<text x="373.85" y="472.6" font-size="5.5" fill="#000" font-weight="bold" text-anchor="middle" stroke="#000" stroke-width="0.12" transform="rotate(-60 373.85 470.70)">43</text>
<text x="382.27" y="472.6" font-size="5.5" fill="#000" font-weight="bold" text-anchor="middle" stroke="#000" stroke-width="0.12" transform="rotate(-60 382.27 470.70)">44</text>
<text x="390.69" y="472.6" font-size="5.5" fill="#000" font-weight="bold" text-anchor="middle" stroke="#000" stroke-width="0.12" transform="rotate(-60 390.69 470.70)">45</text>
<text x="399.11" y="472.6" font-size="5.5" fill="#000" font-weight="bold" text-anchor="middle" stroke="#000" stroke-width="0.12" transform="rotate(-60 399.11 470.70)">46</text>
<text x="407.53" y="472.6" font-size="5.5" fill="#000" font-weight="bold" text-anchor="middle" stroke="#000" stroke-width="0.12" transform="rotate(-60 407.53 470.70)">47</text>
<text x="415.95" y="472.6" font-size="5.5" fill="#000" font-weight="bold" text-anchor="middle" stroke="#000" stroke-width="0.12" transform="rotate(-60 415.95 470.70)">48</text>
<text x="424.37" y="472.6" font-size="5.5" fill="#000" font-weight="bold" text-anchor="middle" stroke="#000" stroke-width="0.12" transform="rotate(-60 424.37 470.70)">49</text>
<text x="432.79" y="472.6" font-size="5.5" fill="#000" font-weight="bold" text-anchor="middle" stroke="#000" stroke-width="0.12" transform="rotate(-60 432.79 470.70)">50</text>
<text transform="translate(442.90 441.10) scale(0.920 1)" font-size="8.2" fill="#111" font-weight="normal" text-anchor="start" stroke="#111" stroke-width="0.1" >K=11</text>
<filter id="bl5" filterUnits="userSpaceOnUse" x="16.0" y="478.70000000000005" width="421.0" height="44.59999999999991"><feConvolveMatrix order="3" edgeMode="duplicate" kernelMatrix="0.01 0.03 0.01 0.14 0.62 0.14 0.01 0.03 0.01"/></filter>
<g filter="url(#bl5)">
<rect x="16.0" y="478.70000000000005" width="421.0" height="44.59999999999991" fill="#46a030"/>
<g transform="translate(16.0,0) scale(1,0.1)">
<path d="M0 5233V5178h1v11h2v22h1v-70h2v46h1v10h1v-21h1v18h1v11h1v17h1v-36h1v25h1v-2h1v4h2v-17h1v5h1v-18h1v-29h2v51h2v-20h1v18h1v2h1v-10h1v-6h1v-46h1v57h2v-16h1v-25h1v-372h1h1h1h1h2h2h1h1h1h1h1h1h2h2h1h1h2h1h1h1h2h1h1h1h1h1h1v1h1v3h1v-3h1v-1h1h1h1h1v1h1v-1h1h1v1h1v1h1v-1h1h1h1v1h1v-1h1h2v3h2v-3h1h2h1v1h1v-2h2h1v2h2v-2h1h1h1v1h1h1h1h1v-1h1v1h1h2v-1h1v1h2v6h2v-7h1v1h2h2v-1h1v4h2v-3h2v-1h1h2v1h1v-1h1v1h1v-1h1h1v1h1h1v5h1v-6h1v4h1v-3h1v-1h1h2h1h1h2v1h1v-1h1v1h1v-1h1h1h1h1h1h2v1h1v-1h1h1h1v1h1v-1h1h1h1h1h1h1h2v1h1v-1h2v1h1v-1h1v2h1v-2h1h1v2h1v-2h2h1h2h2h1v1h1v-1h2h2h1h1v2h1v-1h1v-1h1v3h1v2h2v-3h1v-1h1h2h1h2h1v-1h1h1v1h1v-1h1v1h1v1h1v-1h2h1h1h2h2v1h2v-1h1v2h1v-3h1v6h1v-5h1v-1h1h2v1h1h1v-1h1v1h1v-1h1v1h1h2h1v-1h1h2h1h1v1h2h1v-1h1v1h1h1v1h1h1v-2h2h1h1h1h1h1h1h2h1h2h1h2h2h1h1h1h1h1h1h2v1h1v-1h2h2v2h2h1v-2h1v1h2v1h1v-2h1v1h1v-1h1h2h1h2v1h1h1h1v2h1v3h1v-6h1v1h1v-1h1h1h1v1h1h1v-1h1v1h2h1v-1h1v1h2v-1h1v5h1v-5h2v1h1h2h1v1h2v1h1v-3h1h1h1h1h1h2h2v1h1v-1h1h2v1h1v1h1h1v-2h1v1h1v-1h1v1h1v-1h2h1v1h1h1v-1h1v4h1v-4h2h1v1h1v1h1v1h2v-1h1h1v-1h1h1h2v2h1v-3h1h2h1v1h1v-1h1v1h1v1h1v-1h2h1v-1h2v1h1v-1h2h2h2h1h1h1h1h1h1h2h1h1h2h1h2h1h1h1h1h1h1h2h2h2h1h1h1h1h1V5233Z" fill="#e6e020"/>
<path d="M0 5233V5178h1v11h2v22h1v-70h2v46h1v10h1v-21h1v18h1v11h1v17h1v-36h1v25h1v-2h1v4h2v-17h1v5h1v-18h1v-29h2v51h2v-20h1v18h1v2h1v-10h1v-6h1v-46h1v57h2v-16h1v-25h1v-363h1v-1h1h1v1h1v-8h2v1h2v1h1h1v-1h1v3h1v7h1v-9h1v2h2v106h2v-106h1v-1h1v1h2v5h1v-8h1v2h1v-1h2v4h1v-3h1v27h1v-22h1v-4h1v1h1v149h1v-107h1v4h1v235h1v-269h1v-17h1v126h1v102h1v-223h1v32h1v-9h1v36h1v-60h1v191h1v-194h1v33h1v-31h1v66h2v57h2v-122h1v283h2v-279h1v10h1v41h2v25h1v-54h2v-1h1v382h1v-342h1v-28h1v-19h1v98h1v-109h1v12h1v-18h1v13h2v386h1v-401h2v27h2v-29h1v33h2v114h2v-134h1v149h2v-152h2v2h1v8h2v32h1v39h1v-79h1v4h1v-1h1v299h1v-282h1v37h1v279h1v-291h1v153h1v-144h1v-61h2v387h1v-363h1v-3h2v-26h1v7h1v1h1v2h1v186h1v79h1v-273h1v-2h1v138h2v-49h1v-79h1v-3h1v-1h1v117h1v-117h1v-3h1v9h1v35h1v-37h1v4h1v20h2v-19h1v309h2v-269h1v-44h1v54h1v-56h1v152h1v-151h1v-8h2v5h1v47h2v-40h2v66h1v144h1v-204h2v-12h2v-9h1v302h1v-292h1v203h1v78h1v-278h1v22h2v116h1v-81h1v20h2v127h1v-10h2v-105h1v-80h1v16h1v183h1v-65h1v190h1v-232h1v-109h2v166h1v66h1v-213h2v29h2v164h2v-171h1v-34h1v-11h1v13h1v11h1v-22h1v77h2v-36h1v-31h1h1v217h1v-231h1v207h1v-188h2v194h1v-76h1v-113h2v299h1v-292h1v-16h2v61h1v-49h1v116h1v-126h1v37h1v58h1v-102h2v44h1v-46h1v23h1v52h1v-53h1v-12h1v-18h2h1h2h1h2h2h1h1h1h1h1h1h2v17h1v-15h2v9h2v17h2v-21h1v94h1v132h2v-114h1v-97h1v16h1v17h1v-29h2v293h1v-260h2v84h1v56h1v-185h1v-11h1v61h1v220h1v-259h1v-6h1v-13h1v143h1v16h1v-48h1v-115h1v273h2v-215h1v24h1v2h2v56h1v-127h1v93h2v-80h1v57h2v-68h1v-11h2v53h1v-45h1v-5h1v10h1v-17h1v1h1v8h2v-10h2v123h1v46h1v-59h2v-55h1v-25h1v38h1v130h1v-185h1v13h1v64h1v14h2v23h1v1h1v73h1v-195h1v142h1v-132h2v52h1v49h1v-111h1v33h2v-8h1v-25h1v7h1v16h1v7h2v206h1v-221h1v-14h2v4h1v-2h1v44h1v-45h1v146h1v-146h2v5h1v7h2v7h1v167h2v-118h2v-44h2v34h1v-62h1v12h1v-9h1v27h1v-29h1v51h2v-38h1v-18h1v23h2v-11h1v54h2v-61h1v16h1v-11h1v7h1v9h1v-16h1v-2h2v-9h2h2h1h1h1h1h1V5233Z" fill="#a08a30"/>
<path d="M0 5233V5178h1v11h2v22h1v-70h2v46h1v10h1v-21h1v18h1v11h1v17h1v-36h1v25h1v-2h1v4h2v-17h1v5h1v-18h1v-29h2v51h2v-20h1v18h1v2h1v-10h1v-6h1v-46h1v57h2v-16h1v-25h1v-363h1v-1h1h1v1h1v-8h2v1h2v1h1h1v-1h1v3h1v7h1v-9h1v2h2v106h2v-106h1v-1h1v1h2v5h1v-8h1v2h1v-1h2v4h1v-3h1v27h1v-22h1v-4h1v1h1v166h1v-121h1v8h1v236h1v-238h1v54h1v30h1v109h1v-239h1v32h1v-12h1v39h1v-62h1v198h1v3h1v-144h1v-56h1v65h2v230h2v-290h1v299h2v-218h1v-74h1v178h2v-103h1v-43h2v-23h1v387h1v-347h1v-12h1v-29h1v98h1v-108h1v13h1v-23h1v31h2v366h1v-395h2v57h2v-57h1v28h2v123h2v-145h1v153h2v-29h2v-44h1v-71h2v38h1v30h1v-49h1v-2h1v-24h1v304h1v-284h1v45h1v272h1v-296h1v155h1v-123h1v-73h2v386h1v-369h1v-7h2v-26h1v14h1v-3h1v6h1v181h1v81h1v-278h1v-2h1v145h2v69h1v-170h1v-35h1v2h1v133h1v-138h1v-3h1v9h1v35h1v-37h1v4h1v20h2v30h1v265h2v-202h1v-112h1v115h1v-120h1v162h1v-31h1v-138h2v7h1v53h2v-43h2v63h1v183h1v-236h2v-20h2v-9h1v307h1v-264h1v275h1v-23h1v-278h1v281h2v-147h1v-82h1v24h2v130h1v-10h2v-77h1v-73h1v-27h1v219h1v-58h1v149h1v-229h1v8h2v54h1v70h1v-192h2v22h2v153h2v-159h1v-31h1v-27h1v191h1v-181h1v-23h1v134h2v-60h1v-63h1v5h1v252h1v-272h1v234h1v-198h2v177h1v-61h1v-128h2v324h1v-306h1v-17h2v53h1v-31h1v111h1v-122h1v50h1v89h1v-166h2v44h1v-46h1v23h1v52h1v-53h1v-12h1v-18h2h1h2h1h2h2h1h1h1h1h1h1h2v18h1v-14h2v99h2v-48h2v-45h1v93h1v146h2v-119h1v-39h1v-43h1v144h1v-148h2v287h1v-262h2v79h1v52h1v-163h1v-18h1v54h1v217h1v-184h1v-76h1v1h1v127h1v26h1v-40h1v-137h1v308h2v-254h1v42h1v-14h2v61h1v-132h1v108h2v-2h1v-19h2v-34h1v64h2v-69h1v-52h1v-5h1v10h1v-17h1v1h1v8h2v-10h2v140h1v67h1v-91h2v-51h1v-28h1v40h1v131h1v-162h1h1v63h1v-3h2v33h1v4h1v58h1v-191h1v175h1v-167h2v52h1v59h1v-114h1v42h2v-5h1v-42h1v26h1v-2h1v64h2v150h1v-223h1h2v-13h1v14h1v39h1v-50h1v143h1v-149h2v22h1v-6h2v7h1v184h2v-86h2v-98h2v34h1v-62h1v12h1v-9h1v27h1v-29h1v51h2v-38h1v-18h1v23h2v-11h1v54h2v-61h1v16h1v-11h1v7h1v9h1v-16h1v-2h2v-9h2h2h1h1h1h1h1V5233Z" fill="#e89a10"/>
<path d="M0 5233V5181h1v30h2v5h1v-59h2v50h1v3h1v-28h1v27h1h1v14h1v-35h1v25h1v-3h1v10h2v-22h1v7h1v8h1v-51h2v52h2v-1h1v-7h1v2h1v-1h1v-12h1v-49h1v58h2v-8h1v-26h1v-374h1v-1h1h1v1h1v-8h2v1h2v1h1h1v-1h1v3h1v7h1v-9h1v2h2v106h2v-106h1v-1h1v1h2v5h1v-8h1v2h1v-1h2v4h1v-3h1v27h1v-22h1v-4h1v1h1v168h1v-119h1v35h1v220h1v-249h1v52h1v39h1v105h1v-245h1v32h1v-2h1v32h1v252h1v-117h1v22h1v-145h1v-71h1v63h2v227h2v-290h1v302h2v-202h1v-76h1v165h2v-108h1v-26h2v-39h1v387h1v-343h1v-15h1v-8h1v120h1v-143h1v5h1v-18h1v26h2v364h1v-390h2v87h2v-92h1v33h2v129h2v-142h1v143h2v-17h2v-56h1v-73h2v38h1v30h1v1h1v-53h1v-25h1v329h1v-301h1v124h1v186h1v-263h1v258h1v-258h1v-68h2v379h1v-366h1v-8h2v-28h1v14h1v44h1v-27h1v168h1v84h1v-273h1v-11h1v209h2v7h1v-171h1v-36h1v10h1v278h1v-291h1v-3h1v9h1v35h1v-37h1v4h1v20h2v46h1v264h2v-211h1v-113h1v112h1v-114h1v155h1v-32h1v-126h2v34h1v17h2v-43h2v74h1v169h1v-233h2v15h2v-6h1v268h1v-262h1v279h1v-18h1v-284h1v288h2v-145h1v172h1v-223h2v108h1v-8h2v-53h1v-97h1v-28h1v229h1v-70h1v165h1v-243h1v14h2v57h1v63h1v-165h2v-1h2v165h2v-175h1v-33h1v-27h1v220h1v-212h1v-23h1v143h2v-55h1v-73h1v12h1v286h1v-317h1v288h1v-248h2v179h1v-44h1v-147h2v326h1v-310h1v-3h2v66h1v-48h1v125h1v-13h1v-80h1v97h1v-179h2v44h1v-46h1v23h1v52h1v-53h1v-12h1v318h2v-58h1v15h2v24h1v-107h2v111h2v-321h1h1h1h1h1h1h2v28h1v-16h2v94h2v-45h2v-30h1v74h1v147h2v-95h1v-63h1v-21h1v126h1v-103h2v244h1v-271h2v132h1v150h1v-273h1v-55h1v134h1v154h1v-190h1v-25h1v-64h1v135h1v38h1v-53h1v-125h1v293h2v-243h1v32h1v23h2v19h1v-122h1v104h2v24h1v-50h2v-27h1v78h2v-91h1v-53h1v-5h1v10h1v-17h1v1h1v8h2v-10h2v160h1v48h1v-84h2v-51h1v-35h1v45h1v137h1v-173h1v44h1v56h1v-24h2v24h1h1v69h1v-204h1v189h1v-182h2v58h1v52h1v-114h1v55h2v36h1v-88h1v36h1v-18h1v95h2v141h1v-247h1v7h2v-19h1v30h1v29h1v-53h1v139h1v-135h2v28h1v-26h2v12h1v212h2v-101h2v-116h2v34h1v-62h1v12h1v-9h1v27h1v-29h1v51h2v-38h1v-18h1v23h2v-11h1v54h2v-61h1v16h1v-11h1v7h1v9h1v-16h1v-2h2v-9h2h2h1h1h1h1h1V5233Z" fill="#ee0c4a"/>
<path d="M0 5233V5184h1v30h2v4h1v-52h2v51h1v3h1v-33h1v26h1v-1h1v14h1v-9h1v-2h1h1v9h2v-18h1v5h1v4h1v-42h2v47h2v1h1v-2h1v3h1v1h1v-26h1v-49h1v63h2v-13h1v-21h1v-379h1v1h1v5h1v-6h1v-1h2v6h2v11h1v-23h1v1h1v3h1v27h1v6h1v-33h2v108h2v-110h1v6h1v14h2v-10h1v3h1v-13h1v17h2v19h1v-11h1v8h1v-26h1v56h1v-58h1v187h1v-120h1v62h1v184h1v-256h1v56h1v171h1v-34h1v-60h1v-156h1v13h1v31h1v240h1v-95h1v13h1v-141h1v157h1v-106h2v182h2v-317h1v297h2v-178h1v130h1v-50h2v-116h1v-25h2v-29h1v370h1v-338h1v-3h1v46h1v116h1v-203h1v196h1v-166h1v-22h2v383h1v-287h2v-10h2v-112h1v116h2v59h2v-153h1v133h2v-3h2v-71h1v117h2v-147h1v121h1v-1h1v-98h1v-73h1v363h1v-49h1v-151h1v176h1v-232h1v226h1v-207h1v-119h2v377h1v-255h1v-114h2v26h1v-41h1v168h1v-73h1v99h1v85h1v-268h1v-15h1v196h2v17h1v65h1v-251h1v-9h1v268h1v-295h1v-3h1v9h1v35h1v-37h1v4h1v20h2v145h1v171h2v-195h1v-92h1v103h1v215h1v-203h1v104h1v-256h2v37h1v15h2v-7h2v28h1v234h1v-255h2v6h2v-35h1v287h1v-82h1v134h1v-75h1v-262h1v269h2v-139h1v160h1v-198h2v129h1v-20h2v-19h1v-146h1v-37h1v221h1v-45h1v161h1v-256h1v42h2v27h1v57h1v-145h2v26h2v127h2v-139h1v-74h1v-22h1v227h1v-220h1v17h1v95h2v160h1v-132h1v-141h1v289h1v-323h1v291h1v-75h2v63h1v-90h1v-129h2v313h1v-332h1v8h2v58h1v53h1v61h1v-7h1v-116h1v118h1v-197h2v35h1v-41h1v29h1v69h1v-84h1v-4h1v309h2v-58h1v15h2v24h1v-107h2v111h2v-314h1v6h1v-4h1v-5h1v-3h1v1h1v4h2v101h1v-93h2v262h2v-208h2v18h1v279h1v-102h2v-77h1v-89h1v205h1v-89h1v-116h2v249h1v-238h2v116h1v153h1v-295h1v-47h1v129h1v180h1v-203h1v-13h1v-96h1v246h1v-25h1v73h1v-137h1v140h2v-248h1v174h1v-117h2v14h1v-117h1v110h2v28h1v-53h2v-18h1v75h2v37h1v-200h1v-5h1v10h1v-17h1v1h1v8h2v-10h2v200h1v12h1v-57h2v-54h1v-33h1v113h1v57h1v-47h1v-88h1v150h1v-59h2v-43h1v-1h1v68h1v174h1v-190h1v-181h2v60h1v67h1v-123h1v128h2v-5h1v-120h1v32h1v32h1v84h2v101h1v-248h1v44h2v6h1v-35h1v29h1v-51h1v155h1v-105h2v-18h1v-22h2v27h1v211h2v-103h2v-116h2v19h1v-19h1v-32h1v21h1v12h1v-22h1v34h2v-38h1v-10h1v15h2v-17h1v61h2v-48h1v24h1v-10h1v-19h1v26h1v4h1v-37h2v406h2v17h2v-13h1v16h1v-22h1v18h1v3h1V5233Z" fill="#f0a0b0"/>
<path d="M0 5233V5184h1v30h2v4h1v-52h2v51h1v3h1v-33h1v26h1v-1h1v14h1v-9h1v-2h1h1v9h2v-18h1v5h1v4h1v-42h2v47h2v1h1v-2h1v3h1v1h1v-26h1v-49h1v63h2v-13h1v-21h1v-379h1v1h1v5h1v-6h1v-1h2v6h2v11h1v-23h1v1h1v3h1v27h1v6h1v-33h2v108h2v-110h1v6h1v14h2v-10h1v3h1v-13h1v17h2v19h1v-11h1v8h1v-26h1v56h1v-58h1v271h1v-6h1v88h1v7h1v-279h1v57h1v227h1v-27h1v-75h1v-229h1v14h1v55h1v225h1v36h1v-128h1v46h1v-25h1v-7h2v136h2v-333h1v260h2v-177h1v162h1v-81h2v-120h1v11h2v-63h1v373h1v-327h1v-1h1v40h1v141h1v-236h1v199h1v-172h1v-10h2v368h1v-220h2v-42h2v-147h1v313h2v-136h2v-58h1v39h2v6h2v-73h1v106h2v-145h1v124h1v-1h1v-99h1v-65h1v356h1v-53h1v-143h1v169h1v-233h1v230h1v-202h1v-128h2v386h1v-262h1v4h2v-87h1v15h1v133h1v-85h1v105h1v63h1v-269h1v5h1v223h2v-25h1v79h1v-267h1v-9h1v274h1v-304h1v-3h1v9h1v35h1v-37h1v4h1v20h2v240h1v81h2v-197h1v-27h1v35h1v216h1v-199h1v136h1v45h2v-286h1v2h2v87h2v-29h1v202h1v-246h2v-2h2v-42h1v286h1v-65h1v131h1v-88h1v-260h1v268h2v-139h1v170h1v-168h2v89h1v-7h2v2h1v-160h1v-55h1v266h1v-55h1v135h1v-267h1v58h2v66h1v14h1v-132h2v7h2v151h2v-67h1v-153h1v12h1v278h1v-281h1v334h1v-240h2v129h1v-93h1v-172h1v290h1v74h1v-114h1v-73h2v96h1v-126h1v192h2v-7h1v-333h1v204h2v-111h1v194h1v-63h1v-45h1v-120h1v132h1v-213h2v35h1v-41h1v29h1v69h1v-84h1v-4h1v309h2v-58h1v15h2v24h1v-107h2v111h2v-314h1v6h1v-4h1v-5h1v-3h1v1h1v4h2v102h1v-89h2v262h2v56h2v-250h1v317h1v-128h2v-89h1v-89h1v207h1v-66h1v-142h2v277h1v-261h2v113h1v166h1v-307h1v-41h1v121h1v182h1v-206h1v-10h1v-99h1v247h1v-13h1v69h1v-56h1v106h2v-11h1v-106h1v-114h2v58h1v-160h1v264h2v-140h1v-31h2v-40h1v98h2v12h1v-201h1v-5h1v10h1v-17h1v1h1v8h2v-10h2v342h1v-19h1v-12h2v55h1v-42h1v6h1v40h1v-41h1v-87h1v107h1v-44h2v-61h1v-85h1v69h1v165h1v-188h1v-184h2v64h1v317h1v-325h1v110h2v-33h1v-124h1v33h1v31h1v99h2v115h1v-241h1v165h2v-148h1v-36h1v202h1v-75h1v3h1v-83h2v-32h1v-30h2v398h1v-109h2v-130h2v-109h2v22h1v-16h1v-62h1v18h1v275h1v-280h1v41h2v-47h1v-11h1v14h2v-19h1v78h2v-48h1v14h1v3h1v-34h1v28h1v4h1v-45h2v403h2v17h2v-13h1v16h1v-22h1v18h1v3h1V5233Z" fill="#b03a28"/>
<path d="M0 5233V5184h1v30h2v4h1v-52h2v51h1v3h1v-33h1v26h1v-1h1v14h1v-9h1v-2h1h1v9h2v-18h1v5h1v4h1v-42h2v47h2v1h1v-2h1v3h1v1h1v-26h1v-49h1v63h2v-13h1v-21h1v-379h1v1h1v5h1v-6h1v-1h2v6h2v11h1v-23h1v1h1v3h1v27h1v6h1v-33h2v108h2v-110h1v6h1v14h2v-10h1v3h1v-13h1v17h2v19h1v-11h1v8h1v-26h1v56h1v-58h1v274h1v-4h1v95h1h1v-283h1v92h1v202h1v-33h1v-74h1v-160h1v88h1v-52h1v189h1v49h1v-55h1v-7h1v-55h1v-15h2v161h2v-105h1v65h2v-184h1v134h1v-87h2v-136h1v102h2v-156h1v373h1v-318h1v10h1v28h1v140h1v-163h1v133h1v-180h1v-10h2v365h1v-94h2v-6h2v-306h1v309h2v-132h2v-64h1v41h2v16h2v-73h1v96h2v-141h1v138h1v79h1v-184h1v-73h1v350h1v-44h1v-135h1v188h1v-121h1v107h1v-27h1v-60h2v120h1v-51h1v-195h2v-74h1v1h1v170h1v-62h1v89h1v9h1v-267h1v25h1v226h2v-26h1v168h1v-383h1v289h1v46h1v-307h1v-50h1v-4h1v63h1v1h1v-32h1v-10h2v244h1v104h2v-220h1v-21h1v26h1v208h1v-195h1v176h1v10h2v-278h1v-6h2v78h2v3h1v170h1v-242h2v230h2v-102h1v142h1v-90h1v124h1v-78h1v-233h1v278h2v-178h1v193h1v-117h2v85h1v-73h2v19h1v107h1v-352h1v273h1v-53h1v126h1v-251h1v50h2v172h1v-89h1v-104h2v64h2v61h2v-65h1v11h1v-146h1v284h1v-300h1v338h1v-237h2v133h1v-100h1v108h1v38h1v42h1v-110h1v-19h2v99h1v-18h1v23h2v-6h1v-334h1v213h2v-51h1v132h1v-66h1v-45h1v-62h1v113h1v-257h2v35h1v-41h1v29h1v69h1v-84h1v-4h1v309h2v-58h1v15h2v24h1v-107h2v111h2v-314h1v6h1v-4h1v-5h1v-3h1v1h1v4h2v107h1v-77h2v253h2v70h2v3h1v49h1v-116h2v-89h1v-107h1v244h1v-101h1v-139h2v281h1v-230h2v95h1v165h1v-303h1v-39h1v231h1v47h1v-78h1v119h1v-357h1v251h1v26h1v26h1v-37h1v88h2v-6h1v-35h1v-187h2v61h1v-157h1v255h2v-46h1v-117h2v-49h1v221h2v-111h1v208h1v14h1v-17h1v-1h1v17h1v-27h2v8h2v-60h1v-26h1v-3h2v57h1v-55h1v41h1v3h1v-44h1v10h1v50h1v-7h2v-74h1v-131h1v52h1v165h1v-176h1v170h2v-113h1v139h1v-338h1v124h2v22h1v-87h1v-72h1v44h1v87h2v123h1v-246h1v275h2v-263h1v-13h1v183h1v-38h1v-36h1v6h2v-92h1v239h2v98h1v-78h2v-128h2v-131h2v34h1v-18h1v-36h1v25h1v237h1v-261h1v75h2v-111h1v-7h1v137h2v-99h1v39h2v-38h1v65h1v-47h1v-30h1v36h1v49h1v-95h2v371h2v17h2v-13h1v16h1v-22h1v18h1v3h1V5233Z" fill="#8c1f4e"/>
<path d="M0 5233V5184h1v30h2v4h1v-52h2v51h1v3h1v-33h1v26h1v-1h1v14h1v-9h1v-2h1h1v9h2v-18h1v5h1v4h1v-42h2v47h2v1h1v-2h1v3h1v1h1v-26h1v-49h1v63h2v-13h1v-21h1v-378h1v1h1v6h1v7h1v-11h2v2h2v12h1v-18h1v4h1v1h1v59h1v-28h1v-20h2v90h2v-107h1v5h1v17h2v-8h1v-1h1v-6h1v14h2v20h1v-10h1v1h1v-17h1v52h1v-51h1v349h1v-89h1v104h1v21h1v-309h1v105h1v182h1v-30h1v52h1v-85h1v-82h1v-71h1v214h1v11h1v-1h1v-40h1v-76h1v142h2v2h2v-73h1v51h2v-198h1v153h1v-97h2v-150h1v278h2v42h1h1v-248h1v114h1v-110h1v149h1v-209h1v191h1v-58h1v-42h2v223h1v-100h2v19h2v38h1v-57h2v-129h2v222h1v-140h2v118h2v-176h1v99h2v-243h1v133h1v170h1v-28h1v77h1v-46h1v-42h1v-121h1v168h1v-98h1v87h1v37h1v-86h2v76h1v-5h1v-202h2v212h1v-286h1v160h1v-69h1v198h1v2h1v-385h1v20h1v231h2v37h1v103h1v-373h1v304h1v57h1v-347h1v-50h1v-4h1v63h1v1h1v-32h1v-10h2v275h1v104h2v-237h1v5h1v39h1v174h1v-207h1v177h1v67h2v-341h1v277h2v-189h2v214h1v-55h1v-245h2v232h2v-88h1v189h1v-118h1v99h1v-48h1v-272h1v278h2v-177h1v196h1v-115h2v84h1v-78h2v60h1v66h1v-353h1v282h1v-61h1v126h1v-247h1v126h2v118h1v-74h1v-44h2v-13h2v46h2v-71h1v13h1v-151h1v308h1v-322h1v338h1v-237h2v199h1v-159h1v195h1v-39h1v27h1v-109h1v-6h2v100h1v-37h1v28h2v-10h1v40h1v-155h2v10h1v69h1v-16h1v-80h1v-63h1v108h1v-273h2v35h1v-41h1v29h1v69h1v-84h1v-4h1v350h2v-95h1v15h2v24h1v-14h2v63h2v-363h1v6h1v-4h1v-5h1v-3h1v1h1v4h2v124h1v-94h2v296h2v35h2v-4h1v76h1v-142h2v-54h1v-51h1v185h1v-36h1v101h2v-58h1v-59h2v5h1v89h1v-151h1v-185h1v274h1v38h1v-104h1v108h1v21h1v-133h1v57h1v38h1v-20h1v27h2v9h1v-43h1v-162h2v40h1v137h1v25h2v10h1v35h2v-44h1v19h2v3h1v7h1v14h1v-17h1v-1h1v17h1v-27h2v8h2v-26h1v-42h1v-13h2v81h1v-70h1v74h1v-46h1v-10h1v-22h1v54h1v5h2v-55h1v-111h1v7h1v152h1v-136h1v145h2v-108h1v127h1v-339h1v243h2v-97h1v-66h1v-69h1v78h1v41h2v132h1v4h1v42h2v-306h1v263h1v-77h1v-30h1v-60h1v202h2v10h1v-44h2v84h1v-71h2v-37h2v68h2v9h1h1v-37h1v-44h1v104h1v-51h1v49h2v-29h1v-7h1v33h2v-49h1v17h2v10h1v29h1v-101h1v102h1v-16h1v-22h1v11h2v18h2v17h2v-13h1v16h1v-22h1v18h1v3h1V5233Z" fill="#1f6e18"/>
<path d="M0 5233V5184h1v30h2v4h1v-52h2v51h1v3h1v-33h1v26h1v-1h1v14h1v-9h1v-2h1h1v9h2v-18h1v5h1v4h1v-42h2v47h2v1h1v-2h1v3h1v1h1v-26h1v-49h1v63h2v-13h1v-21h1v-378h1v1h1v6h1v7h1v-11h2v2h2v12h1v-18h1v4h1v1h1v59h1v-28h1v-20h2v90h2v-107h1v5h1v17h2v-8h1v-1h1v-6h1v14h2v20h1v-10h1v1h1v-17h1v52h1v-51h1v354h1v-86h1v118h1v7h1v-313h1v105h1v178h1v-29h1v51h1v-85h1v-64h1v-22h1v149h1v13h1v-2h1v-34h1v-83h1v142h2v1h2v-74h1v56h2v-86h1v39h1v-84h2v-166h1v293h2v28h1v-1h1v-248h1v117h1v-110h1v147h1v-200h1v187h1v-59h1v-44h2v221h1v-77h2v-3h2v73h1v-67h2v-136h2v206h1v-143h2v122h2v-133h1v55h2v-239h1v126h1v172h1v32h1v15h1v-46h1v-19h1v-102h1v126h1v-97h1v85h1v37h1v-85h2v76h1h1v-95h2v100h1v-259h1v147h1v-72h1v188h1v5h1v-389h1v25h1v229h2v35h1v102h1v-374h1v305h1v57h1v-348h1v-50h1v-4h1v63h1v1h1v-32h1v-10h2v355h1v24h2v-233h1v75h1v51h1v89h1v-165h1v134h1v67h2v-341h1v288h2v-179h2v193h1v-17h1v-282h2v231h2v-76h1v177h1v-116h1v98h1v-47h1v-269h1v278h2v-180h1v194h1v-113h2v85h1v-78h2v68h1v56h1v-354h1v283h1v-52h1v118h1v-233h1v110h2v120h1v-75h1v-40h2v-17h2v54h2v-79h1v28h1v-166h1v314h1v-312h1v321h1v-135h2v98h1v-117h1v153h1v-39h1v27h1v-13h1v-101h2v100h1v-37h1v27h2v-9h1v43h1v-151h2v4h1v68h1v-16h1v-81h1v-59h1v119h1v97h2v23h1v-17h1v10h1v-58h1v13h1v59h1v-62h2v-95h1v15h2v24h1v-14h2v63h2v42h1v12h1v7h1h1v1h1v4h1v2h2v-308h1v-93h2v296h2v49h2v-12h1v69h1v-132h2v58h1v-172h1v201h1v-7h1v55h2v-50h1v-65h2v10h1v93h1v-149h1v-197h1v274h1v37h1v-97h1v103h1v21h1v-135h1v60h1v36h1v-10h1v32h2v7h1v-13h1v-153h2v-11h1v149h1v18h2v7h1v31h2v-40h1v17h2v5h1v3h1v14h1v-17h1v-1h1v17h1v-27h2v8h2v-24h1v-31h1v-25h2v86h1v-40h1v39h1v-43h1v-11h1v-16h1v49h1v3h2v-56h1v-110h1v11h1v147h1v-137h1v148h2v-108h1v124h1v-338h1v311h2v-165h1v-62h1v-69h1v73h1v87h2v131h1v-41h1v43h2v-299h1v257h1v-77h1v-8h1v-82h1v203h2v8h1v-45h2v85h1v-40h2v-1h2h2v9h1h1v-37h1v-44h1v104h1v-51h1v49h2v-29h1v-7h1v33h2v-49h1v17h2v10h1v29h1v-101h1v102h1v-16h1v-22h1v11h2v18h2v17h2v-13h1v16h1v-22h1v18h1v3h1V5233Z" fill="#34085a"/>
<path d="M0 5233V5184h1v30h2v4h1v-52h2v51h1v3h1v-33h1v26h1v-1h1v14h1v-9h1v-2h1h1v9h2v-18h1v5h1v4h1v-42h2v47h2v1h1v-2h1v3h1v1h1v-26h1v-49h1v63h2v-13h1v-21h1v-378h1v1h1v6h1v7h1v-11h2v2h2v12h1v-18h1v4h1v1h1v59h1v-28h1v-20h2v90h2v-107h1v5h1v17h2v-8h1v-1h1v-6h1v14h2v20h1v-10h1v1h1v-17h1v52h1v-51h1v359h1v-80h1v109h1v8h1v16h1v-210h1v174h1v-33h1v60h1v13h1v-158h1v-5h1v125h1v7h1h1v-5h1v-22h1v54h2v-4h2v-62h1v38h2v14h1v-33h1v-103h2v148h1v-20h2v26h1v-7h1v-244h1v242h1v-98h1v98h1v-153h1v134h1v11h1v-3h2v21h1v-74h2v-1h2v71h1v-41h2v-60h2v100h1v-132h2v120h2v-38h1v5h2v31h1v-193h1v170h1v31h1v13h1v-7h1v-50h1v19h1v12h1v-43h1v26h1v36h1v-39h2v25h1v13h1v-87h2v82h1v-254h1v254h1v-134h1v146h1v-10h1v4h1v-92h1v39h2v-21h1v74h1v-375h1v306h1v60h1v-353h1v-50h1v-4h1v63h1v1h1v-32h1v-10h2v356h1v44h2v-120h1v-14h1v32h1v63h1v-49h1v24h1v63h2v-342h1v299h2v10h2v5h1v12h1v-17h2v-22h2v-129h1v179h1v-68h1v58h1v-58h1v-265h1v291h2v19h1v19h1v-31h2v-31h1v-76h2v63h1v62h1v24h1v-98h1v-32h1v101h1v-114h1v27h2v85h1v-40h1v-57h2v-30h2v68h2v-97h1v25h1v-173h1v316h1v-207h1v213h1v-113h2v112h1v-2h1v8h1v-40h1v36h1v8h1v-32h2h1v23h1v-37h2h1v33h1v-109h2v68h1v-17h1v-24h1v43h1v-176h1v134h1v62h2v23h1v-17h1v10h1v-58h1v13h1v59h1v-62h2v-95h1v15h2v24h1v-14h2v63h2v42h1v12h1v7h1h1v1h1v4h1v2h2v-202h1v186h2v20h2v-26h2v21h1v3h1v-131h2v72h1v-106h1v121h1v19h1v27h2v-46h1v-32h2v4h1v66h1v-32h1v22h1v-55h1v44h1v-86h1v74h1v21h1v-127h1v75h1v20h1v-15h1v31h2v10h1v-5h1v-153h2v167h1v-30h1v19h2v-5h1v34h2v-4h1v-20h2v8h1v-2h1v14h1v-17h1v-1h1v17h1v-27h2v8h2v17h1v-56h1v-19h2v66h1v-3h1v5h1v-6h1v-11h1v-40h1v66h1v-25h2v22h1v-192h1v24h1v175h1v-150h1v143h2v-134h1v125h1v-315h1v305h2v-146h1v74h1v-47h1v-51h1v187h2v-10h1v-58h1v37h2v-171h1v205h1v9h1v-48h1v-203h1v205h2v17h1v-57h2v83h1v-29h2v-14h2v9h2v-1h1v11h1v17h1v-96h1v92h1v-50h1v51h2v-11h1v-17h1v24h2v4h1v-7h2v-11h1v22h1v-102h1v105h1v-22h1v7h1v-15h2v13h2v17h2v-13h1v16h1v-22h1v18h1v3h1V5233Z" fill="#fc780a"/>
<path d="M0 5233V5230h1v2h2v-4h1v4h2v-4h1h1v-3h1v-4h1v3h1v7h1h1h1h1v-3h2v1h1v2h1v-3h1v5h2v-10h2v5h1v2h1v1h1v-2h1v-4h1h1v-4h2v7h1v-8h1v-408h1v-9h1v4h1v11h1v-14h2v1h2v14h1v-18h1v5h1h1v60h1v-15h1v-35h2v89h2v-100h1h1v17h2v-9h1v-1h1v-5h1v20h2v13h1v-10h1v5h1v-18h1v51h1v-52h1v409h1v7h1h1h1v-3h1v1h1v-13h1v14h1v1h1h1v-9h1v-116h1v117h1v8h1v-19h1v14h1v-33h1v38h2v-3h2v-38h1v40h2v-8h1v-38h1v25h2v18h1v2h2v1h1v2h1v-1h1v-2h1h1v1h1v-1h1v-4h1v5h1v2h2v-1h1v-1h2v-1h2v2h1v-1h2h2h1v-96h2v88h2v-38h1v47h2h1v-12h1v11h1v1h1v1h1h1v-42h1v25h1v17h1v-7h1v2h1v4h1v-5h2v3h1h1v-1h2v-4h1v-13h1v19h1h1v1h1v-2h1v3h1v-7h1v3h2v-1h1v2h1v2h1v-2h1v-1h1v1h1h1v-2h1v-5h1v4h1v3h1v-13h2v-4h1v20h2v-38h1v37h1h1v1h1v-4h1v-4h1v7h2h1h2v-25h2v1h1v25h1v-2h2v-1h2v2h1v1h1v-20h1v11h1v8h1v-35h1v31h2v-3h1v-3h1v8h2v-19h1v-102h2v124h1v-1h1v1h1h1v-6h1v5h1v-30h1v30h2v-4h1v4h1v-23h2v17h2v6h2v-157h1v139h1v16h1v-12h1v-211h1v215h1v-3h2v11h1v1h1v1h1v-10h1v10h1v-1h1v-12h2v11h1v-1h1v-15h2v19h1v-2h1v-1h2v-1h1v2h1h1h1h1v-5h1v1h2v3h1h1v-2h1v-11h1v12h1v2h1v-7h2v4h1v4h2v-4h1v4h2v-2h2v-26h1v9h1v19h1v-2h1h1v-1h1v2h2v-2h1v3h2v-1h2v-7h2v1h1v6h1v-19h2v18h1v3h1v-23h1v19h1v4h2v-8h1v-6h2v8h1v3h1v1h1v-2h1v2h1v1h1v-31h1v21h1v10h1h1v-3h1v2h1v-27h1v-6h2v32h1v-4h1h2v-4h1v5h1v6h2v-5h1v3h2v-2h1v2h2v-2h1v-7h1v10h1v-3h1v3h1h1v-22h2v7h2v15h1h1v1h2v-1h1v-2h1v-3h1v3h1v-5h1v-11h1v16h1h2v-2h1v-16h1v15h1v5h1v-50h1v43h2v-7h1v1h1v-8h1v1h2v17h1v-38h1v36h1v5h1v-5h2v-3h1v9h1v-36h2v36h1v-2h1v1h1v-9h1v9h1h2v-2h1v-18h2v19h1v-11h2v13h2v-12h2v11h1h1h1h1v-6h1v1h1v-1h2v2h1v1h1v3h2v1h1v-1h2v-5h1v4h1v-10h1v11h1v-1h1v-3h1h2v-13h2v15h2v-3h1v5h1v-13h1v7h1v4h1V5233Z" fill="#16a0ec"/>
</g></g>
<path d="M24.42 478.70000000000005V523.3M32.84 478.70000000000005V523.3M41.26 478.70000000000005V523.3M49.68 478.70000000000005V523.3M58.10 478.70000000000005V523.3M66.52 478.70000000000005V523.3M74.94 478.70000000000005V523.3M83.36 478.70000000000005V523.3M91.78 478.70000000000005V523.3M100.20 478.70000000000005V523.3M108.62 478.70000000000005V523.3M117.04 478.70000000000005V523.3M125.46 478.70000000000005V523.3M133.88 478.70000000000005V523.3M142.30 478.70000000000005V523.3M150.72 478.70000000000005V523.3M159.14 478.70000000000005V523.3M167.56 478.70000000000005V523.3M175.98 478.70000000000005V523.3M184.40 478.70000000000005V523.3M192.82 478.70000000000005V523.3M201.24 478.70000000000005V523.3M209.66 478.70000000000005V523.3M218.08 478.70000000000005V523.3M226.50 478.70000000000005V523.3M234.92 478.70000000000005V523.3M243.34 478.70000000000005V523.3M251.76 478.70000000000005V523.3M260.18 478.70000000000005V523.3M268.60 478.70000000000005V523.3M277.02 478.70000000000005V523.3M285.44 478.70000000000005V523.3M293.86 478.70000000000005V523.3M302.28 478.70000000000005V523.3M310.70 478.70000000000005V523.3M319.12 478.70000000000005V523.3M327.54 478.70000000000005V523.3M335.96 478.70000000000005V523.3M344.38 478.70000000000005V523.3M352.80 478.70000000000005V523.3M361.22 478.70000000000005V523.3M369.64 478.70000000000005V523.3M378.06 478.70000000000005V523.3M386.48 478.70000000000005V523.3M394.90 478.70000000000005V523.3M403.32 478.70000000000005V523.3M411.74 478.70000000000005V523.3M420.16 478.70000000000005V523.3M428.58 478.70000000000005V523.3" stroke="#101018" stroke-width="0.6" opacity="0.6"/>
<rect x="14.9" y="477.90000000000003" width="422.90000000000003" height="46.199999999999996" fill="none" stroke="#0a0a0a" stroke-width="1.7"/>
<text x="20.21" y="533.4" font-size="5.5" fill="#000" font-weight="bold" text-anchor="middle" stroke="#000" stroke-width="0.12" transform="rotate(-60 20.21 531.50)">1</text>
<text x="28.63" y="533.4" font-size="5.5" fill="#000" font-weight="bold" text-anchor="middle" stroke="#000" stroke-width="0.12" transform="rotate(-60 28.63 531.50)">2</text>
<text x="37.05" y="533.4" font-size="5.5" fill="#000" font-weight="bold" text-anchor="middle" stroke="#000" stroke-width="0.12" transform="rotate(-60 37.05 531.50)">3</text>
<text x="45.47" y="533.4" font-size="5.5" fill="#000" font-weight="bold" text-anchor="middle" stroke="#000" stroke-width="0.12" transform="rotate(-60 45.47 531.50)">4</text>
<text x="53.89" y="533.4" font-size="5.5" fill="#000" font-weight="bold" text-anchor="middle" stroke="#000" stroke-width="0.12" transform="rotate(-60 53.89 531.50)">5</text>
<text x="62.31" y="533.4" font-size="5.5" fill="#000" font-weight="bold" text-anchor="middle" stroke="#000" stroke-width="0.12" transform="rotate(-60 62.31 531.50)">6</text>
<text x="70.72999999999999" y="533.4" font-size="5.5" fill="#000" font-weight="bold" text-anchor="middle" stroke="#000" stroke-width="0.12" transform="rotate(-60 70.73 531.50)">7</text>
<text x="79.15" y="533.4" font-size="5.5" fill="#000" font-weight="bold" text-anchor="middle" stroke="#000" stroke-width="0.12" transform="rotate(-60 79.15 531.50)">8</text>
<text x="87.57" y="533.4" font-size="5.5" fill="#000" font-weight="bold" text-anchor="middle" stroke="#000" stroke-width="0.12" transform="rotate(-60 87.57 531.50)">9</text>
<text x="95.99" y="533.4" font-size="5.5" fill="#000" font-weight="bold" text-anchor="middle" stroke="#000" stroke-width="0.12" transform="rotate(-60 95.99 531.50)">10</text>
<text x="104.41" y="533.4" font-size="5.5" fill="#000" font-weight="bold" text-anchor="middle" stroke="#000" stroke-width="0.12" transform="rotate(-60 104.41 531.50)">11</text>
<text x="112.83" y="533.4" font-size="5.5" fill="#000" font-weight="bold" text-anchor="middle" stroke="#000" stroke-width="0.12" transform="rotate(-60 112.83 531.50)">12</text>
<text x="121.25" y="533.4" font-size="5.5" fill="#000" font-weight="bold" text-anchor="middle" stroke="#000" stroke-width="0.12" transform="rotate(-60 121.25 531.50)">13</text>
<text x="129.67000000000002" y="533.4" font-size="5.5" fill="#000" font-weight="bold" text-anchor="middle" stroke="#000" stroke-width="0.12" transform="rotate(-60 129.67 531.50)">14</text>
<text x="138.09" y="533.4" font-size="5.5" fill="#000" font-weight="bold" text-anchor="middle" stroke="#000" stroke-width="0.12" transform="rotate(-60 138.09 531.50)">15</text>
<text x="146.51" y="533.4" font-size="5.5" fill="#000" font-weight="bold" text-anchor="middle" stroke="#000" stroke-width="0.12" transform="rotate(-60 146.51 531.50)">16</text>
<text x="154.93" y="533.4" font-size="5.5" fill="#000" font-weight="bold" text-anchor="middle" stroke="#000" stroke-width="0.12" transform="rotate(-60 154.93 531.50)">17</text>
<text x="163.35" y="533.4" font-size="5.5" fill="#000" font-weight="bold" text-anchor="middle" stroke="#000" stroke-width="0.12" transform="rotate(-60 163.35 531.50)">18</text>
<text x="171.77" y="533.4" font-size="5.5" fill="#000" font-weight="bold" text-anchor="middle" stroke="#000" stroke-width="0.12" transform="rotate(-60 171.77 531.50)">19</text>
<text x="180.19" y="533.4" font-size="5.5" fill="#000" font-weight="bold" text-anchor="middle" stroke="#000" stroke-width="0.12" transform="rotate(-60 180.19 531.50)">20</text>
<text x="188.60999999999999" y="533.4" font-size="5.5" fill="#000" font-weight="bold" text-anchor="middle" stroke="#000" stroke-width="0.12" transform="rotate(-60 188.61 531.50)">21</text>
<text x="197.03" y="533.4" font-size="5.5" fill="#000" font-weight="bold" text-anchor="middle" stroke="#000" stroke-width="0.12" transform="rotate(-60 197.03 531.50)">22</text>
<text x="205.45" y="533.4" font-size="5.5" fill="#000" font-weight="bold" text-anchor="middle" stroke="#000" stroke-width="0.12" transform="rotate(-60 205.45 531.50)">23</text>
<text x="213.87" y="533.4" font-size="5.5" fill="#000" font-weight="bold" text-anchor="middle" stroke="#000" stroke-width="0.12" transform="rotate(-60 213.87 531.50)">24</text>
<text x="222.29" y="533.4" font-size="5.5" fill="#000" font-weight="bold" text-anchor="middle" stroke="#000" stroke-width="0.12" transform="rotate(-60 222.29 531.50)">25</text>
<text x="230.71" y="533.4" font-size="5.5" fill="#000" font-weight="bold" text-anchor="middle" stroke="#000" stroke-width="0.12" transform="rotate(-60 230.71 531.50)">26</text>
<text x="239.13" y="533.4" font-size="5.5" fill="#000" font-weight="bold" text-anchor="middle" stroke="#000" stroke-width="0.12" transform="rotate(-60 239.13 531.50)">27</text>
<text x="247.55" y="533.4" font-size="5.5" fill="#000" font-weight="bold" text-anchor="middle" stroke="#000" stroke-width="0.12" transform="rotate(-60 247.55 531.50)">28</text>
<text x="255.97" y="533.4" font-size="5.5" fill="#000" font-weight="bold" text-anchor="middle" stroke="#000" stroke-width="0.12" transform="rotate(-60 255.97 531.50)">29</text>
<text x="264.39" y="533.4" font-size="5.5" fill="#000" font-weight="bold" text-anchor="middle" stroke="#000" stroke-width="0.12" transform="rotate(-60 264.39 531.50)">30</text>
<text x="272.81" y="533.4" font-size="5.5" fill="#000" font-weight="bold" text-anchor="middle" stroke="#000" stroke-width="0.12" transform="rotate(-60 272.81 531.50)">31</text>
<text x="281.23" y="533.4" font-size="5.5" fill="#000" font-weight="bold" text-anchor="middle" stroke="#000" stroke-width="0.12" transform="rotate(-60 281.23 531.50)">32</text>
<text x="289.65" y="533.4" font-size="5.5" fill="#000" font-weight="bold" text-anchor="middle" stroke="#000" stroke-width="0.12" transform="rotate(-60 289.65 531.50)">33</text>
<text x="298.07" y="533.4" font-size="5.5" fill="#000" font-weight="bold" text-anchor="middle" stroke="#000" stroke-width="0.12" transform="rotate(-60 298.07 531.50)">34</text>
<text x="306.49" y="533.4" font-size="5.5" fill="#000" font-weight="bold" text-anchor="middle" stroke="#000" stroke-width="0.12" transform="rotate(-60 306.49 531.50)">35</text>
<text x="314.91" y="533.4" font-size="5.5" fill="#000" font-weight="bold" text-anchor="middle" stroke="#000" stroke-width="0.12" transform="rotate(-60 314.91 531.50)">36</text>
<text x="323.33" y="533.4" font-size="5.5" fill="#000" font-weight="bold" text-anchor="middle" stroke="#000" stroke-width="0.12" transform="rotate(-60 323.33 531.50)">37</text>
<text x="331.75" y="533.4" font-size="5.5" fill="#000" font-weight="bold" text-anchor="middle" stroke="#000" stroke-width="0.12" transform="rotate(-60 331.75 531.50)">38</text>
<text x="340.17" y="533.4" font-size="5.5" fill="#000" font-weight="bold" text-anchor="middle" stroke="#000" stroke-width="0.12" transform="rotate(-60 340.17 531.50)">39</text>
<text x="348.59" y="533.4" font-size="5.5" fill="#000" font-weight="bold" text-anchor="middle" stroke="#000" stroke-width="0.12" transform="rotate(-60 348.59 531.50)">40</text>
<text x="357.01" y="533.4" font-size="5.5" fill="#000" font-weight="bold" text-anchor="middle" stroke="#000" stroke-width="0.12" transform="rotate(-60 357.01 531.50)">41</text>
<text x="365.43" y="533.4" font-size="5.5" fill="#000" font-weight="bold" text-anchor="middle" stroke="#000" stroke-width="0.12" transform="rotate(-60 365.43 531.50)">42</text>
<text x="373.85" y="533.4" font-size="5.5" fill="#000" font-weight="bold" text-anchor="middle" stroke="#000" stroke-width="0.12" transform="rotate(-60 373.85 531.50)">43</text>
<text x="382.27" y="533.4" font-size="5.5" fill="#000" font-weight="bold" text-anchor="middle" stroke="#000" stroke-width="0.12" transform="rotate(-60 382.27 531.50)">44</text>
<text x="390.69" y="533.4" font-size="5.5" fill="#000" font-weight="bold" text-anchor="middle" stroke="#000" stroke-width="0.12" transform="rotate(-60 390.69 531.50)">45</text>
<text x="399.11" y="533.4" font-size="5.5" fill="#000" font-weight="bold" text-anchor="middle" stroke="#000" stroke-width="0.12" transform="rotate(-60 399.11 531.50)">46</text>
<text x="407.53" y="533.4" font-size="5.5" fill="#000" font-weight="bold" text-anchor="middle" stroke="#000" stroke-width="0.12" transform="rotate(-60 407.53 531.50)">47</text>
<text x="415.95" y="533.4" font-size="5.5" fill="#000" font-weight="bold" text-anchor="middle" stroke="#000" stroke-width="0.12" transform="rotate(-60 415.95 531.50)">48</text>
<text x="424.37" y="533.4" font-size="5.5" fill="#000" font-weight="bold" text-anchor="middle" stroke="#000" stroke-width="0.12" transform="rotate(-60 424.37 531.50)">49</text>
<text x="432.79" y="533.4" font-size="5.5" fill="#000" font-weight="bold" text-anchor="middle" stroke="#000" stroke-width="0.12" transform="rotate(-60 432.79 531.50)">50</text>
<text transform="translate(442.90 501.90) scale(0.920 1)" font-size="8.2" fill="#111" font-weight="normal" text-anchor="start" stroke="#111" stroke-width="0.1" >K=13</text>
</svg></body></html>
